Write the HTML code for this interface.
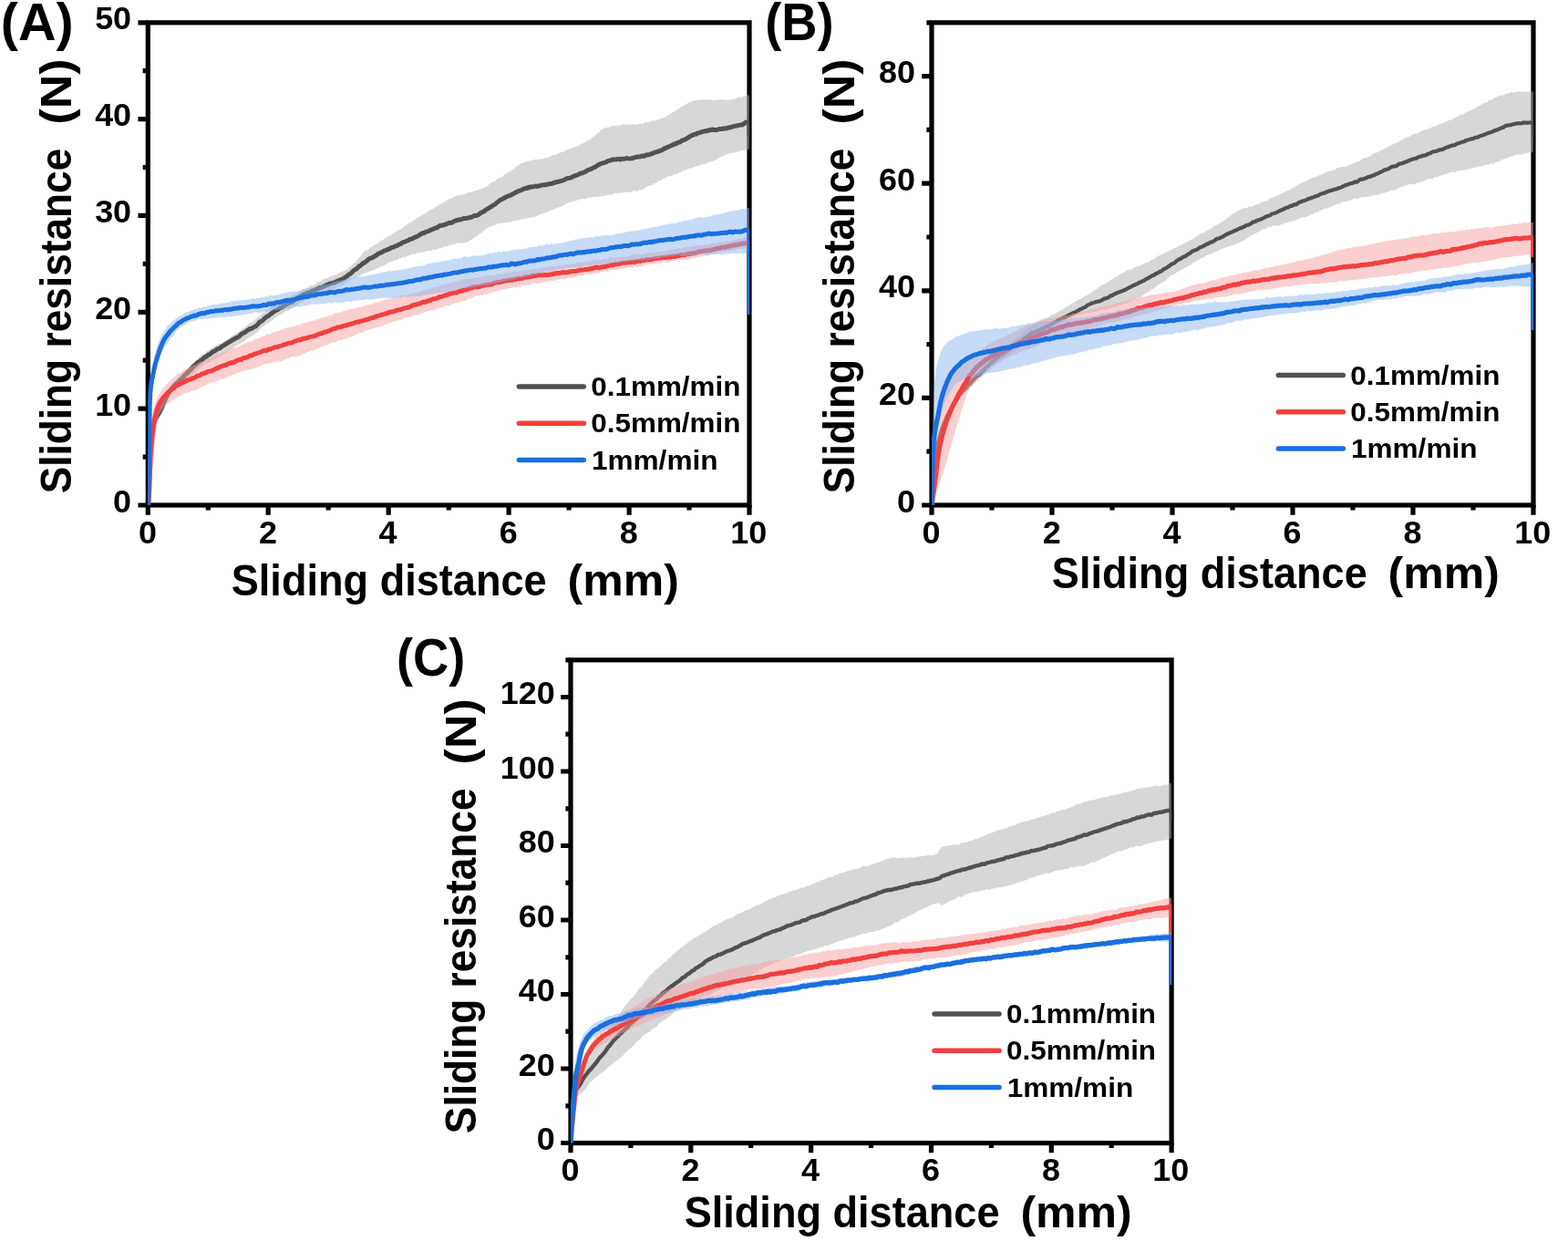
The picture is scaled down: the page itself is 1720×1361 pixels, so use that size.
<!DOCTYPE html>
<html lang="en"><head><meta charset="utf-8"><title>Sliding resistance vs sliding distance</title>
<style>html,body{margin:0;padding:0;background:#fff}body{width:1720px;height:1361px;overflow:hidden}svg{display:block}text{font-family:'Liberation Sans', sans-serif;font-weight:700;fill:#000}</style></head><body>
<svg width="1720" height="1361" viewBox="0 0 1720 1361">
<rect width="1720" height="1361" fill="#fff"/>
<g id="panelA">
<clipPath id="clipA"><rect x="162.3" y="24.8" width="660" height="529.2"/></clipPath>
<rect x="162.3" y="24.8" width="659.7" height="529.2" fill="none" stroke="#000" stroke-width="5.2"/>
<path d="M151.5 554H162.3M151.5 448.1H162.3M151.5 342.3H162.3M151.5 236.4H162.3M151.5 130.6H162.3M151.5 24.8H162.3M156.7 501.1H162.3M156.7 395.2H162.3M156.7 289.4H162.3M156.7 183.5H162.3M156.7 77.7H162.3M162.3 554V564.8M228.3 554V559.6M294.2 554V564.8M360.2 554V559.6M426.2 554V564.8M492.2 554V559.6M558.1 554V564.8M624.1 554V559.6M690.1 554V564.8M756 554V559.6M822 554V564.8" stroke="#000" stroke-width="5.2" fill="none"/>
<g clip-path="url(#clipA)" fill="none" stroke-linejoin="round">
<path d="M162.5 554 L162.7 545.2 L162.9 536.9 L163.1 529 L163.3 521.7 L163.5 515 L163.7 508.9 L163.9 503.3 L164.1 497.9 L164.3 492.7 L164.5 488 L164.7 484.1 L164.9 481.1 L165.1 479.1 L165.3 477.4 L165.5 475.8 L165.7 474.2 L165.9 472.8 L166.1 471.4 L166.3 470.1 L166.5 468.9 L166.7 467.8 L166.9 466.8 L167.1 465.8 L167.3 464.8 L167.5 463.9 L167.7 463.1 L167.9 462.4 L168.1 461.6 L168.3 460.9 L168.5 460.2 L168.7 459.6 L168.9 459 L169.1 458.5 L169.3 457.9 L169.5 457.4 L169.7 456.9 L169.9 456.3 L170.1 455.8 L170.3 455.3 L170.5 454.8 L170.7 454.3 L170.9 454 L171.1 453.5 L171.3 453.1 L171.5 452.8 L171.7 452.3 L171.9 452 L172.1 451.8 L172.3 451.2 L172.5 450.8 L172.7 450.7 L172.9 450.4 L173.1 450 L173.3 449.7 L173.5 449.4 L173.7 449.3 L173.9 448.9 L174.1 448.4 L174.3 448.2 L174.5 447.8 L175.7 445.5 L176.9 443 L178.1 440.6 L179.3 438.2 L180.5 435.9 L181.7 432.9 L182.9 430 L184.1 427.9 L185.3 425.5 L186.5 423.2 L187.7 421.9 L188.9 420.8 L190.1 419.6 L191.3 418 L192.5 416.5 L193.7 415.5 L194.9 414.8 L196.1 413.6 L197.3 412.2 L198.5 411.2 L199.7 410.1 L200.9 408.8 L202.1 407.4 L203.3 406.2 L204.5 405.1 L205.7 404 L206.9 403.2 L208.1 401.6 L209.3 400.3 L210.5 399.1 L211.7 398 L212.9 397 L214.1 395.8 L215.3 394.5 L216.5 393.4 L217.7 392.4 L218.9 390.8 L220.1 390.2 L221.3 389.4 L222.5 388.5 L223.7 388.3 L224.9 387.2 L226.1 385.5 L227.3 385 L228.5 384.3 L229.7 383.4 L230.9 382.4 L232.1 381.7 L233.3 381.2 L234.5 380.2 L235.7 379.4 L236.9 378.9 L238.1 378.1 L239.3 377.6 L240.5 377.2 L241.7 376.7 L242.9 376.4 L244.1 375.5 L245.3 374.7 L246.5 373.9 L247.7 372.8 L248.9 371.9 L250.1 371.7 L251.3 370.7 L252.5 370 L253.7 369.1 L254.9 368.1 L256.1 367.5 L257.3 366.6 L258.5 366 L259.7 364.5 L260.9 364 L262.1 363.8 L263.3 362.7 L264.5 361.5 L265.7 360.7 L266.9 359.7 L268.1 359.3 L269.3 358.5 L270.5 357.2 L271.7 356.3 L272.9 355.4 L274.1 354.3 L275.3 353.8 L276.5 353.2 L277.7 352.3 L278.9 351.4 L280.1 350.2 L281.3 349.1 L282.5 348.1 L283.7 347.3 L284.9 346.4 L286.1 345.4 L287.3 344.1 L288.5 343 L289.7 342.8 L290.9 341.9 L292.1 340.3 L293.3 339.6 L294.5 339.2 L295.7 338.1 L296.9 336.9 L298.1 336.2 L299.3 335 L300.5 334.5 L301.7 334.1 L302.9 333.4 L304.1 332.5 L305.3 331.8 L306.5 331.3 L307.7 330.4 L308.9 329.6 L310.1 328.6 L311.3 328.6 L312.5 328.2 L313.7 327.5 L314.9 327 L316.1 326.3 L317.3 325.6 L318.5 325.1 L319.7 324.7 L320.9 323.8 L322.1 323.2 L323.3 322.8 L324.5 322.4 L325.7 321.5 L326.9 320.5 L328.1 319.2 L329.3 318.9 L330.5 318.8 L331.7 317.8 L332.9 317.2 L334.1 316.8 L335.3 316.4 L336.5 315.7 L337.7 314.9 L338.9 314.4 L340.1 313.8 L341.3 313.1 L342.5 313 L343.7 312.4 L344.9 312.2 L346.1 311.7 L347.3 310.4 L348.5 309.1 L349.7 309 L350.9 308.6 L352.1 307.8 L353.3 307.6 L354.5 306.4 L355.7 305.3 L356.9 305.3 L358.1 305.4 L359.3 304.7 L360.5 304.2 L361.7 303.7 L362.9 302.9 L364.1 302.7 L365.3 302.3 L366.5 301.5 L367.7 301.5 L368.9 301.3 L370.1 300.8 L371.3 300 L372.5 299.2 L373.7 298.8 L374.9 298.1 L376.1 297.7 L377.3 296.9 L378.5 296.2 L379.7 295.9 L380.9 295.4 L382.1 294.1 L383.3 293 L384.5 292.5 L385.7 291.3 L386.9 289.9 L388.1 288.6 L389.3 287.9 L390.5 286.7 L391.7 285.3 L392.9 283.9 L394.1 282.6 L395.3 281.3 L396.5 279.1 L397.7 277.7 L398.9 276.7 L400.1 275.1 L401.3 274.5 L402.5 274.7 L403.7 274.1 L404.9 272.6 L406.1 271.5 L407.3 271.1 L408.5 270.6 L409.7 269.5 L410.9 268.8 L412.1 268 L413.3 267.4 L414.5 266.7 L415.7 265.8 L416.9 264.7 L418.1 264 L419.3 263.4 L420.5 262.8 L421.7 261.9 L422.9 260.8 L424.1 260.4 L425.3 259.3 L426.5 259.1 L427.7 259.1 L428.9 257.9 L430.1 257.1 L431.3 256.6 L432.5 255 L433.7 254.2 L434.9 254.2 L436.1 253.3 L437.3 252.5 L438.5 251.6 L439.7 251.3 L440.9 250.7 L442.1 249.8 L443.3 248.6 L444.5 248.1 L445.7 247.1 L446.9 245.9 L448.1 244.7 L449.3 244.2 L450.5 244.2 L451.7 243.2 L452.9 242.4 L454.1 241.4 L455.3 240.6 L456.5 239.7 L457.7 238.8 L458.9 238.1 L460.1 237.9 L461.3 237.2 L462.5 236.2 L463.7 235.3 L464.9 234.3 L466.1 234.1 L467.3 233.7 L468.5 232.5 L469.7 231.5 L470.9 230.6 L472.1 230.2 L473.3 230 L474.5 229.2 L475.7 228.4 L476.9 227.7 L478.1 227.1 L479.3 226.2 L480.5 225.2 L481.7 224.7 L482.9 224.3 L484.1 223.6 L485.3 222.7 L486.5 222.4 L487.7 221.5 L488.9 220.2 L490.1 219.6 L491.3 219.2 L492.5 218.2 L493.7 217.8 L494.9 217.8 L496.1 217.2 L497.3 216.1 L498.5 215.5 L499.7 215.4 L500.9 214.8 L502.1 214 L503.3 214.2 L504.5 213.9 L505.7 213.6 L506.9 213.8 L508.1 213.2 L509.3 212.8 L510.5 212.9 L511.7 212.5 L512.9 211.4 L514.1 210.8 L515.3 210.7 L516.5 211.2 L517.7 211.1 L518.9 210.1 L520.1 209.4 L521.3 209.1 L522.5 208.9 L523.7 208.5 L524.9 208.1 L526.1 207.7 L527.3 207.3 L528.5 206.7 L529.7 206.4 L530.9 205.7 L532.1 205.1 L533.3 204.9 L534.5 204.3 L535.7 203.1 L536.9 201.8 L538.1 201.2 L539.3 200.4 L540.5 199.1 L541.7 199 L542.9 198.7 L544.1 197.7 L545.3 196.3 L546.5 195.5 L547.7 194.9 L548.9 194.3 L550.1 194.5 L551.3 193.7 L552.5 192.3 L553.7 191.2 L554.9 190.6 L556.1 190 L557.3 188.9 L558.5 188.2 L559.7 187.4 L560.9 186.8 L562.1 186.4 L563.3 185.6 L564.5 184.2 L565.7 183.3 L566.9 182.5 L568.1 181.5 L569.3 180.8 L570.5 180 L571.7 179 L572.9 178.9 L574.1 178.6 L575.3 178 L576.5 177.9 L577.7 177.2 L578.9 176.4 L580.1 176.6 L581.3 176.5 L582.5 176.1 L583.7 176 L584.9 175.8 L586.1 175.2 L587.3 174.8 L588.5 175.1 L589.7 175.4 L590.9 174.5 L592.1 174.3 L593.3 174.7 L594.5 174.5 L595.7 174 L596.9 173.4 L598.1 172.8 L599.3 173.2 L600.5 173.1 L601.7 172.4 L602.9 171.8 L604.1 171.1 L605.3 170.5 L606.5 169.9 L607.7 170.3 L608.9 169.7 L610.1 169.3 L611.3 169.1 L612.5 168.3 L613.7 167.7 L614.9 167.3 L616.1 167 L617.3 166.6 L618.5 166.1 L619.7 165.7 L620.9 165.1 L622.1 164.2 L623.3 163.8 L624.5 163.8 L625.7 163 L626.9 162.3 L628.1 162 L629.3 161.4 L630.5 161.4 L631.7 160.8 L632.9 160.4 L634.1 159.9 L635.3 159.1 L636.5 158.7 L637.7 157.9 L638.9 157.5 L640.1 157.1 L641.3 156.4 L642.5 155.7 L643.7 154.5 L644.9 153.7 L646.1 153.4 L647.3 152.9 L648.5 151.9 L649.7 151 L650.9 149.9 L652.1 149.2 L653.3 148.3 L654.5 146.6 L655.7 145.8 L656.9 145.4 L658.1 144 L659.3 142.5 L660.5 141.8 L661.7 141 L662.9 140.9 L664.1 140.5 L665.3 139.8 L666.5 139.7 L667.7 139.4 L668.9 139.1 L670.1 138.6 L671.3 138 L672.5 137.5 L673.7 138 L674.9 138.1 L676.1 137.7 L677.3 137.6 L678.5 137.3 L679.7 137.3 L680.9 137.6 L682.1 137.1 L683.3 136.1 L684.5 136.2 L685.7 136.2 L686.9 136.6 L688.1 137.2 L689.3 136.7 L690.5 136.1 L691.7 136.2 L692.9 136.9 L694.1 136.3 L695.3 136.1 L696.5 136.5 L697.7 136.5 L698.9 136.4 L700.1 135.9 L701.3 135.7 L702.5 135.3 L703.7 135.9 L704.9 136.1 L706.1 135.3 L707.3 134.6 L708.5 133.9 L709.7 133.7 L710.9 133.9 L712.1 133.7 L713.3 133.4 L714.5 132.8 L715.7 132.5 L716.9 132.5 L718.1 132.4 L719.3 132.5 L720.5 132.1 L721.7 131.2 L722.9 130.9 L724.1 130.6 L725.3 130 L726.5 129.6 L727.7 129 L728.9 128.7 L730.1 128.1 L731.3 127.4 L732.5 126.7 L733.7 125.9 L734.9 124.9 L736.1 124.2 L737.3 123.6 L738.5 123.1 L739.7 122.6 L740.9 121.4 L742.1 120.7 L743.3 119.9 L744.5 118.9 L745.7 118.5 L746.9 117.4 L748.1 116.6 L749.3 116.5 L750.5 115.8 L751.7 115 L752.9 114.2 L754.1 113.3 L755.3 112.6 L756.5 112 L757.7 111.7 L758.9 111 L760.1 110.5 L761.3 110.5 L762.5 110.2 L763.7 109.9 L764.9 109.9 L766.1 109.4 L767.3 109.3 L768.5 109.6 L769.7 109.5 L770.9 109.5 L772.1 109.1 L773.3 109 L774.5 109.4 L775.7 109.6 L776.9 109.5 L778.1 109.1 L779.3 109.3 L780.5 110 L781.7 110.2 L782.9 110.1 L784.1 109.4 L785.3 109.7 L786.5 110 L787.7 109.2 L788.9 109.2 L790.1 109.4 L791.3 108.9 L792.5 109 L793.7 109.6 L794.9 109.6 L796.1 109.3 L797.3 109.8 L798.5 110.2 L799.7 109.6 L800.9 109.2 L802.1 108.8 L803.3 108.5 L804.5 108.7 L805.7 108.7 L806.9 108.1 L808.1 107.8 L809.3 107.1 L810.5 106.3 L811.7 106.4 L812.9 106.4 L814.1 106.2 L815.3 106 L816.5 105.6 L817.7 105.4 L818.9 104.9 L820.1 104.3 L821.3 104.6 L822 105.1 L822 163 L821.3 163.7 L820.1 164.2 L818.9 164.4 L817.7 164.5 L816.5 164.3 L815.3 164.7 L814.1 164.7 L812.9 164.8 L811.7 165.3 L810.5 165.9 L809.3 166.6 L808.1 166.7 L806.9 166.9 L805.7 167.5 L804.5 167.6 L803.3 167.7 L802.1 167.6 L800.9 168 L799.7 168.6 L798.5 168.8 L797.3 169.3 L796.1 169.6 L794.9 169.8 L793.7 170.7 L792.5 171.7 L791.3 171.7 L790.1 172.2 L788.9 173 L787.7 173.5 L786.5 174.9 L785.3 175.5 L784.1 175.6 L782.9 176.6 L781.7 176.8 L780.5 176.7 L779.3 177.5 L778.1 178 L776.9 178.3 L775.7 178.7 L774.5 179.2 L773.3 179.9 L772.1 179.9 L770.9 180 L769.7 180.6 L768.5 180.9 L767.3 180.9 L766.1 181.9 L764.9 182.2 L763.7 182.2 L762.5 183 L761.3 183.2 L760.1 183.5 L758.9 184.3 L757.7 184.4 L756.5 184.5 L755.3 185 L754.1 185.7 L752.9 186.3 L751.7 187 L750.5 187 L749.3 186.8 L748.1 188.1 L746.9 188.6 L745.7 188.7 L744.5 189.6 L743.3 190.3 L742.1 190.7 L740.9 191.1 L739.7 190.9 L738.5 191.5 L737.3 192.7 L736.1 192.9 L734.9 193.3 L733.7 193.5 L732.5 193.8 L731.3 194.2 L730.1 194.8 L728.9 195.9 L727.7 196.2 L726.5 196.4 L725.3 197.5 L724.1 198.2 L722.9 198.2 L721.7 198.8 L720.5 200.1 L719.3 200.9 L718.1 200.9 L716.9 201.3 L715.7 202.7 L714.5 203 L713.3 203.4 L712.1 203.9 L710.9 204.1 L709.7 204.9 L708.5 205.5 L707.3 206.3 L706.1 207.3 L704.9 207.8 L703.7 208.3 L702.5 208.1 L701.3 208 L700.1 209.3 L698.9 209.9 L697.7 209.4 L696.5 209 L695.3 209.3 L694.1 209.4 L692.9 210.4 L691.7 210.7 L690.5 210.2 L689.3 210.7 L688.1 210.9 L686.9 211 L685.7 210.6 L684.5 210.8 L683.3 211.2 L682.1 211.5 L680.9 211.4 L679.7 211.3 L678.5 211.7 L677.3 211.9 L676.1 212.2 L674.9 211.6 L673.7 212.1 L672.5 212.9 L671.3 213.3 L670.1 213.2 L668.9 213.5 L667.7 213.8 L666.5 213.6 L665.3 214 L664.1 214.5 L662.9 214.9 L661.7 215 L660.5 215.2 L659.3 215.5 L658.1 215.5 L656.9 215.6 L655.7 215.7 L654.5 215.9 L653.3 216.1 L652.1 216 L650.9 215.8 L649.7 216.6 L648.5 216.4 L647.3 216.5 L646.1 216.9 L644.9 216.8 L643.7 217.1 L642.5 217.8 L641.3 218.4 L640.1 218.4 L638.9 218.3 L637.7 218 L636.5 218.3 L635.3 218.9 L634.1 219.4 L632.9 219.5 L631.7 220.1 L630.5 220.2 L629.3 220.4 L628.1 221.1 L626.9 221.3 L625.7 221.8 L624.5 222 L623.3 222.2 L622.1 222.6 L620.9 223.7 L619.7 224.3 L618.5 224.8 L617.3 225.9 L616.1 226 L614.9 226.5 L613.7 227.3 L612.5 227.2 L611.3 227.7 L610.1 228.2 L608.9 229 L607.7 229.6 L606.5 229.9 L605.3 230.1 L604.1 230.8 L602.9 231.5 L601.7 231.9 L600.5 232.3 L599.3 232.7 L598.1 233.5 L596.9 233.5 L595.7 233.8 L594.5 234.5 L593.3 234.9 L592.1 234.9 L590.9 235.5 L589.7 236.3 L588.5 236.9 L587.3 237.2 L586.1 237.7 L584.9 238.2 L583.7 238.1 L582.5 238.4 L581.3 238.5 L580.1 238.7 L578.9 238.9 L577.7 239.8 L576.5 240.1 L575.3 239.7 L574.1 239.8 L572.9 240.2 L571.7 240.7 L570.5 241.1 L569.3 241.4 L568.1 241.1 L566.9 241.5 L565.7 242.1 L564.5 242 L563.3 242.3 L562.1 242.6 L560.9 242.9 L559.7 243.8 L558.5 243.9 L557.3 243.5 L556.1 244 L554.9 244.4 L553.7 244.3 L552.5 244.5 L551.3 244.7 L550.1 244.7 L548.9 244.8 L547.7 245.1 L546.5 245.4 L545.3 245.4 L544.1 246.2 L542.9 247.1 L541.7 246.9 L540.5 247.2 L539.3 247.9 L538.1 248.4 L536.9 248.5 L535.7 249.4 L534.5 250.4 L533.3 250.7 L532.1 251.9 L530.9 253 L529.7 253.8 L528.5 255.1 L527.3 256 L526.1 256.4 L524.9 257.3 L523.7 258.5 L522.5 259.3 L521.3 259.8 L520.1 260.6 L518.9 261.8 L517.7 262.4 L516.5 263.1 L515.3 264.2 L514.1 264.5 L512.9 264.9 L511.7 265.9 L510.5 266 L509.3 265.9 L508.1 266.6 L506.9 266.8 L505.7 266.5 L504.5 266.8 L503.3 266.6 L502.1 266.2 L500.9 266.9 L499.7 267.4 L498.5 267.6 L497.3 268.2 L496.1 268.7 L494.9 268.8 L493.7 268.5 L492.5 268.9 L491.3 270 L490.1 270.3 L488.9 270.1 L487.7 270.6 L486.5 270.8 L485.3 271.4 L484.1 272.1 L482.9 272.4 L481.7 272.1 L480.5 272.5 L479.3 273.4 L478.1 273.6 L476.9 274 L475.7 274 L474.5 273.7 L473.3 274.7 L472.1 275.2 L470.9 274.9 L469.7 275.2 L468.5 275 L467.3 275.2 L466.1 276.2 L464.9 276.2 L463.7 276.5 L462.5 276.7 L461.3 277 L460.1 277.3 L458.9 277.2 L457.7 277.5 L456.5 277.8 L455.3 278.4 L454.1 278.8 L452.9 278.3 L451.7 279 L450.5 279.6 L449.3 279.8 L448.1 280.4 L446.9 280.3 L445.7 281.2 L444.5 282.2 L443.3 281.4 L442.1 281.7 L440.9 282.7 L439.7 282.9 L438.5 283.1 L437.3 283.7 L436.1 284.6 L434.9 285.4 L433.7 285.2 L432.5 285.3 L431.3 286.2 L430.1 286.5 L428.9 287 L427.7 287.4 L426.5 287.8 L425.3 288.6 L424.1 289.3 L422.9 290 L421.7 291 L420.5 291.3 L419.3 292 L418.1 292.8 L416.9 292.3 L415.7 293.4 L414.5 294.4 L413.3 294.2 L412.1 294.9 L410.9 295.8 L409.7 296.3 L408.5 296.8 L407.3 297.1 L406.1 297.3 L404.9 297.5 L403.7 298.2 L402.5 299.2 L401.3 299.6 L400.1 299.8 L398.9 300.2 L397.7 300.6 L396.5 301.2 L395.3 301.9 L394.1 302.7 L392.9 303.4 L391.7 304.5 L390.5 305.1 L389.3 304.9 L388.1 305.3 L386.9 305.8 L385.7 306.3 L384.5 307.5 L383.3 308.6 L382.1 309 L380.9 309.5 L379.7 310.4 L378.5 311.1 L377.3 311.9 L376.1 312.8 L374.9 313.1 L373.7 314 L372.5 314.3 L371.3 314.1 L370.1 314.8 L368.9 315.6 L367.7 316.6 L366.5 317.3 L365.3 317.4 L364.1 317.8 L362.9 318.1 L361.7 318.5 L360.5 318.4 L359.3 318.9 L358.1 319.7 L356.9 320.2 L355.7 320.4 L354.5 321.2 L353.3 322.4 L352.1 321.8 L350.9 321.4 L349.7 323 L348.5 323.3 L347.3 323.6 L346.1 324.5 L344.9 324.9 L343.7 325.9 L342.5 326.3 L341.3 326.3 L340.1 326.4 L338.9 327 L337.7 328 L336.5 329 L335.3 329.2 L334.1 329.8 L332.9 330.3 L331.7 331 L330.5 331.6 L329.3 332.4 L328.1 333.4 L326.9 334.3 L325.7 335.2 L324.5 335.8 L323.3 336.6 L322.1 337.1 L320.9 337.8 L319.7 338.4 L318.5 339 L317.3 340.3 L316.1 341.2 L314.9 340.9 L313.7 341 L312.5 341.9 L311.3 342.8 L310.1 343.6 L308.9 344.6 L307.7 345.4 L306.5 345.5 L305.3 346.1 L304.1 346.9 L302.9 347.9 L301.7 349 L300.5 349.5 L299.3 350.6 L298.1 351.5 L296.9 352.4 L295.7 353.7 L294.5 354.2 L293.3 354.8 L292.1 355.6 L290.9 356.7 L289.7 357.6 L288.5 358 L287.3 359.1 L286.1 360.3 L284.9 361.4 L283.7 363.1 L282.5 364.3 L281.3 365.3 L280.1 365.6 L278.9 366.6 L277.7 367.8 L276.5 368.8 L275.3 368.8 L274.1 368.8 L272.9 370.4 L271.7 371.1 L270.5 371.7 L269.3 373 L268.1 374.1 L266.9 374.9 L265.7 375.2 L264.5 376.3 L263.3 376.8 L262.1 377.3 L260.9 378.8 L259.7 379.1 L258.5 379.2 L257.3 379.9 L256.1 381.6 L254.9 382.4 L253.7 382.7 L252.5 383.6 L251.3 384.9 L250.1 385.4 L248.9 386.3 L247.7 387.5 L246.5 387.8 L245.3 388.1 L244.1 389.3 L242.9 390.3 L241.7 390.4 L240.5 390.8 L239.3 391.6 L238.1 393.1 L236.9 393.7 L235.7 394 L234.5 394.9 L233.3 395.4 L232.1 395.4 L230.9 396.8 L229.7 397.9 L228.5 398.1 L227.3 398.3 L226.1 398.5 L224.9 399.3 L223.7 400.2 L222.5 401.1 L221.3 401.7 L220.1 402.7 L218.9 404 L217.7 404.8 L216.5 405.4 L215.3 406.8 L214.1 408.2 L212.9 409.3 L211.7 410.3 L210.5 411.1 L209.3 411.7 L208.1 413.2 L206.9 414.4 L205.7 415.2 L204.5 416.7 L203.3 417.9 L202.1 419.4 L200.9 420.5 L199.7 420.4 L198.5 421 L197.3 422.2 L196.1 423.4 L194.9 424.6 L193.7 424.9 L192.5 425.6 L191.3 427.1 L190.1 428.5 L188.9 429.7 L187.7 430.6 L186.5 431.5 L185.3 433.8 L184.1 436.6 L182.9 438.9 L181.7 441.6 L180.5 444.3 L179.3 447 L178.1 450.1 L176.9 452.9 L175.7 455.6 L174.5 457.9 L174.3 458.3 L174.1 458.5 L173.9 459 L173.7 459.6 L173.5 459.7 L173.3 460.1 L173.1 460.4 L172.9 460.7 L172.7 461 L172.5 461.5 L172.3 461.9 L172.1 462.3 L171.9 462.6 L171.7 463 L171.5 463.4 L171.3 463.8 L171.1 464 L170.9 464.5 L170.7 465.1 L170.5 465.8 L170.3 466.4 L170.1 467 L169.9 467.7 L169.7 468.4 L169.5 469.2 L169.3 470.1 L169.1 471.1 L168.9 472.2 L168.7 473.5 L168.5 474.7 L168.3 476.1 L168.1 477.5 L167.9 479 L167.7 480.7 L167.5 482.4 L167.3 484.2 L167.1 486.1 L166.9 488.1 L166.7 490.2 L166.5 492.4 L166.3 494.7 L166.1 497.3 L165.9 501 L165.7 505.3 L165.5 510.1 L165.3 515.2 L165.1 520.2 L164.9 524.9 L164.7 529.1 L164.5 532.5 L164.3 535.3 L164.1 538.1 L163.9 540.7 L163.7 543.3 L163.5 545.6 L163.3 547.7 L163.1 549.7 L162.9 551.4 L162.7 552.8 L162.5 554Z" fill="#B0B0B0" fill-opacity="0.5" stroke="none"/>
<path d="M162.5 554 L162.7 548.3 L162.9 542.7 L163.1 537.2 L163.3 531.8 L163.5 526.5 L163.7 521.3 L163.9 516 L164.1 510.5 L164.3 505 L164.5 499.8 L164.7 495.2 L164.9 491.4 L165.1 488.8 L165.3 486.5 L165.5 484.4 L165.7 482.5 L165.9 480.7 L166.1 479.1 L166.3 477.6 L166.5 476.2 L166.7 474.9 L166.9 473.7 L167.1 472.6 L167.3 471.5 L167.5 470.5 L167.7 469.5 L167.9 468.5 L168.1 467.6 L168.3 466.8 L168.5 465.9 L168.7 465.2 L168.9 464.4 L169.1 463.6 L169.3 463 L169.5 462.5 L169.7 461.8 L169.9 461.3 L170.1 460.7 L170.3 460.2 L170.5 459.8 L170.7 459.3 L170.9 458.9 L171.1 458.6 L171.3 458.2 L171.5 457.8 L171.7 457.5 L171.9 457.1 L172.1 456.7 L172.3 456.4 L172.5 456.1 L172.7 455.8 L172.9 455.5 L173.1 455.1 L173.3 454.8 L173.5 454.5 L173.7 454.3 L173.9 454 L174.1 453.5 L174.3 453.2 L174.5 453 L175.7 450.7 L176.9 448.3 L178.1 445.8 L179.3 442.9 L180.5 440.3 L181.7 437.5 L182.9 434.8 L184.1 432.4 L185.3 430.5 L186.5 428.8 L187.7 426.8 L188.9 425.5 L190.1 424.1 L191.3 422.6 L192.5 421.5 L193.7 420.3 L194.9 419.6 L196.1 418.6 L197.3 416.9 L198.5 416.2 L199.7 415.4 L200.9 413.8 L202.1 412 L203.3 410.8 L204.5 410.1 L205.7 408.8 L206.9 407.5 L208.1 406.6 L209.3 405.1 L210.5 403.8 L211.7 402.5 L212.9 401.1 L214.1 400.3 L215.3 399.4 L216.5 398 L217.7 397.1 L218.9 396.4 L220.1 395.3 L221.3 394.6 L222.5 393.7 L223.7 392.5 L224.9 391.5 L226.1 391.2 L227.3 390.3 L228.5 389.2 L229.7 388.8 L230.9 387.9 L232.1 386.9 L233.3 385.9 L234.5 385.4 L235.7 384.8 L236.9 384 L238.1 382.9 L239.3 382.5 L240.5 382.3 L241.7 381.4 L242.9 380.3 L244.1 379.5 L245.3 379 L246.5 378.2 L247.7 377.3 L248.9 376.5 L250.1 376 L251.3 375.1 L252.5 374.4 L253.7 373.8 L254.9 372.9 L256.1 372.4 L257.3 371.6 L258.5 370.8 L259.7 370.4 L260.9 369.8 L262.1 369.1 L263.3 368 L264.5 366.5 L265.7 365.8 L266.9 365.1 L268.1 364.8 L269.3 364.1 L270.5 362.9 L271.7 362.2 L272.9 361.6 L274.1 360.4 L275.3 360.5 L276.5 360.2 L277.7 359.2 L278.9 358.6 L280.1 358.2 L281.3 357.1 L282.5 355.9 L283.7 354.6 L284.9 353.1 L286.1 352.5 L287.3 352.1 L288.5 350.9 L289.7 349.7 L290.9 348.7 L292.1 347.7 L293.3 347 L294.5 346.3 L295.7 345.3 L296.9 344.4 L298.1 343.6 L299.3 342.7 L300.5 341.8 L301.7 340.8 L302.9 340.2 L304.1 340.1 L305.3 339.2 L306.5 338.1 L307.7 337.7 L308.9 337.2 L310.1 336.6 L311.3 335.5 L312.5 334.9 L313.7 334.2 L314.9 333.3 L316.1 332.8 L317.3 332.2 L318.5 331.6 L319.7 331.5 L320.9 330.8 L322.1 329.8 L323.3 328.7 L324.5 327.8 L325.7 327.1 L326.9 326.4 L328.1 325.8 L329.3 325.1 L330.5 324.7 L331.7 323.9 L332.9 323 L334.1 322.4 L335.3 322.1 L336.5 321.7 L337.7 321.2 L338.9 321 L340.1 320.2 L341.3 319.7 L342.5 319 L343.7 318.8 L344.9 318.8 L346.1 318 L347.3 317.1 L348.5 316.7 L349.7 316.1 L350.9 315.4 L352.1 315.4 L353.3 315 L354.5 314.3 L355.7 313.9 L356.9 313.3 L358.1 312.7 L359.3 312.4 L360.5 311.6 L361.7 311.3 L362.9 310.8 L364.1 310.6 L365.3 310.3 L366.5 310 L367.7 309.4 L368.9 308.8 L370.1 308.4 L371.3 307.6 L372.5 307.3 L373.7 307.1 L374.9 306.3 L376.1 305.7 L377.3 305.2 L378.5 304.2 L379.7 303.5 L380.9 302.8 L382.1 301.5 L383.3 300.7 L384.5 300.2 L385.7 299 L386.9 297.7 L388.1 296.7 L389.3 295.8 L390.5 295.2 L391.7 294.3 L392.9 293 L394.1 291.9 L395.3 291.4 L396.5 290.4 L397.7 289.1 L398.9 288.5 L400.1 287.9 L401.3 286.9 L402.5 285.9 L403.7 284.8 L404.9 283.9 L406.1 283.4 L407.3 283 L408.5 282.4 L409.7 281.9 L410.9 281.2 L412.1 280.4 L413.3 279.6 L414.5 278.5 L415.7 277.9 L416.9 277.5 L418.1 276.9 L419.3 276.4 L420.5 275.7 L421.7 274.9 L422.9 274.6 L424.1 274.2 L425.3 273.6 L426.5 273.1 L427.7 272.7 L428.9 271.8 L430.1 271.3 L431.3 271.3 L432.5 270.6 L433.7 269.9 L434.9 269.7 L436.1 269.2 L437.3 268.3 L438.5 267.8 L439.7 267.4 L440.9 266.5 L442.1 265.7 L443.3 265.4 L444.5 265 L445.7 264.4 L446.9 264 L448.1 263.5 L449.3 262.5 L450.5 262.3 L451.7 262 L452.9 261.6 L454.1 260.7 L455.3 260.1 L456.5 259.8 L457.7 259.3 L458.9 258.5 L460.1 257.6 L461.3 257.1 L462.5 256.2 L463.7 255.6 L464.9 255.7 L466.1 255.1 L467.3 254.1 L468.5 253.9 L469.7 253.6 L470.9 253.2 L472.1 252.4 L473.3 251.7 L474.5 251.6 L475.7 250.9 L476.9 250.2 L478.1 250 L479.3 249.8 L480.5 249 L481.7 247.9 L482.9 247.3 L484.1 247.3 L485.3 247.1 L486.5 246.9 L487.7 246.4 L488.9 245.9 L490.1 245.7 L491.3 245 L492.5 244.5 L493.7 244.2 L494.9 244.4 L496.1 244.1 L497.3 243.1 L498.5 242.4 L499.7 242.1 L500.9 241.6 L502.1 241.3 L503.3 241 L504.5 241 L505.7 240.8 L506.9 240.2 L508.1 239.7 L509.3 239.4 L510.5 239.4 L511.7 239.3 L512.9 239.2 L514.1 238.8 L515.3 238.5 L516.5 238.4 L517.7 237.9 L518.9 237.2 L520.1 236.6 L521.3 236.6 L522.5 236.6 L523.7 236 L524.9 235.3 L526.1 234.5 L527.3 233.5 L528.5 232.8 L529.7 232.4 L530.9 231.8 L532.1 230.8 L533.3 229.9 L534.5 229.2 L535.7 228.6 L536.9 227.6 L538.1 227.1 L539.3 226.5 L540.5 225.3 L541.7 224.8 L542.9 224.1 L544.1 223 L545.3 222.1 L546.5 221.2 L547.7 220.2 L548.9 219.2 L550.1 218.8 L551.3 218.1 L552.5 217.4 L553.7 216.9 L554.9 216 L556.1 215.5 L557.3 215.1 L558.5 214.6 L559.7 214.3 L560.9 213.7 L562.1 213 L563.3 212.3 L564.5 211.6 L565.7 211.2 L566.9 210.4 L568.1 209.8 L569.3 209.4 L570.5 209 L571.7 208.6 L572.9 208 L574.1 207.3 L575.3 207.1 L576.5 206.5 L577.7 205.9 L578.9 206.4 L580.1 205.6 L581.3 205 L582.5 205.3 L583.7 204.8 L584.9 204.9 L586.1 204.5 L587.3 204 L588.5 204.6 L589.7 204.3 L590.9 204 L592.1 203.7 L593.3 203.3 L594.5 203.1 L595.7 203 L596.9 202.6 L598.1 202.9 L599.3 202.6 L600.5 202 L601.7 202.1 L602.9 201.7 L604.1 201.5 L605.3 201.5 L606.5 200.8 L607.7 200.5 L608.9 200.3 L610.1 199.8 L611.3 199.5 L612.5 199.2 L613.7 199 L614.9 198.6 L616.1 198.2 L617.3 197.9 L618.5 197.5 L619.7 197 L620.9 196.2 L622.1 195.6 L623.3 195.4 L624.5 195.3 L625.7 195.1 L626.9 194.7 L628.1 193.9 L629.3 193.2 L630.5 192.9 L631.7 192.4 L632.9 192.1 L634.1 191.7 L635.3 190.8 L636.5 190.1 L637.7 190 L638.9 189.8 L640.1 189.1 L641.3 188.7 L642.5 188.1 L643.7 187.3 L644.9 186.7 L646.1 185.9 L647.3 185.7 L648.5 185.3 L649.7 184.5 L650.9 183.9 L652.1 183.5 L653.3 183 L654.5 182.1 L655.7 181.2 L656.9 180.6 L658.1 180 L659.3 179.4 L660.5 179.1 L661.7 178.6 L662.9 178.4 L664.1 178.1 L665.3 177.4 L666.5 176.8 L667.7 176.3 L668.9 176.1 L670.1 175.9 L671.3 175.1 L672.5 174.8 L673.7 175 L674.9 175 L676.1 174.9 L677.3 174.5 L678.5 174.2 L679.7 174.7 L680.9 175 L682.1 174.2 L683.3 174.2 L684.5 174.4 L685.7 174 L686.9 173.6 L688.1 173.6 L689.3 173.9 L690.5 174.1 L691.7 173.9 L692.9 173.7 L694.1 173.6 L695.3 172.9 L696.5 172.5 L697.7 172.4 L698.9 172 L700.1 171.8 L701.3 171.9 L702.5 171.7 L703.7 171.1 L704.9 170.9 L706.1 171.3 L707.3 171 L708.5 169.9 L709.7 169.8 L710.9 169.9 L712.1 169.7 L713.3 169 L714.5 168.7 L715.7 168.3 L716.9 167.6 L718.1 167.2 L719.3 166.9 L720.5 166.6 L721.7 166.3 L722.9 165.7 L724.1 165.4 L725.3 164.9 L726.5 164.5 L727.7 163.7 L728.9 162.8 L730.1 162.5 L731.3 162 L732.5 161.2 L733.7 160.9 L734.9 160.3 L736.1 159.6 L737.3 159.4 L738.5 158.4 L739.7 157.8 L740.9 158 L742.1 157.3 L743.3 156.4 L744.5 156 L745.7 155.9 L746.9 155 L748.1 154.1 L749.3 153.7 L750.5 153.4 L751.7 152.8 L752.9 152.2 L754.1 151.3 L755.3 150.6 L756.5 150 L757.7 149 L758.9 148.6 L760.1 148.1 L761.3 147.4 L762.5 147.3 L763.7 147.1 L764.9 146 L766.1 145.9 L767.3 145.6 L768.5 145.1 L769.7 144.8 L770.9 144.3 L772.1 144.2 L773.3 143.7 L774.5 143.6 L775.7 143.8 L776.9 143.1 L778.1 142.5 L779.3 142.8 L780.5 142.4 L781.7 141.9 L782.9 142.4 L784.1 142.5 L785.3 142.5 L786.5 142.4 L787.7 141.9 L788.9 141.6 L790.1 141.5 L791.3 141.5 L792.5 141.2 L793.7 140.9 L794.9 140.8 L796.1 140.9 L797.3 140.8 L798.5 140.2 L799.7 139.7 L800.9 139.8 L802.1 139.5 L803.3 139 L804.5 138.6 L805.7 138.3 L806.9 138.3 L808.1 138.1 L809.3 137.5 L810.5 137.4 L811.7 137.1 L812.9 137 L814.1 137 L815.3 136 L816.5 135.4 L817.7 134.4 L818.9 133.9 L820.1 134 L821.3 133.9 L822 133.4 M822 133V150" stroke="#515151" stroke-width="5.0"/>
<path d="M162.5 554 L162.7 545.9 L162.9 538.1 L163.1 530.5 L163.3 523.1 L163.5 516 L163.7 509.2 L163.9 502.3 L164.1 495.2 L164.3 488 L164.5 481.4 L164.7 475.7 L164.9 471.5 L165.1 468.8 L165.3 466.6 L165.5 464.7 L165.7 462.9 L165.9 461.4 L166.1 460 L166.3 458.7 L166.5 457.6 L166.7 456.5 L166.9 455.5 L167.1 454.5 L167.3 453.5 L167.5 452.5 L167.7 451.5 L167.9 450.5 L168.1 449.6 L168.3 448.6 L168.5 447.8 L168.7 447 L168.9 446.2 L169.1 445.4 L169.3 444.7 L169.5 444 L169.7 443.3 L169.9 442.6 L170.1 442.2 L170.3 441.7 L170.5 441.1 L170.7 440.5 L170.9 439.9 L171.1 439.5 L171.3 439 L171.5 438.5 L171.7 438 L171.9 437.6 L172.1 437.2 L172.3 436.5 L172.5 436.2 L172.7 435.8 L172.9 435.4 L173.1 435.1 L173.3 434.8 L173.5 434.5 L173.7 434 L173.9 433.5 L174.1 433.1 L174.3 432.9 L174.5 432.7 L175.7 430.8 L176.9 428.9 L178.1 426.7 L179.3 425.5 L180.5 424.4 L181.7 422.7 L182.9 421.2 L184.1 420 L185.3 418.8 L186.5 417.2 L187.7 416.2 L188.9 415.2 L190.1 413.7 L191.3 413.3 L192.5 412.8 L193.7 411.4 L194.9 409.9 L196.1 409.3 L197.3 409.2 L198.5 408.3 L199.7 407.2 L200.9 406.2 L202.1 405.6 L203.3 405.2 L204.5 405 L205.7 404.6 L206.9 403.5 L208.1 402.6 L209.3 402.2 L210.5 401.4 L211.7 400.6 L212.9 400.6 L214.1 400.1 L215.3 399.2 L216.5 398.4 L217.7 397.9 L218.9 397.1 L220.1 396.6 L221.3 396.7 L222.5 396.8 L223.7 396.2 L224.9 395.4 L226.1 394.6 L227.3 393.8 L228.5 393.3 L229.7 393.1 L230.9 392.3 L232.1 391.8 L233.3 391.1 L234.5 389.8 L235.7 389.4 L236.9 388.9 L238.1 388.4 L239.3 388.6 L240.5 388.4 L241.7 387.7 L242.9 387.5 L244.1 387.4 L245.3 386.5 L246.5 386 L247.7 385.7 L248.9 384.9 L250.1 384.4 L251.3 383.6 L252.5 382.8 L253.7 382.6 L254.9 382.3 L256.1 381.7 L257.3 381.1 L258.5 380.9 L259.7 381 L260.9 380.4 L262.1 379.8 L263.3 379.1 L264.5 378.2 L265.7 378 L266.9 377.4 L268.1 376.6 L269.3 376.7 L270.5 376.2 L271.7 374.9 L272.9 374.7 L274.1 374.9 L275.3 374.3 L276.5 373.9 L277.7 373.3 L278.9 372.3 L280.1 371.6 L281.3 371.3 L282.5 371.4 L283.7 370.8 L284.9 370.4 L286.1 370 L287.3 368.9 L288.5 368.8 L289.7 368.6 L290.9 367.9 L292.1 366.8 L293.3 366.5 L294.5 366.4 L295.7 366.4 L296.9 366.2 L298.1 365.1 L299.3 364.5 L300.5 363.9 L301.7 363.7 L302.9 363.5 L304.1 363.4 L305.3 362.9 L306.5 362.4 L307.7 361.7 L308.9 361.8 L310.1 361.4 L311.3 360.2 L312.5 360.2 L313.7 359.8 L314.9 359.3 L316.1 359.3 L317.3 359 L318.5 358.6 L319.7 358.4 L320.9 358.4 L322.1 358.6 L323.3 357.7 L324.5 356.9 L325.7 356.4 L326.9 356.1 L328.1 356.4 L329.3 355.7 L330.5 355.2 L331.7 354.8 L332.9 354.1 L334.1 353.7 L335.3 353.9 L336.5 353.9 L337.7 353.1 L338.9 352.7 L340.1 352.7 L341.3 352 L342.5 351.5 L343.7 352.2 L344.9 351.8 L346.1 350.8 L347.3 350.6 L348.5 349.9 L349.7 349.4 L350.9 349.6 L352.1 349.2 L353.3 348.7 L354.5 348.1 L355.7 347.7 L356.9 347.3 L358.1 347.2 L359.3 347 L360.5 346.4 L361.7 345.2 L362.9 345.3 L364.1 345.7 L365.3 344.9 L366.5 343.9 L367.7 343.3 L368.9 343.6 L370.1 343.3 L371.3 342.6 L372.5 342.7 L373.7 342.6 L374.9 342.1 L376.1 341.3 L377.3 340.8 L378.5 340.9 L379.7 340.9 L380.9 340.1 L382.1 339.3 L383.3 338.9 L384.5 339 L385.7 338.6 L386.9 338.4 L388.1 338.4 L389.3 338.1 L390.5 338 L391.7 337.6 L392.9 336.9 L394.1 336.5 L395.3 337 L396.5 336.4 L397.7 335.4 L398.9 335.6 L400.1 335.5 L401.3 334.7 L402.5 334.1 L403.7 334.2 L404.9 334.3 L406.1 334.1 L407.3 333.7 L408.5 333.2 L409.7 332.6 L410.9 332.1 L412.1 331.9 L413.3 331.6 L414.5 331.6 L415.7 331.4 L416.9 330.6 L418.1 330.2 L419.3 330.1 L420.5 329.2 L421.7 328.8 L422.9 328.4 L424.1 328.2 L425.3 328.2 L426.5 327.9 L427.7 327.7 L428.9 327.2 L430.1 326.8 L431.3 326.3 L432.5 326.1 L433.7 326 L434.9 325.6 L436.1 325.5 L437.3 325.4 L438.5 324.7 L439.7 324 L440.9 324 L442.1 324.2 L443.3 324.2 L444.5 324 L445.7 323.9 L446.9 323.4 L448.1 322.8 L449.3 322.4 L450.5 321.8 L451.7 321.7 L452.9 321.6 L454.1 321.5 L455.3 321 L456.5 320.5 L457.7 320.4 L458.9 320 L460.1 319.8 L461.3 319.5 L462.5 318.9 L463.7 318 L464.9 317.8 L466.1 317.7 L467.3 317.3 L468.5 316.8 L469.7 317.2 L470.9 316.8 L472.1 315.8 L473.3 315.8 L474.5 315.1 L475.7 314.7 L476.9 315.2 L478.1 315.2 L479.3 314.6 L480.5 314.2 L481.7 313.8 L482.9 313.6 L484.1 313.1 L485.3 312.4 L486.5 312.2 L487.7 312.2 L488.9 311.9 L490.1 311.6 L491.3 310.6 L492.5 310.5 L493.7 311.2 L494.9 311 L496.1 309.9 L497.3 309.1 L498.5 309.1 L499.7 308.8 L500.9 308.6 L502.1 308.3 L503.3 308.1 L504.5 308.2 L505.7 307.2 L506.9 306.6 L508.1 306.6 L509.3 306 L510.5 305.9 L511.7 305.9 L512.9 305.9 L514.1 305.5 L515.3 305.2 L516.5 305.8 L517.7 305.6 L518.9 305.1 L520.1 304.9 L521.3 304.3 L522.5 304.3 L523.7 304.4 L524.9 304.2 L526.1 304.5 L527.3 304.3 L528.5 303.5 L529.7 303.5 L530.9 303.1 L532.1 302.2 L533.3 302.1 L534.5 301.9 L535.7 302 L536.9 302 L538.1 302 L539.3 302.2 L540.5 301.7 L541.7 301 L542.9 300.9 L544.1 301.1 L545.3 300.4 L546.5 300.1 L547.7 300.4 L548.9 300.2 L550.1 300.3 L551.3 300.3 L552.5 299.6 L553.7 299.2 L554.9 299.2 L556.1 299.2 L557.3 299 L558.5 298.8 L559.7 298.9 L560.9 298.7 L562.1 298.4 L563.3 297.6 L564.5 298 L565.7 298.1 L566.9 297.8 L568.1 297.8 L569.3 297.4 L570.5 297.7 L571.7 297.4 L572.9 297.1 L574.1 296.6 L575.3 296.4 L576.5 296.6 L577.7 296.2 L578.9 296 L580.1 295.9 L581.3 296.1 L582.5 295.4 L583.7 295 L584.9 294.9 L586.1 295.1 L587.3 295 L588.5 294.7 L589.7 294.4 L590.9 294.2 L592.1 294.4 L593.3 294.1 L594.5 293.6 L595.7 293.3 L596.9 293.1 L598.1 293.5 L599.3 293.2 L600.5 293.1 L601.7 292.6 L602.9 291.9 L604.1 291.9 L605.3 292 L606.5 292.2 L607.7 292.1 L608.9 292.2 L610.1 292 L611.3 291.7 L612.5 291.1 L613.7 290.6 L614.9 291.2 L616.1 290.8 L617.3 290.1 L618.5 290.8 L619.7 290.9 L620.9 290.2 L622.1 290 L623.3 290.1 L624.5 290.4 L625.7 289.7 L626.9 289.4 L628.1 289.6 L629.3 289.5 L630.5 289.6 L631.7 289 L632.9 288.1 L634.1 288 L635.3 288.5 L636.5 288.4 L637.7 287.8 L638.9 288 L640.1 287.7 L641.3 287.2 L642.5 287.1 L643.7 286.7 L644.9 286.5 L646.1 286.8 L647.3 286.4 L648.5 285.7 L649.7 285.4 L650.9 285.4 L652.1 285.6 L653.3 285.5 L654.5 285 L655.7 284.8 L656.9 285.1 L658.1 285 L659.3 284.8 L660.5 284.6 L661.7 284.4 L662.9 283.9 L664.1 284 L665.3 284.2 L666.5 284.1 L667.7 283.3 L668.9 282.5 L670.1 282.2 L671.3 282.2 L672.5 282.8 L673.7 283 L674.9 282.6 L676.1 282.4 L677.3 282.4 L678.5 282.2 L679.7 282 L680.9 282 L682.1 281.4 L683.3 281.2 L684.5 282 L685.7 281.9 L686.9 281.4 L688.1 281.2 L689.3 280.8 L690.5 280.9 L691.7 280.7 L692.9 280 L694.1 279.1 L695.3 279.1 L696.5 279.2 L697.7 278.6 L698.9 279.1 L700.1 279.6 L701.3 278.8 L702.5 278.6 L703.7 279.3 L704.9 278.8 L706.1 278.7 L707.3 278.3 L708.5 277.6 L709.7 277.5 L710.9 277.3 L712.1 277.8 L713.3 277.5 L714.5 276.7 L715.7 276.6 L716.9 276.8 L718.1 276.7 L719.3 276.9 L720.5 276.6 L721.7 275.9 L722.9 275.8 L724.1 275.9 L725.3 275.6 L726.5 275.4 L727.7 275.9 L728.9 275.6 L730.1 275 L731.3 275.2 L732.5 274.9 L733.7 274.1 L734.9 273.9 L736.1 273.8 L737.3 273.9 L738.5 273.5 L739.7 273.2 L740.9 273.4 L742.1 273.4 L743.3 272.6 L744.5 272.1 L745.7 272.3 L746.9 272.4 L748.1 272.1 L749.3 271.5 L750.5 271.6 L751.7 271.2 L752.9 271 L754.1 271.2 L755.3 271.1 L756.5 270.7 L757.7 270.4 L758.9 270.2 L760.1 269.9 L761.3 270.1 L762.5 270.1 L763.7 269.8 L764.9 269.4 L766.1 269.2 L767.3 269 L768.5 268.6 L769.7 268.7 L770.9 268.8 L772.1 268.6 L773.3 268.3 L774.5 268.3 L775.7 268.1 L776.9 267.9 L778.1 267.8 L779.3 267.5 L780.5 267 L781.7 266.9 L782.9 266.8 L784.1 266.6 L785.3 266.9 L786.5 266.8 L787.7 266.1 L788.9 265.5 L790.1 265.4 L791.3 265.4 L792.5 265.5 L793.7 265.2 L794.9 264.7 L796.1 264.7 L797.3 264.4 L798.5 264 L799.7 264.3 L800.9 264.6 L802.1 264.2 L803.3 263.8 L804.5 263.1 L805.7 262.9 L806.9 262.8 L808.1 262.7 L809.3 262.3 L810.5 262.2 L811.7 262 L812.9 261.9 L814.1 262.1 L815.3 261.8 L816.5 261 L817.7 260.4 L818.9 260.1 L820.1 260.1 L821.3 260.5 L822 260.6 L822 271.9 L821.3 271.9 L820.1 271.8 L818.9 271.9 L817.7 272 L816.5 272.7 L815.3 272.9 L814.1 272.7 L812.9 273 L811.7 272.8 L810.5 273.3 L809.3 273.6 L808.1 273.6 L806.9 274.1 L805.7 274.5 L804.5 274.1 L803.3 274.2 L802.1 274.9 L800.9 274.4 L799.7 275 L798.5 275.4 L797.3 275.4 L796.1 276.1 L794.9 275.8 L793.7 275.8 L792.5 276.6 L791.3 276.4 L790.1 276.4 L788.9 276.8 L787.7 277 L786.5 277.8 L785.3 278.1 L784.1 277.8 L782.9 278.2 L781.7 278.8 L780.5 278.6 L779.3 278.7 L778.1 279.4 L776.9 280 L775.7 280.7 L774.5 280.3 L773.3 279.8 L772.1 280.5 L770.9 281.2 L769.7 281.3 L768.5 281.7 L767.3 281.5 L766.1 281.7 L764.9 282 L763.7 282.4 L762.5 282.7 L761.3 282.9 L760.1 282.8 L758.9 282.7 L757.7 283.5 L756.5 283.9 L755.3 284.3 L754.1 284.9 L752.9 284.9 L751.7 284.4 L750.5 284.6 L749.3 285.1 L748.1 285.1 L746.9 284.9 L745.7 285 L744.5 284.9 L743.3 285.1 L742.1 285.7 L740.9 285.9 L739.7 285.8 L738.5 286 L737.3 286.3 L736.1 286.5 L734.9 286.6 L733.7 287.8 L732.5 288.1 L731.3 287.4 L730.1 287.6 L728.9 287.7 L727.7 287.3 L726.5 287.6 L725.3 288.7 L724.1 289.2 L722.9 289.1 L721.7 288.4 L720.5 288.7 L719.3 289.2 L718.1 288.7 L716.9 289.3 L715.7 290.2 L714.5 290 L713.3 289.8 L712.1 289.6 L710.9 290.2 L709.7 290.8 L708.5 289.8 L707.3 290.2 L706.1 291.2 L704.9 291.6 L703.7 292.2 L702.5 291.8 L701.3 292.2 L700.1 292.9 L698.9 292.8 L697.7 292.6 L696.5 292.5 L695.3 292.5 L694.1 293.3 L692.9 293.6 L691.7 293.2 L690.5 293.4 L689.3 293.6 L688.1 293.5 L686.9 293.8 L685.7 294 L684.5 294.4 L683.3 294.6 L682.1 294.6 L680.9 294.9 L679.7 294.6 L678.5 295.2 L677.3 295.9 L676.1 295.9 L674.9 296.1 L673.7 296.2 L672.5 296.2 L671.3 296.2 L670.1 296.3 L668.9 296.5 L667.7 297.3 L666.5 297.7 L665.3 297.2 L664.1 297.2 L662.9 297.8 L661.7 297.9 L660.5 298 L659.3 298 L658.1 298.7 L656.9 299.4 L655.7 299.3 L654.5 299.7 L653.3 299.9 L652.1 299.6 L650.9 299.8 L649.7 299.9 L648.5 300.4 L647.3 300.7 L646.1 300.6 L644.9 301.1 L643.7 301.4 L642.5 301.1 L641.3 300.8 L640.1 301.8 L638.9 302.1 L637.7 302.2 L636.5 302.2 L635.3 302.3 L634.1 303 L632.9 303.3 L631.7 303.8 L630.5 304 L629.3 303.8 L628.1 304.5 L626.9 304.6 L625.7 304.6 L624.5 304.8 L623.3 304.8 L622.1 305.2 L620.9 305.6 L619.7 306.1 L618.5 306.7 L617.3 306.1 L616.1 305.7 L614.9 305.9 L613.7 306.4 L612.5 306.7 L611.3 306.5 L610.1 307.3 L608.9 308.1 L607.7 308.3 L606.5 308 L605.3 307.8 L604.1 308 L602.9 308.6 L601.7 308.3 L600.5 308.6 L599.3 309.5 L598.1 309.4 L596.9 309.6 L595.7 310.2 L594.5 309.9 L593.3 309.8 L592.1 310.3 L590.9 310.9 L589.7 311.4 L588.5 311.1 L587.3 310.7 L586.1 310.4 L584.9 310.8 L583.7 311.1 L582.5 311.5 L581.3 312.4 L580.1 312.6 L578.9 312.6 L577.7 312.8 L576.5 313 L575.3 313.3 L574.1 312.9 L572.9 313 L571.7 313.7 L570.5 314.5 L569.3 315 L568.1 314.8 L566.9 314.8 L565.7 314.9 L564.5 314.7 L563.3 314.6 L562.1 315.6 L560.9 316.1 L559.7 316 L558.5 316 L557.3 316 L556.1 316.8 L554.9 317.5 L553.7 317.3 L552.5 317.1 L551.3 317.5 L550.1 318.1 L548.9 318 L547.7 318.3 L546.5 319.2 L545.3 319.6 L544.1 319.7 L542.9 319.8 L541.7 320.1 L540.5 320.2 L539.3 320.5 L538.1 320.9 L536.9 321.5 L535.7 321.9 L534.5 322.5 L533.3 322.7 L532.1 322.5 L530.9 322.7 L529.7 323.2 L528.5 323.7 L527.3 323.5 L526.1 323.7 L524.9 324.6 L523.7 324.7 L522.5 324.3 L521.3 324.5 L520.1 325.4 L518.9 326.4 L517.7 326.7 L516.5 326.9 L515.3 327.6 L514.1 328 L512.9 327.8 L511.7 329 L510.5 330.2 L509.3 330 L508.1 329.6 L506.9 330.3 L505.7 331 L504.5 330.9 L503.3 331.3 L502.1 332.1 L500.9 332.2 L499.7 332.3 L498.5 332.8 L497.3 333.2 L496.1 333.3 L494.9 334.1 L493.7 335.2 L492.5 335 L491.3 335.2 L490.1 335.3 L488.9 335.5 L487.7 336.1 L486.5 336.7 L485.3 336.7 L484.1 337.3 L482.9 337.9 L481.7 337.6 L480.5 338.3 L479.3 338.6 L478.1 338.9 L476.9 339.8 L475.7 340.2 L474.5 340.3 L473.3 340 L472.1 340.1 L470.9 340.7 L469.7 341.1 L468.5 341.5 L467.3 341.8 L466.1 342.4 L464.9 343.1 L463.7 343 L462.5 343.4 L461.3 343.8 L460.1 344.3 L458.9 344.7 L457.7 344.6 L456.5 345.4 L455.3 346 L454.1 345.8 L452.9 346.3 L451.7 347.1 L450.5 347.2 L449.3 347.3 L448.1 347.7 L446.9 348.3 L445.7 348.4 L444.5 348.7 L443.3 349.4 L442.1 349.4 L440.9 350.2 L439.7 350.8 L438.5 350.9 L437.3 351.1 L436.1 351.7 L434.9 352.1 L433.7 352.3 L432.5 352.3 L431.3 352.6 L430.1 353.2 L428.9 354.1 L427.7 354.3 L426.5 354.7 L425.3 355.3 L424.1 355.5 L422.9 355.7 L421.7 355.7 L420.5 356.4 L419.3 357.9 L418.1 358.1 L416.9 357.6 L415.7 358.3 L414.5 359 L413.3 359 L412.1 359.2 L410.9 360 L409.7 360 L408.5 360.7 L407.3 361.5 L406.1 361.3 L404.9 361.7 L403.7 362 L402.5 362.4 L401.3 362.4 L400.1 362.8 L398.9 364.1 L397.7 364.3 L396.5 364.7 L395.3 364.8 L394.1 365.2 L392.9 365.7 L391.7 366.2 L390.5 367.1 L389.3 367.6 L388.1 368.2 L386.9 369 L385.7 369.2 L384.5 369.6 L383.3 370.3 L382.1 370.3 L380.9 370.9 L379.7 371.5 L378.5 371.6 L377.3 371.7 L376.1 372.3 L374.9 373 L373.7 373.2 L372.5 373.1 L371.3 373.3 L370.1 373.9 L368.9 374.8 L367.7 375.4 L366.5 375.4 L365.3 375.4 L364.1 375.8 L362.9 376.3 L361.7 377.1 L360.5 377.7 L359.3 378.1 L358.1 378.5 L356.9 379.1 L355.7 379.7 L354.5 379.4 L353.3 379.9 L352.1 380.5 L350.9 380.7 L349.7 381.7 L348.5 382.3 L347.3 382.5 L346.1 382.9 L344.9 383.7 L343.7 384.7 L342.5 384.3 L341.3 384.5 L340.1 385.4 L338.9 385.5 L337.7 385.7 L336.5 386.4 L335.3 387.2 L334.1 387.5 L332.9 387.9 L331.7 388.8 L330.5 389.4 L329.3 389.8 L328.1 390 L326.9 390.4 L325.7 391 L324.5 391.5 L323.3 391.1 L322.1 390.5 L320.9 390.9 L319.7 391.3 L318.5 392 L317.3 392.4 L316.1 393.1 L314.9 393.4 L313.7 393.9 L312.5 394.6 L311.3 394.6 L310.1 395.4 L308.9 396.3 L307.7 396.2 L306.5 396.2 L305.3 396.9 L304.1 397.1 L302.9 397 L301.7 396.9 L300.5 397.3 L299.3 397.5 L298.1 397.4 L296.9 397.9 L295.7 398.6 L294.5 398.4 L293.3 398.5 L292.1 399 L290.9 399.1 L289.7 399.4 L288.5 399.9 L287.3 400.3 L286.1 401 L284.9 402 L283.7 401.9 L282.5 402.3 L281.3 402.7 L280.1 403.4 L278.9 404.1 L277.7 404.7 L276.5 404.8 L275.3 404.7 L274.1 405.1 L272.9 405.5 L271.7 405.8 L270.5 405.8 L269.3 405.9 L268.1 406.1 L266.9 407.2 L265.7 407.3 L264.5 407.4 L263.3 408.1 L262.1 408.5 L260.9 409 L259.7 409.2 L258.5 409.6 L257.3 410.3 L256.1 411.1 L254.9 411.1 L253.7 411.4 L252.5 412.4 L251.3 412.4 L250.1 412.9 L248.9 414 L247.7 414.4 L246.5 414.9 L245.3 415.3 L244.1 415.6 L242.9 416.1 L241.7 416.1 L240.5 416.5 L239.3 417 L238.1 417.7 L236.9 418.5 L235.7 418.4 L234.5 418.8 L233.3 419.4 L232.1 419.2 L230.9 420.2 L229.7 420.9 L228.5 420.8 L227.3 421.7 L226.1 422.2 L224.9 423 L223.7 423.4 L222.5 423.5 L221.3 423.9 L220.1 424.7 L218.9 425.4 L217.7 425.8 L216.5 426.6 L215.3 427.7 L214.1 427.7 L212.9 428.2 L211.7 428.5 L210.5 428.3 L209.3 429.2 L208.1 430.3 L206.9 430.3 L205.7 430.5 L204.5 431 L203.3 431.3 L202.1 431.7 L200.9 432.1 L199.7 433 L198.5 433.8 L197.3 434.5 L196.1 434.7 L194.9 435.2 L193.7 436.3 L192.5 436.8 L191.3 437.8 L190.1 438.7 L188.9 438.8 L187.7 439.7 L186.5 441.2 L185.3 441.8 L184.1 442.2 L182.9 443 L181.7 443.9 L180.5 445.5 L179.3 447.1 L178.1 448.4 L176.9 450.2 L175.7 452.2 L174.5 454.6 L174.3 455 L174.1 455.7 L173.9 456.6 L173.7 457.2 L173.5 457.8 L173.3 458.8 L173.1 459.6 L172.9 460.5 L172.7 461.6 L172.5 462.7 L172.3 463.6 L172.1 464.7 L171.9 466.1 L171.7 467.2 L171.5 468.6 L171.3 469.9 L171.1 471.3 L170.9 473.1 L170.7 475.1 L170.5 477.4 L170.3 480 L170.1 482.6 L169.9 485.3 L169.7 488.1 L169.5 490.8 L169.3 493.6 L169.1 496 L168.9 498.4 L168.7 500.5 L168.5 502.5 L168.3 504.4 L168.1 506.3 L167.9 508.1 L167.7 509.9 L167.5 511.7 L167.3 513.4 L167.1 515.1 L166.9 516.8 L166.7 518.4 L166.5 520.1 L166.3 521.7 L166.1 523.3 L165.9 525 L165.7 526.6 L165.5 528.3 L165.3 529.9 L165.1 531.6 L164.9 533.4 L164.7 535.1 L164.5 536.8 L164.3 538.5 L164.1 540.3 L163.9 542 L163.7 543.7 L163.5 545.4 L163.3 547.1 L163.1 548.9 L162.9 550.6 L162.7 552.3 L162.5 554Z" fill="#F8A0A0" fill-opacity="0.5" stroke="none"/>
<path d="M162.5 554 L162.7 552.7 L162.9 550.7 L163.1 548.2 L163.3 545.3 L163.5 541.9 L163.7 538.3 L163.9 534.5 L164.1 530.2 L164.3 524.2 L164.5 517.2 L164.7 510.3 L164.9 504.6 L165.1 500.8 L165.3 497.7 L165.5 494.8 L165.7 492.2 L165.9 489.8 L166.1 487.6 L166.3 485.5 L166.5 483.6 L166.7 481.8 L166.9 480.1 L167.1 478.4 L167.3 476.7 L167.5 475 L167.7 473.3 L167.9 471.7 L168.1 470 L168.3 468.4 L168.5 466.8 L168.7 465.3 L168.9 463.9 L169.1 462.5 L169.3 461.2 L169.5 460 L169.7 458.9 L169.9 457.9 L170.1 457 L170.3 456.2 L170.5 455.4 L170.7 454.7 L170.9 453.9 L171.1 453.1 L171.3 452.3 L171.5 451.6 L171.7 451 L171.9 450.3 L172.1 449.6 L172.3 449 L172.5 448.5 L172.7 447.8 L172.9 447.2 L173.1 446.7 L173.3 446.2 L173.5 445.8 L173.7 445.3 L173.9 444.9 L174.1 444.4 L174.3 444 L174.5 443.4 L175.7 441 L176.9 439.3 L178.1 437.4 L179.3 435.6 L180.5 434.5 L181.7 433.2 L182.9 431.7 L184.1 430.7 L185.3 429.6 L186.5 428.6 L187.7 427.6 L188.9 426.4 L190.1 425.9 L191.3 425.1 L192.5 423.7 L193.7 423 L194.9 422.6 L196.1 421.7 L197.3 421.2 L198.5 420.4 L199.7 419.9 L200.9 419.6 L202.1 418.9 L203.3 418.5 L204.5 417.4 L205.7 416.9 L206.9 416.8 L208.1 416.3 L209.3 415.9 L210.5 415.1 L211.7 414.6 L212.9 414.4 L214.1 413.8 L215.3 412.8 L216.5 412.2 L217.7 412.1 L218.9 411.9 L220.1 411.1 L221.3 410.1 L222.5 410 L223.7 409.6 L224.9 409 L226.1 408.7 L227.3 407.8 L228.5 407.5 L229.7 407.3 L230.9 407.1 L232.1 407 L233.3 406.2 L234.5 405.4 L235.7 405.1 L236.9 404.4 L238.1 403.5 L239.3 403.4 L240.5 402.9 L241.7 402.1 L242.9 401.7 L244.1 401.2 L245.3 400.8 L246.5 400.5 L247.7 400.4 L248.9 399.8 L250.1 398.9 L251.3 398.5 L252.5 398.2 L253.7 397.6 L254.9 397.7 L256.1 397.7 L257.3 397 L258.5 396 L259.7 395.7 L260.9 395 L262.1 394.3 L263.3 394.6 L264.5 394.5 L265.7 393.5 L266.9 392.7 L268.1 392.5 L269.3 392.5 L270.5 391.9 L271.7 391.5 L272.9 391 L274.1 390.1 L275.3 390 L276.5 389.8 L277.7 388.9 L278.9 388.3 L280.1 388.1 L281.3 387.7 L282.5 387.3 L283.7 386.9 L284.9 386.5 L286.1 386.1 L287.3 385.4 L288.5 384.8 L289.7 384.3 L290.9 384.5 L292.1 384.7 L293.3 384 L294.5 383 L295.7 382.9 L296.9 382.9 L298.1 382.2 L299.3 381.8 L300.5 381.2 L301.7 380.7 L302.9 380.8 L304.1 380.8 L305.3 380.2 L306.5 379.6 L307.7 379.4 L308.9 379.1 L310.1 378.7 L311.3 378 L312.5 377.7 L313.7 377.6 L314.9 377 L316.1 376.4 L317.3 376.2 L318.5 376.2 L319.7 376 L320.9 375.5 L322.1 374.8 L323.3 374.3 L324.5 373.9 L325.7 373.5 L326.9 373.1 L328.1 372.8 L329.3 372.7 L330.5 372.3 L331.7 371.7 L332.9 371.3 L334.1 371.2 L335.3 371 L336.5 370.4 L337.7 370.2 L338.9 370 L340.1 369.4 L341.3 369.3 L342.5 369.2 L343.7 368.9 L344.9 368.6 L346.1 368.1 L347.3 367.5 L348.5 366.8 L349.7 366.5 L350.9 366.3 L352.1 365.8 L353.3 365.4 L354.5 364.8 L355.7 364.2 L356.9 364 L358.1 364 L359.3 363.4 L360.5 362.8 L361.7 362.7 L362.9 362 L364.1 361.2 L365.3 360.7 L366.5 360.6 L367.7 360.4 L368.9 359.8 L370.1 359 L371.3 358.7 L372.5 358.9 L373.7 358.6 L374.9 358 L376.1 357.9 L377.3 357.4 L378.5 357 L379.7 357.1 L380.9 356.6 L382.1 356 L383.3 355.8 L384.5 355.6 L385.7 355.1 L386.9 354.7 L388.1 354.4 L389.3 353.8 L390.5 353.3 L391.7 353.3 L392.9 353.3 L394.1 353 L395.3 352.2 L396.5 351.9 L397.7 351.9 L398.9 351.4 L400.1 350.9 L401.3 350.8 L402.5 350.7 L403.7 350 L404.9 349.5 L406.1 349.2 L407.3 348.7 L408.5 348.5 L409.7 348.4 L410.9 347.6 L412.1 347 L413.3 346.9 L414.5 346.4 L415.7 346.1 L416.9 345.9 L418.1 345.4 L419.3 344.9 L420.5 344.9 L421.7 344.5 L422.9 343.8 L424.1 343.8 L425.3 343.5 L426.5 342.6 L427.7 342.1 L428.9 342 L430.1 342.1 L431.3 341.7 L432.5 341.3 L433.7 340.9 L434.9 340.4 L436.1 340 L437.3 339.9 L438.5 339.7 L439.7 339.6 L440.9 339.2 L442.1 338.4 L443.3 338 L444.5 338 L445.7 337.6 L446.9 337.1 L448.1 337.3 L449.3 336.7 L450.5 336.2 L451.7 335.4 L452.9 334.7 L454.1 334.5 L455.3 334.2 L456.5 334.2 L457.7 333.6 L458.9 333.3 L460.1 333.2 L461.3 332.5 L462.5 332 L463.7 331.4 L464.9 331.1 L466.1 331.4 L467.3 331 L468.5 330.3 L469.7 330 L470.9 329.5 L472.1 329.4 L473.3 328.8 L474.5 328.1 L475.7 327.7 L476.9 327.8 L478.1 327.5 L479.3 327.1 L480.5 326.6 L481.7 325.8 L482.9 325.5 L484.1 325.5 L485.3 325 L486.5 324.4 L487.7 324.3 L488.9 323.8 L490.1 323.5 L491.3 323.3 L492.5 322.4 L493.7 322.1 L494.9 322.1 L496.1 321.6 L497.3 321.4 L498.5 321.1 L499.7 320.9 L500.9 320.9 L502.1 320.4 L503.3 319.7 L504.5 319.2 L505.7 319.2 L506.9 319 L508.1 318.3 L509.3 318 L510.5 317.9 L511.7 317.7 L512.9 317.3 L514.1 316.7 L515.3 316.2 L516.5 316 L517.7 315.7 L518.9 315 L520.1 314.8 L521.3 314.6 L522.5 314.7 L523.7 314.9 L524.9 314.7 L526.1 314.4 L527.3 313.8 L528.5 313.6 L529.7 313.4 L530.9 313.1 L532.1 312.8 L533.3 312.2 L534.5 312.2 L535.7 312.4 L536.9 312 L538.1 311.9 L539.3 312.1 L540.5 311.2 L541.7 310.5 L542.9 310.3 L544.1 309.9 L545.3 309.8 L546.5 309.5 L547.7 309.5 L548.9 309.4 L550.1 309 L551.3 308.7 L552.5 308.4 L553.7 308.2 L554.9 308.1 L556.1 307.8 L557.3 307.5 L558.5 307.2 L559.7 307 L560.9 307.3 L562.1 307.2 L563.3 306.4 L564.5 306.4 L565.7 306.4 L566.9 305.5 L568.1 305.3 L569.3 305.7 L570.5 305.6 L571.7 305.5 L572.9 305.4 L574.1 305 L575.3 304.3 L576.5 303.8 L577.7 304.1 L578.9 304.2 L580.1 303.8 L581.3 303.3 L582.5 303.4 L583.7 302.9 L584.9 302.3 L586.1 302.5 L587.3 302.6 L588.5 302.4 L589.7 301.8 L590.9 301.8 L592.1 301.8 L593.3 301.8 L594.5 301.9 L595.7 301.7 L596.9 301.7 L598.1 301.5 L599.3 301.5 L600.5 301.6 L601.7 301.4 L602.9 301.3 L604.1 301 L605.3 300.7 L606.5 300.7 L607.7 300 L608.9 299.8 L610.1 299.7 L611.3 299.5 L612.5 299.5 L613.7 299.5 L614.9 299.3 L616.1 299 L617.3 298.7 L618.5 298.5 L619.7 298.9 L620.9 298.9 L622.1 298.8 L623.3 298.4 L624.5 297.9 L625.7 297.9 L626.9 297.7 L628.1 297.4 L629.3 297.6 L630.5 297.4 L631.7 297.5 L632.9 297.1 L634.1 296.6 L635.3 296.5 L636.5 296.2 L637.7 296.1 L638.9 296 L640.1 295.9 L641.3 295.6 L642.5 295.5 L643.7 295.7 L644.9 295.3 L646.1 294.9 L647.3 294.8 L648.5 294.5 L649.7 294.7 L650.9 294.1 L652.1 293.4 L653.3 293.2 L654.5 293.1 L655.7 293.2 L656.9 293.7 L658.1 293.7 L659.3 293 L660.5 293.1 L661.7 292.7 L662.9 292.2 L664.1 292.5 L665.3 292.1 L666.5 291.7 L667.7 291.5 L668.9 291 L670.1 290.5 L671.3 290.7 L672.5 290.7 L673.7 290.2 L674.9 289.8 L676.1 289.7 L677.3 289.5 L678.5 289.4 L679.7 289.3 L680.9 289 L682.1 288.5 L683.3 288.2 L684.5 288.3 L685.7 288.2 L686.9 288 L688.1 288 L689.3 287.7 L690.5 287.8 L691.7 287.7 L692.9 287.2 L694.1 287.2 L695.3 287.2 L696.5 287.6 L697.7 287 L698.9 286.4 L700.1 286.5 L701.3 286.5 L702.5 286.4 L703.7 285.6 L704.9 285.7 L706.1 285.7 L707.3 285.4 L708.5 285 L709.7 284.7 L710.9 284.6 L712.1 284.8 L713.3 284.9 L714.5 284.4 L715.7 284.1 L716.9 283.9 L718.1 283.7 L719.3 283.6 L720.5 283.5 L721.7 283.1 L722.9 282.9 L724.1 282.9 L725.3 282.8 L726.5 282.5 L727.7 282.6 L728.9 282.5 L730.1 282.2 L731.3 282.2 L732.5 282.2 L733.7 281.6 L734.9 281.8 L736.1 282 L737.3 281.2 L738.5 281.1 L739.7 281.5 L740.9 281.4 L742.1 280.6 L743.3 280.4 L744.5 280.6 L745.7 280.1 L746.9 279.7 L748.1 279.6 L749.3 279.9 L750.5 279.7 L751.7 279.4 L752.9 279.1 L754.1 278.5 L755.3 278.6 L756.5 278.7 L757.7 278 L758.9 277.8 L760.1 278.1 L761.3 277.7 L762.5 277.4 L763.7 277.1 L764.9 276.7 L766.1 276.2 L767.3 275.9 L768.5 275.9 L769.7 275.6 L770.9 275.4 L772.1 275.2 L773.3 275 L774.5 275 L775.7 274.5 L776.9 274.5 L778.1 274.9 L779.3 274.7 L780.5 273.9 L781.7 273.7 L782.9 273.6 L784.1 273.1 L785.3 272.7 L786.5 272.5 L787.7 272.6 L788.9 272.4 L790.1 271.9 L791.3 271.4 L792.5 271.3 L793.7 271.3 L794.9 271.5 L796.1 271 L797.3 270.5 L798.5 270.3 L799.7 270 L800.9 269.9 L802.1 269.8 L803.3 269.3 L804.5 268.7 L805.7 269 L806.9 268.9 L808.1 268.6 L809.3 268.2 L810.5 267.8 L811.7 267.9 L812.9 267.6 L814.1 267.1 L815.3 267 L816.5 267.2 L817.7 266.8 L818.9 266.7 L820.1 266.8 L821.3 266.3 L822 266 M822 265V275" stroke="#F14040" stroke-width="5.0"/>
<path d="M162.5 554 L162.7 529.3 L162.9 506 L163.1 483.6 L163.3 460.5 L163.5 445 L163.7 437.3 L163.9 431.1 L164.1 426.4 L164.3 422.7 L164.5 420 L164.7 417.8 L164.9 415.8 L165.1 413.9 L165.3 412.3 L165.5 410.7 L165.7 409.3 L165.9 408.1 L166.1 406.9 L166.3 405.8 L166.5 404.8 L166.7 403.8 L166.9 402.9 L167.1 401.9 L167.3 401 L167.5 400 L167.7 399 L167.9 398.1 L168.1 397.1 L168.3 396.1 L168.5 395.2 L168.7 394.3 L168.9 393.4 L169.1 392.4 L169.3 391.6 L169.5 390.7 L169.7 389.9 L169.9 389 L170.1 388.1 L170.3 387.4 L170.5 386.5 L170.7 385.7 L170.9 385.1 L171.1 384.3 L171.3 383.5 L171.5 382.9 L171.7 382.1 L171.9 381.4 L172.1 380.7 L172.3 380 L172.5 379.2 L172.7 378.6 L172.9 378 L173.1 377.6 L173.3 377 L173.5 376.2 L173.7 375.6 L173.9 375.2 L174.1 374.6 L174.3 374.1 L174.5 373.7 L175.7 371 L176.9 368.4 L178.1 366.2 L179.3 364 L180.5 362.2 L181.7 360.6 L182.9 358.8 L184.1 357.1 L185.3 356 L186.5 355 L187.7 353.9 L188.9 352.4 L190.1 351.6 L191.3 350.8 L192.5 349.9 L193.7 349.2 L194.9 348 L196.1 347 L197.3 346.4 L198.5 345.6 L199.7 345.5 L200.9 345.3 L202.1 343.7 L203.3 343 L204.5 342.6 L205.7 342.3 L206.9 341.9 L208.1 341.3 L209.3 340.7 L210.5 340.4 L211.7 339.9 L212.9 339.3 L214.1 339 L215.3 338.9 L216.5 338.3 L217.7 337.9 L218.9 337.8 L220.1 337.4 L221.3 337.2 L222.5 336.7 L223.7 336.3 L224.9 336.3 L226.1 336.2 L227.3 336.1 L228.5 335.7 L229.7 335.5 L230.9 334.9 L232.1 334.4 L233.3 334.3 L234.5 334 L235.7 333.9 L236.9 333.8 L238.1 333.8 L239.3 333.7 L240.5 333.4 L241.7 332.7 L242.9 332.4 L244.1 332.6 L245.3 332.8 L246.5 332.7 L247.7 332 L248.9 331.8 L250.1 331.8 L251.3 331.5 L252.5 331 L253.7 330.3 L254.9 330.1 L256.1 330.6 L257.3 330.5 L258.5 329.6 L259.7 329.5 L260.9 329.5 L262.1 329.8 L263.3 330 L264.5 329.1 L265.7 329.3 L266.9 329.3 L268.1 328.9 L269.3 329 L270.5 328.4 L271.7 328.5 L272.9 328.3 L274.1 328.2 L275.3 328.3 L276.5 327.6 L277.7 327 L278.9 327.4 L280.1 328 L281.3 327.1 L282.5 327 L283.7 327.1 L284.9 326.6 L286.1 326.3 L287.3 326 L288.5 326.1 L289.7 325.9 L290.9 324.9 L292.1 325.2 L293.3 325.6 L294.5 324.7 L295.7 324.3 L296.9 324.1 L298.1 324.1 L299.3 324.2 L300.5 324.2 L301.7 323.7 L302.9 323.2 L304.1 323.3 L305.3 323.3 L306.5 323.2 L307.7 322.8 L308.9 322.1 L310.1 321.9 L311.3 321.3 L312.5 321.4 L313.7 321.3 L314.9 320.5 L316.1 320.3 L317.3 320.5 L318.5 320 L319.7 319.8 L320.9 320 L322.1 319.5 L323.3 319.5 L324.5 319.9 L325.7 319.5 L326.9 318.8 L328.1 318.9 L329.3 318.9 L330.5 318 L331.7 317.3 L332.9 317.3 L334.1 317.2 L335.3 316.6 L336.5 316.6 L337.7 316.6 L338.9 316 L340.1 316 L341.3 315.7 L342.5 315.1 L343.7 314.9 L344.9 314.5 L346.1 314.4 L347.3 314.3 L348.5 314 L349.7 313.9 L350.9 313.5 L352.1 312.9 L353.3 312.5 L354.5 312.2 L355.7 312.1 L356.9 312.1 L358.1 312.1 L359.3 311.7 L360.5 311.6 L361.7 311.5 L362.9 310.9 L364.1 310.1 L365.3 309.3 L366.5 309.2 L367.7 309.1 L368.9 308.7 L370.1 308.3 L371.3 307.9 L372.5 308 L373.7 307.8 L374.9 306.9 L376.1 307.1 L377.3 306.6 L378.5 306.5 L379.7 306.9 L380.9 306.3 L382.1 305.7 L383.3 305.2 L384.5 304.8 L385.7 305 L386.9 305.2 L388.1 304.5 L389.3 304.1 L390.5 304.2 L391.7 304.6 L392.9 303.9 L394.1 303.2 L395.3 302.9 L396.5 303 L397.7 303.4 L398.9 303.6 L400.1 303.3 L401.3 302.5 L402.5 302.2 L403.7 302.2 L404.9 301.7 L406.1 301.4 L407.3 301.5 L408.5 301 L409.7 300.5 L410.9 300.5 L412.1 300.7 L413.3 300.2 L414.5 299.7 L415.7 300 L416.9 299.5 L418.1 298.9 L419.3 298.5 L420.5 298.4 L421.7 298.5 L422.9 298.3 L424.1 298.1 L425.3 297.6 L426.5 297.3 L427.7 297.2 L428.9 297.5 L430.1 297.4 L431.3 296.7 L432.5 296.8 L433.7 297.1 L434.9 296.4 L436.1 296 L437.3 296.1 L438.5 296.1 L439.7 295.7 L440.9 295.4 L442.1 295.4 L443.3 295.3 L444.5 294.9 L445.7 294.7 L446.9 294.8 L448.1 294.1 L449.3 294 L450.5 294.1 L451.7 293.4 L452.9 293.3 L454.1 293 L455.3 292.2 L456.5 292.1 L457.7 292.3 L458.9 292.2 L460.1 291.8 L461.3 291.7 L462.5 291.6 L463.7 291.3 L464.9 291.7 L466.1 291.1 L467.3 289.5 L468.5 289.2 L469.7 289.3 L470.9 289.2 L472.1 289.1 L473.3 288.7 L474.5 288.2 L475.7 288.2 L476.9 288.2 L478.1 287.5 L479.3 287.6 L480.5 287.8 L481.7 287.5 L482.9 287.1 L484.1 286.6 L485.3 286.2 L486.5 286.6 L487.7 286.5 L488.9 286 L490.1 285.5 L491.3 285 L492.5 285.3 L493.7 285.4 L494.9 284.9 L496.1 284 L497.3 283.7 L498.5 283.5 L499.7 283.8 L500.9 284 L502.1 283.4 L503.3 283.1 L504.5 283.6 L505.7 283.8 L506.9 282.6 L508.1 281.9 L509.3 281.7 L510.5 281.1 L511.7 281.3 L512.9 282.1 L514.1 282.2 L515.3 281.5 L516.5 281 L517.7 280.9 L518.9 281.2 L520.1 280.5 L521.3 279.8 L522.5 280.4 L523.7 280.7 L524.9 280.4 L526.1 280.3 L527.3 280.1 L528.5 279.9 L529.7 279.5 L530.9 279.8 L532.1 279.6 L533.3 278.9 L534.5 278.6 L535.7 278.2 L536.9 277.4 L538.1 277.6 L539.3 278.2 L540.5 277.9 L541.7 277.1 L542.9 276.9 L544.1 277.1 L545.3 276.6 L546.5 275.8 L547.7 276 L548.9 276.7 L550.1 276.5 L551.3 275.8 L552.5 275.2 L553.7 275.6 L554.9 276.1 L556.1 275.8 L557.3 275.4 L558.5 275.2 L559.7 274.9 L560.9 274.5 L562.1 274.3 L563.3 274.2 L564.5 274.1 L565.7 274 L566.9 274.1 L568.1 273.5 L569.3 273.7 L570.5 273.5 L571.7 272.9 L572.9 273.3 L574.1 273.4 L575.3 272.4 L576.5 272.2 L577.7 272.8 L578.9 272.6 L580.1 271.5 L581.3 270.8 L582.5 271.2 L583.7 270.9 L584.9 271.1 L586.1 270.8 L587.3 270.6 L588.5 270.7 L589.7 269.9 L590.9 269.3 L592.1 269.3 L593.3 269.4 L594.5 269.7 L595.7 269.3 L596.9 269.1 L598.1 268.6 L599.3 267.4 L600.5 267.6 L601.7 268.2 L602.9 268 L604.1 267.4 L605.3 267.4 L606.5 268.1 L607.7 267.9 L608.9 267 L610.1 266.8 L611.3 267.2 L612.5 267.2 L613.7 266.6 L614.9 266.6 L616.1 266.7 L617.3 266 L618.5 265.7 L619.7 265.9 L620.9 265.4 L622.1 265.1 L623.3 264.7 L624.5 264.2 L625.7 263.9 L626.9 263.8 L628.1 263.7 L629.3 263.4 L630.5 263 L631.7 262.6 L632.9 262.6 L634.1 262.5 L635.3 262.4 L636.5 262.1 L637.7 261.8 L638.9 261.2 L640.1 261.4 L641.3 261.5 L642.5 261 L643.7 260.6 L644.9 260.7 L646.1 260.6 L647.3 260.2 L648.5 260.5 L649.7 260.5 L650.9 260.4 L652.1 259.8 L653.3 258.9 L654.5 258.9 L655.7 259.3 L656.9 258.9 L658.1 258.8 L659.3 258.5 L660.5 258 L661.7 258.2 L662.9 258.4 L664.1 257.8 L665.3 257.7 L666.5 258.1 L667.7 258.1 L668.9 258 L670.1 257.9 L671.3 257.9 L672.5 257.8 L673.7 256.9 L674.9 256.7 L676.1 256.9 L677.3 256.2 L678.5 256.3 L679.7 255.7 L680.9 255.4 L682.1 255.9 L683.3 255.4 L684.5 255 L685.7 255 L686.9 254.6 L688.1 254 L689.3 253.8 L690.5 253.7 L691.7 253.7 L692.9 253.4 L694.1 253.5 L695.3 253.3 L696.5 253 L697.7 253.2 L698.9 252.9 L700.1 252.5 L701.3 252.3 L702.5 251.9 L703.7 251.6 L704.9 251.5 L706.1 251.5 L707.3 251.2 L708.5 250.8 L709.7 250.8 L710.9 250.2 L712.1 249.9 L713.3 250.4 L714.5 250 L715.7 249 L716.9 249.1 L718.1 249.1 L719.3 249.3 L720.5 249.3 L721.7 248.5 L722.9 248.1 L724.1 247.8 L725.3 247.5 L726.5 246.8 L727.7 246.7 L728.9 246.6 L730.1 246.7 L731.3 246.3 L732.5 245.8 L733.7 245.7 L734.9 245.2 L736.1 245.5 L737.3 245.1 L738.5 244.9 L739.7 245.1 L740.9 244.5 L742.1 244.9 L743.3 244.1 L744.5 243 L745.7 243.5 L746.9 243.7 L748.1 242.9 L749.3 242.6 L750.5 242.1 L751.7 242 L752.9 242.2 L754.1 241.7 L755.3 241.1 L756.5 241.3 L757.7 241.4 L758.9 240.7 L760.1 240 L761.3 239.7 L762.5 239.3 L763.7 239.2 L764.9 239 L766.1 238.6 L767.3 238.1 L768.5 238.2 L769.7 238.5 L770.9 238.9 L772.1 238.6 L773.3 238.1 L774.5 238.2 L775.7 238.1 L776.9 237.6 L778.1 237.2 L779.3 237.4 L780.5 237 L781.7 236.2 L782.9 235.6 L784.1 235.6 L785.3 235.5 L786.5 235.5 L787.7 235.3 L788.9 234.7 L790.1 234.8 L791.3 234.8 L792.5 234.1 L793.7 233.7 L794.9 233.7 L796.1 233 L797.3 232.8 L798.5 232.5 L799.7 232.3 L800.9 231.5 L802.1 231.4 L803.3 231.8 L804.5 231 L805.7 230.5 L806.9 231.1 L808.1 231.1 L809.3 230.2 L810.5 230.4 L811.7 230 L812.9 229.3 L814.1 229.1 L815.3 228.9 L816.5 229 L817.7 228.9 L818.9 228.5 L820.1 228.2 L821.3 228.1 L822 227.8 L822 278.2 L821.3 278 L820.1 278.3 L818.9 278.2 L817.7 278.3 L816.5 278.1 L815.3 278.1 L814.1 278.2 L812.9 277.6 L811.7 277.8 L810.5 278 L809.3 278 L808.1 278.2 L806.9 278.3 L805.7 278 L804.5 277.5 L803.3 277.7 L802.1 278.1 L800.9 278.5 L799.7 278.4 L798.5 277.8 L797.3 278.7 L796.1 278.6 L794.9 278.3 L793.7 278.8 L792.5 279.1 L791.3 278.8 L790.1 279 L788.9 279.1 L787.7 278.8 L786.5 279 L785.3 279.1 L784.1 278.9 L782.9 278.8 L781.7 279.1 L780.5 278.9 L779.3 279 L778.1 279.9 L776.9 279.8 L775.7 279.3 L774.5 279.6 L773.3 280 L772.1 279.8 L770.9 279.2 L769.7 279.4 L768.5 279.1 L767.3 279.2 L766.1 279.5 L764.9 279.6 L763.7 279.3 L762.5 280 L761.3 280.6 L760.1 280 L758.9 279.8 L757.7 280.3 L756.5 280.5 L755.3 280.1 L754.1 280.5 L752.9 280.9 L751.7 280.8 L750.5 280.8 L749.3 280.9 L748.1 281.1 L746.9 280.8 L745.7 280.3 L744.5 280.3 L743.3 280.1 L742.1 280.1 L740.9 280.7 L739.7 280.4 L738.5 280.8 L737.3 281.6 L736.1 281.1 L734.9 280.6 L733.7 280.9 L732.5 281.8 L731.3 281.6 L730.1 281.6 L728.9 282.1 L727.7 282 L726.5 281.4 L725.3 282.4 L724.1 283.2 L722.9 282.9 L721.7 283.6 L720.5 283.6 L719.3 283.6 L718.1 284.2 L716.9 283.6 L715.7 283.5 L714.5 284.2 L713.3 284.3 L712.1 284.4 L710.9 284.6 L709.7 284.6 L708.5 284.4 L707.3 284.6 L706.1 284.9 L704.9 285.2 L703.7 285.4 L702.5 285.2 L701.3 285.5 L700.1 286.1 L698.9 285.5 L697.7 285.3 L696.5 285.5 L695.3 285.9 L694.1 286.2 L692.9 285.8 L691.7 285.8 L690.5 286.5 L689.3 286.7 L688.1 286.7 L686.9 286.7 L685.7 286.4 L684.5 287.1 L683.3 287.6 L682.1 287.3 L680.9 287.6 L679.7 287.9 L678.5 287.9 L677.3 288.4 L676.1 288.5 L674.9 288.4 L673.7 288.1 L672.5 288.1 L671.3 288.7 L670.1 289.1 L668.9 289.6 L667.7 289.4 L666.5 289.4 L665.3 289.1 L664.1 289.1 L662.9 289.6 L661.7 290 L660.5 290.5 L659.3 290.4 L658.1 290.2 L656.9 290.3 L655.7 290.4 L654.5 290.5 L653.3 290.8 L652.1 290.3 L650.9 290.1 L649.7 290.9 L648.5 291.2 L647.3 290.9 L646.1 291.1 L644.9 291.3 L643.7 291.3 L642.5 291.5 L641.3 291.5 L640.1 292 L638.9 292.4 L637.7 292.6 L636.5 292.9 L635.3 292.9 L634.1 293.1 L632.9 293.1 L631.7 293.1 L630.5 293.7 L629.3 293.6 L628.1 293 L626.9 293.1 L625.7 293.6 L624.5 294.3 L623.3 293.9 L622.1 293.6 L620.9 294 L619.7 294.2 L618.5 294.2 L617.3 294.5 L616.1 295.1 L614.9 295.1 L613.7 295.1 L612.5 294.9 L611.3 295.5 L610.1 295.5 L608.9 295.8 L607.7 296.6 L606.5 296.6 L605.3 297.5 L604.1 297.6 L602.9 297.5 L601.7 297.4 L600.5 297.7 L599.3 298 L598.1 298.5 L596.9 299.1 L595.7 299 L594.5 299.3 L593.3 299.8 L592.1 299.7 L590.9 299.9 L589.7 300.7 L588.5 301.1 L587.3 301.1 L586.1 301.6 L584.9 301.9 L583.7 302.4 L582.5 302.6 L581.3 302.2 L580.1 303.1 L578.9 303.3 L577.7 303.3 L576.5 303.9 L575.3 304.1 L574.1 304.3 L572.9 304.9 L571.7 305 L570.5 304.7 L569.3 304.8 L568.1 305.2 L566.9 305.8 L565.7 306 L564.5 306.5 L563.3 306.8 L562.1 306.5 L560.9 306.8 L559.7 307.5 L558.5 307.2 L557.3 307.5 L556.1 308.1 L554.9 308.2 L553.7 308.5 L552.5 308.5 L551.3 308.8 L550.1 309.5 L548.9 309.8 L547.7 309.8 L546.5 309.9 L545.3 310.1 L544.1 310.9 L542.9 311.1 L541.7 310.9 L540.5 311.3 L539.3 311.6 L538.1 311.8 L536.9 312 L535.7 312.4 L534.5 312.6 L533.3 312.7 L532.1 312.5 L530.9 312.5 L529.7 313.5 L528.5 313.6 L527.3 313.2 L526.1 313.7 L524.9 313.8 L523.7 314.1 L522.5 314.8 L521.3 314.8 L520.1 314.9 L518.9 315.5 L517.7 315.1 L516.5 315.4 L515.3 316.2 L514.1 315.7 L512.9 315.3 L511.7 316.4 L510.5 316.6 L509.3 316.1 L508.1 316.1 L506.9 316.3 L505.7 316.9 L504.5 317.2 L503.3 317.2 L502.1 316.9 L500.9 317.5 L499.7 318 L498.5 318.3 L497.3 318.6 L496.1 318.8 L494.9 319.1 L493.7 318.9 L492.5 319.3 L491.3 320 L490.1 320.2 L488.9 320.2 L487.7 320.6 L486.5 320.9 L485.3 320.8 L484.1 321.1 L482.9 321 L481.7 320.9 L480.5 321.5 L479.3 321.9 L478.1 321.5 L476.9 321.9 L475.7 322.3 L474.5 322.5 L473.3 322.8 L472.1 322.9 L470.9 323.1 L469.7 323.4 L468.5 323.3 L467.3 323.4 L466.1 323.5 L464.9 323.7 L463.7 324.3 L462.5 324.9 L461.3 324.7 L460.1 325 L458.9 325.5 L457.7 325.1 L456.5 324.7 L455.3 324.4 L454.1 324.7 L452.9 325 L451.7 325.4 L450.5 325.5 L449.3 325.7 L448.1 325.9 L446.9 325.9 L445.7 325.1 L444.5 324.7 L443.3 325 L442.1 325.5 L440.9 326 L439.7 326 L438.5 326.1 L437.3 326.1 L436.1 326.2 L434.9 326.4 L433.7 326.3 L432.5 326.2 L431.3 326.4 L430.1 327 L428.9 327 L427.7 326.5 L426.5 326.7 L425.3 326.9 L424.1 326.9 L422.9 326.8 L421.7 326.6 L420.5 326.7 L419.3 326.7 L418.1 326.9 L416.9 327 L415.7 327 L414.5 327.2 L413.3 327.6 L412.1 327.6 L410.9 327.8 L409.7 328 L408.5 327.7 L407.3 328.3 L406.1 328.6 L404.9 328.4 L403.7 328 L402.5 327.8 L401.3 328.3 L400.1 329.1 L398.9 329.2 L397.7 328.6 L396.5 329.2 L395.3 328.9 L394.1 328.8 L392.9 330 L391.7 330 L390.5 329.7 L389.3 329.8 L388.1 329.7 L386.9 329.9 L385.7 330.9 L384.5 331.3 L383.3 330.7 L382.1 330.4 L380.9 330.4 L379.7 330.7 L378.5 331.3 L377.3 331.5 L376.1 331.9 L374.9 331.8 L373.7 331.8 L372.5 331.8 L371.3 332 L370.1 332 L368.9 331.6 L367.7 330.9 L366.5 331.7 L365.3 332.8 L364.1 332.2 L362.9 332.1 L361.7 332.2 L360.5 332.1 L359.3 332.4 L358.1 332.7 L356.9 332.7 L355.7 333.1 L354.5 333.4 L353.3 333 L352.1 333.2 L350.9 333.6 L349.7 333.2 L348.5 333.5 L347.3 333.7 L346.1 333.8 L344.9 333.7 L343.7 333.4 L342.5 333.6 L341.3 333.9 L340.1 334.3 L338.9 334.6 L337.7 334.6 L336.5 334.9 L335.3 335.6 L334.1 335.2 L332.9 335.1 L331.7 335.8 L330.5 336.2 L329.3 336.7 L328.1 336.6 L326.9 336 L325.7 336.2 L324.5 336.6 L323.3 336.6 L322.1 336.6 L320.9 337.1 L319.7 337.8 L318.5 337.7 L317.3 338.4 L316.1 338.5 L314.9 337.9 L313.7 338.2 L312.5 338.7 L311.3 339.2 L310.1 339.4 L308.9 339.4 L307.7 339.4 L306.5 339.5 L305.3 339.6 L304.1 339.9 L302.9 339.8 L301.7 339.9 L300.5 340.2 L299.3 340.1 L298.1 339.9 L296.9 340.5 L295.7 340.9 L294.5 341 L293.3 341.4 L292.1 341.5 L290.9 342 L289.7 342.5 L288.5 342.3 L287.3 342.4 L286.1 343 L284.9 343.4 L283.7 343.2 L282.5 343.3 L281.3 342.7 L280.1 342.3 L278.9 342.7 L277.7 343.5 L276.5 344 L275.3 344.2 L274.1 344.1 L272.9 344 L271.7 344.5 L270.5 344.5 L269.3 345.1 L268.1 345.2 L266.9 344.7 L265.7 344.9 L264.5 345.7 L263.3 345.9 L262.1 346.1 L260.9 346.2 L259.7 346 L258.5 346.7 L257.3 346.9 L256.1 346.4 L254.9 346.7 L253.7 347.5 L252.5 347.6 L251.3 347.2 L250.1 347.3 L248.9 347.6 L247.7 347.9 L246.5 347.6 L245.3 347.7 L244.1 348 L242.9 347.8 L241.7 347.7 L240.5 347.7 L239.3 348.1 L238.1 348.6 L236.9 348.9 L235.7 348.6 L234.5 348.2 L233.3 348.9 L232.1 349.3 L230.9 349.4 L229.7 348.9 L228.5 349.3 L227.3 349.7 L226.1 349.3 L224.9 349.2 L223.7 349.8 L222.5 350.2 L221.3 349.9 L220.1 349.9 L218.9 349.5 L217.7 349.7 L216.5 350.5 L215.3 351.5 L214.1 351.8 L212.9 352 L211.7 352.5 L210.5 352.6 L209.3 352.6 L208.1 353.2 L206.9 353.8 L205.7 354.2 L204.5 354.9 L203.3 355.7 L202.1 357.1 L200.9 357.4 L199.7 357.4 L198.5 358.1 L197.3 359.3 L196.1 360.5 L194.9 361.8 L193.7 362.5 L192.5 364.1 L191.3 366.6 L190.1 368.3 L188.9 369.6 L187.7 370.6 L186.5 372 L185.3 373.9 L184.1 375.9 L182.9 377.3 L181.7 379 L180.5 381 L179.3 383 L178.1 385.5 L176.9 388 L175.7 390.7 L174.5 393.9 L174.3 394.7 L174.1 395.3 L173.9 395.7 L173.7 396.3 L173.5 397.2 L173.3 397.7 L173.1 398.1 L172.9 398.8 L172.7 399.6 L172.5 400.4 L172.3 401 L172.1 401.6 L171.9 402.5 L171.7 403.3 L171.5 404 L171.3 404.8 L171.1 405.7 L170.9 406.7 L170.7 407.6 L170.5 408.5 L170.3 409.5 L170.1 410.5 L169.9 411.4 L169.7 412.5 L169.5 413.5 L169.3 414.6 L169.1 415.6 L168.9 416.7 L168.7 417.8 L168.5 418.9 L168.3 420.1 L168.1 421.2 L167.9 422.3 L167.7 423.6 L167.5 424.9 L167.3 426.4 L167.1 428 L166.9 429.7 L166.7 431.6 L166.5 433.7 L166.3 436.1 L166.1 438.6 L165.9 441.6 L165.7 446.2 L165.5 452.1 L165.3 458.9 L165.1 466.2 L164.9 474.1 L164.7 484.3 L164.5 495.7 L164.3 506.9 L164.1 516.3 L163.9 523.2 L163.7 529.4 L163.5 535.2 L163.3 540.6 L163.1 545.3 L162.9 549.2 L162.7 552.1 L162.5 554Z" fill="#8CB7EF" fill-opacity="0.5" stroke="none"/>
<path d="M162.5 554 L162.7 547.3 L162.9 538.6 L163.1 528.4 L163.3 517 L163.5 502.3 L163.7 486.3 L163.9 470 L164.1 453.5 L164.3 443.4 L164.5 437.4 L164.7 432.8 L164.9 429.5 L165.1 427.2 L165.3 425.2 L165.5 423.5 L165.7 421.9 L165.9 420.6 L166.1 419.4 L166.3 418.3 L166.5 417.3 L166.7 416.3 L166.9 415.4 L167.1 414.5 L167.3 413.6 L167.5 412.6 L167.7 411.6 L167.9 410.6 L168.1 409.6 L168.3 408.5 L168.5 407.4 L168.7 406.4 L168.9 405.4 L169.1 404.5 L169.3 403.5 L169.5 402.6 L169.7 401.7 L169.9 400.9 L170.1 400.2 L170.3 399.4 L170.5 398.6 L170.7 397.9 L170.9 397.2 L171.1 396.6 L171.3 396 L171.5 395.3 L171.7 394.6 L171.9 393.9 L172.1 393.2 L172.3 392.7 L172.5 392.1 L172.7 391.3 L172.9 390.7 L173.1 390.1 L173.3 389.5 L173.5 388.9 L173.7 388.1 L173.9 387.5 L174.1 387.1 L174.3 386.5 L174.5 385.7 L175.7 382.4 L176.9 379.3 L178.1 376.4 L179.3 373.8 L180.5 371.7 L181.7 369.8 L182.9 368.2 L184.1 366.9 L185.3 365.3 L186.5 363.4 L187.7 362.3 L188.9 361.2 L190.1 359.9 L191.3 358.6 L192.5 357.6 L193.7 356.6 L194.9 355.1 L196.1 354.1 L197.3 353.7 L198.5 353.1 L199.7 352.1 L200.9 351 L202.1 350.6 L203.3 350.1 L204.5 349.3 L205.7 348.9 L206.9 348.6 L208.1 347.9 L209.3 347.1 L210.5 346.9 L211.7 346.7 L212.9 346.1 L214.1 346.2 L215.3 346.1 L216.5 345.3 L217.7 344.5 L218.9 344.3 L220.1 344 L221.3 343.4 L222.5 343.5 L223.7 343.7 L224.9 343.4 L226.1 342.8 L227.3 342.5 L228.5 342.4 L229.7 342 L230.9 341.6 L232.1 341.6 L233.3 341.6 L234.5 341.5 L235.7 340.9 L236.9 340.6 L238.1 341 L239.3 340.8 L240.5 340.4 L241.7 340.3 L242.9 340.4 L244.1 340.4 L245.3 339.9 L246.5 339.5 L247.7 339.5 L248.9 339.8 L250.1 339.8 L251.3 339.3 L252.5 339.3 L253.7 339.3 L254.9 338.7 L256.1 338.5 L257.3 338.4 L258.5 338.2 L259.7 338 L260.9 338 L262.1 337.8 L263.3 337.3 L264.5 337.4 L265.7 337.4 L266.9 337.5 L268.1 337.6 L269.3 337.2 L270.5 337.1 L271.7 337.1 L272.9 336.9 L274.1 336.4 L275.3 336.3 L276.5 336 L277.7 335.7 L278.9 336 L280.1 335.9 L281.3 335.9 L282.5 336 L283.7 335.7 L284.9 335.4 L286.1 335.4 L287.3 335.1 L288.5 334.6 L289.7 334.6 L290.9 334.5 L292.1 334.5 L293.3 334.2 L294.5 333.2 L295.7 333.1 L296.9 333.4 L298.1 333 L299.3 332.8 L300.5 333.1 L301.7 332.4 L302.9 331.8 L304.1 331.5 L305.3 331.6 L306.5 331.7 L307.7 331.4 L308.9 330.8 L310.1 330.4 L311.3 330.2 L312.5 329.8 L313.7 329.6 L314.9 329.3 L316.1 329.4 L317.3 329.5 L318.5 329.4 L319.7 329.1 L320.9 328.6 L322.1 328.4 L323.3 328.3 L324.5 327.9 L325.7 327.5 L326.9 327.2 L328.1 326.8 L329.3 326.7 L330.5 326.3 L331.7 326.2 L332.9 325.9 L334.1 325.5 L335.3 325.3 L336.5 325.3 L337.7 325.5 L338.9 324.9 L340.1 324.4 L341.3 324.1 L342.5 323.9 L343.7 323.9 L344.9 324.1 L346.1 323.6 L347.3 323 L348.5 322.9 L349.7 322.5 L350.9 322.6 L352.1 322.5 L353.3 322.3 L354.5 322.1 L355.7 321.8 L356.9 321.7 L358.1 321.8 L359.3 321.4 L360.5 320.8 L361.7 320.7 L362.9 320.5 L364.1 320.4 L365.3 320.6 L366.5 321 L367.7 320.8 L368.9 320 L370.1 319.6 L371.3 319.5 L372.5 319.3 L373.7 319.5 L374.9 319.3 L376.1 319.1 L377.3 318.8 L378.5 318.1 L379.7 317.6 L380.9 317.7 L382.1 318 L383.3 317.9 L384.5 317.6 L385.7 317.3 L386.9 317.2 L388.1 317.3 L389.3 317.1 L390.5 316.6 L391.7 316.5 L392.9 316.6 L394.1 316.4 L395.3 315.9 L396.5 315.7 L397.7 315.6 L398.9 315 L400.1 315.1 L401.3 315.2 L402.5 315.3 L403.7 315.4 L404.9 315.2 L406.1 315.1 L407.3 314.9 L408.5 314.6 L409.7 314.4 L410.9 314.1 L412.1 314.1 L413.3 314 L414.5 314 L415.7 313.5 L416.9 313.3 L418.1 313.4 L419.3 313.2 L420.5 313.2 L421.7 312.9 L422.9 312.6 L424.1 312.2 L425.3 312.3 L426.5 312.2 L427.7 312 L428.9 311.8 L430.1 311.8 L431.3 311.7 L432.5 311.5 L433.7 311.4 L434.9 311.1 L436.1 311 L437.3 310.7 L438.5 310.6 L439.7 310.5 L440.9 310.3 L442.1 310 L443.3 310 L444.5 309.6 L445.7 309.3 L446.9 309.3 L448.1 308.6 L449.3 308.5 L450.5 308.4 L451.7 308.5 L452.9 308.2 L454.1 307.7 L455.3 307.6 L456.5 306.9 L457.7 306.8 L458.9 306.7 L460.1 306.5 L461.3 306.7 L462.5 306.3 L463.7 305.4 L464.9 305.2 L466.1 305.3 L467.3 305.2 L468.5 305 L469.7 304.3 L470.9 304.2 L472.1 303.9 L473.3 304 L474.5 303.8 L475.7 303.2 L476.9 303 L478.1 302.7 L479.3 302.4 L480.5 302.4 L481.7 302.2 L482.9 301.9 L484.1 302 L485.3 302 L486.5 301.3 L487.7 300.9 L488.9 301.1 L490.1 300.9 L491.3 300.6 L492.5 300.4 L493.7 300.2 L494.9 299.9 L496.1 299.5 L497.3 299.2 L498.5 299.1 L499.7 298.9 L500.9 298.9 L502.1 298.9 L503.3 298.3 L504.5 298.2 L505.7 298.1 L506.9 297.7 L508.1 297.6 L509.3 297.3 L510.5 296.9 L511.7 296.6 L512.9 296.7 L514.1 296.5 L515.3 296.1 L516.5 295.9 L517.7 296 L518.9 296.2 L520.1 295.7 L521.3 295.3 L522.5 295.4 L523.7 295 L524.9 295 L526.1 294.6 L527.3 294.5 L528.5 294.7 L529.7 294.2 L530.9 294.2 L532.1 294.3 L533.3 294 L534.5 293.4 L535.7 293 L536.9 293.1 L538.1 293.1 L539.3 293.1 L540.5 292.6 L541.7 292.1 L542.9 292.3 L544.1 292.3 L545.3 292.1 L546.5 291.6 L547.7 291.4 L548.9 291.3 L550.1 290.9 L551.3 290.9 L552.5 290.8 L553.7 290.7 L554.9 290.3 L556.1 290.6 L557.3 290.9 L558.5 290.5 L559.7 289.9 L560.9 289.1 L562.1 289.1 L563.3 289.4 L564.5 289.8 L565.7 289.9 L566.9 289.2 L568.1 289 L569.3 289.1 L570.5 288.7 L571.7 288.4 L572.9 288.2 L574.1 287.7 L575.3 287.3 L576.5 287.1 L577.7 287.4 L578.9 286.8 L580.1 286.1 L581.3 286.3 L582.5 285.9 L583.7 285.9 L584.9 286 L586.1 285.7 L587.3 285.8 L588.5 285.2 L589.7 284.4 L590.9 284.9 L592.1 284.7 L593.3 284.1 L594.5 283.9 L595.7 284 L596.9 283.9 L598.1 283.5 L599.3 283.1 L600.5 282.7 L601.7 282.7 L602.9 282.7 L604.1 282.4 L605.3 282.3 L606.5 282 L607.7 281.5 L608.9 281.7 L610.1 281.5 L611.3 281 L612.5 280.4 L613.7 280 L614.9 280.1 L616.1 280 L617.3 279.9 L618.5 279.4 L619.7 279.2 L620.9 279.3 L622.1 279.4 L623.3 278.9 L624.5 278.5 L625.7 278.3 L626.9 278.2 L628.1 278.9 L629.3 278.7 L630.5 278 L631.7 277.5 L632.9 277.2 L634.1 276.8 L635.3 276.9 L636.5 277 L637.7 277.1 L638.9 276.8 L640.1 276.4 L641.3 276.8 L642.5 276.2 L643.7 276 L644.9 275.9 L646.1 275.7 L647.3 276.1 L648.5 275.7 L649.7 275.3 L650.9 275.1 L652.1 274.9 L653.3 275.2 L654.5 275 L655.7 274.6 L656.9 274.5 L658.1 274.3 L659.3 273.7 L660.5 273.5 L661.7 273.5 L662.9 273.5 L664.1 273.6 L665.3 273.3 L666.5 273 L667.7 272.5 L668.9 271.9 L670.1 271.7 L671.3 271.5 L672.5 271.6 L673.7 271.4 L674.9 271 L676.1 270.7 L677.3 270.7 L678.5 270.6 L679.7 270.5 L680.9 270.4 L682.1 270.4 L683.3 269.8 L684.5 269.6 L685.7 269.5 L686.9 269.5 L688.1 269.8 L689.3 269.4 L690.5 269.2 L691.7 268.7 L692.9 268.1 L694.1 268 L695.3 268.2 L696.5 267.9 L697.7 267.7 L698.9 267.9 L700.1 267.8 L701.3 267.8 L702.5 267.6 L703.7 267 L704.9 266.5 L706.1 266.5 L707.3 266.1 L708.5 266.1 L709.7 266.2 L710.9 265.7 L712.1 265.2 L713.3 265.7 L714.5 265.7 L715.7 265.1 L716.9 265.2 L718.1 265 L719.3 264.6 L720.5 264.4 L721.7 264 L722.9 263.8 L724.1 263.6 L725.3 263.5 L726.5 263.7 L727.7 263.2 L728.9 263.2 L730.1 263.1 L731.3 262.7 L732.5 262.8 L733.7 262.4 L734.9 262.3 L736.1 262.5 L737.3 262.7 L738.5 262.4 L739.7 262.2 L740.9 261.7 L742.1 261.4 L743.3 261.2 L744.5 261.3 L745.7 261.2 L746.9 260.8 L748.1 260.4 L749.3 260.2 L750.5 260.4 L751.7 260.3 L752.9 260 L754.1 259.9 L755.3 259.6 L756.5 259.3 L757.7 259.2 L758.9 259.1 L760.1 259 L761.3 259.1 L762.5 258.8 L763.7 258 L764.9 258.1 L766.1 258.1 L767.3 257.8 L768.5 258.2 L769.7 258.2 L770.9 257.6 L772.1 257.2 L773.3 257 L774.5 256.9 L775.7 256.6 L776.9 256.2 L778.1 256.1 L779.3 256.5 L780.5 256.8 L781.7 256.4 L782.9 256.2 L784.1 256.4 L785.3 256.3 L786.5 256.2 L787.7 256.1 L788.9 256 L790.1 255.7 L791.3 255.6 L792.5 255.6 L793.7 255.5 L794.9 255.1 L796.1 255.4 L797.3 255.5 L798.5 254.7 L799.7 254.3 L800.9 254.1 L802.1 254.3 L803.3 255 L804.5 254.6 L805.7 254.1 L806.9 254 L808.1 254.1 L809.3 254.3 L810.5 254 L811.7 254 L812.9 254.2 L814.1 253.8 L815.3 253.2 L816.5 252.6 L817.7 252.3 L818.9 252 L820.1 252.4 L821.3 252.4 L822 251.9 M822 252V345" stroke="#1A6FDF" stroke-width="5.0"/>
</g>
<text transform="translate(124.08 561.70) scale(1.0100 1)" font-size="35.60">0</text>
<text transform="translate(104.13 455.85) scale(1.0100 1)" font-size="35.60">10</text>
<text transform="translate(104.13 350.00) scale(1.0100 1)" font-size="35.60">20</text>
<text transform="translate(104.13 244.15) scale(1.0100 1)" font-size="35.60">30</text>
<text transform="translate(104.13 138.30) scale(1.0100 1)" font-size="35.60">40</text>
<text transform="translate(104.13 32.45) scale(1.0100 1)" font-size="35.60">50</text>
<text transform="translate(151.92 596.20) scale(1.0100 1)" font-size="35.60">0</text>
<text transform="translate(283.95 596.20) scale(1.0100 1)" font-size="35.60">2</text>
<text transform="translate(415.62 596.20) scale(1.0100 1)" font-size="35.60">4</text>
<text transform="translate(547.74 596.20) scale(1.0100 1)" font-size="35.60">6</text>
<text transform="translate(679.68 596.20) scale(1.0100 1)" font-size="35.60">8</text>
<text transform="translate(801.19 596.20) scale(1.0100 1)" font-size="35.60">10</text>
<text transform="translate(0.87 43.75) scale(1.0010 1)" font-size="57.50">(A)</text>
<text transform="translate(253.75 652.60) scale(0.9303 1)" font-size="48.50">Sliding distance</text>
<text transform="translate(622.50 652.60) scale(1.0322 1)" font-size="48.50">(mm)</text>
<text transform="translate(78.00 541.33) rotate(-90) scale(0.9126 1)" font-size="48.50">Sliding resistance</text>
<text transform="translate(78.00 136.60) rotate(-90) scale(1.0709 1)" font-size="48.50">(N)</text>
<line x1="569.4" y1="424" x2="640.3" y2="424" stroke="#515151" stroke-width="5.6" stroke-linecap="round"/>
<text transform="translate(648.34 434.20) scale(1.0396 1)" font-size="30.20">0.1mm/min</text>
<line x1="569.4" y1="464.2" x2="640.3" y2="464.2" stroke="#F14040" stroke-width="5.6" stroke-linecap="round"/>
<text transform="translate(648.34 474.45) scale(1.0396 1)" font-size="30.20">0.5mm/min</text>
<line x1="569.4" y1="504.5" x2="640.3" y2="504.5" stroke="#1A6FDF" stroke-width="5.6" stroke-linecap="round"/>
<text transform="translate(648.95 514.70) scale(1.0458 1)" font-size="30.20">1mm/min</text>
</g>
<g id="panelB">
<clipPath id="clipB"><rect x="1022" y="24.8" width="660.3" height="529.2"/></clipPath>
<rect x="1022" y="24.8" width="660" height="529.2" fill="none" stroke="#000" stroke-width="5.2"/>
<path d="M1011.2 554H1022M1011.2 436.4H1022M1011.2 318.8H1022M1011.2 201.2H1022M1011.2 83.6H1022M1016.4 495.2H1022M1016.4 377.6H1022M1016.4 260H1022M1016.4 142.4H1022M1016.4 24.8H1022M1022 554V564.8M1088 554V559.6M1154 554V564.8M1220 554V559.6M1286 554V564.8M1352 554V559.6M1418 554V564.8M1484 554V559.6M1550 554V564.8M1616 554V559.6M1682 554V564.8" stroke="#000" stroke-width="5.2" fill="none"/>
<g clip-path="url(#clipB)" fill="none" stroke-linejoin="round">
<path d="M1022 554 L1022.2 548.5 L1022.4 543.2 L1022.6 538 L1022.8 533 L1023 528.4 L1023.2 524.1 L1023.4 520.3 L1023.6 517 L1023.8 514.4 L1024 512 L1024.2 509.8 L1024.4 507.7 L1024.6 505.7 L1024.8 503.8 L1025 502.1 L1025.2 500.4 L1025.4 498.9 L1025.6 497.4 L1025.8 496.1 L1026 494.8 L1026.2 493.5 L1026.4 492.3 L1026.6 491.2 L1026.8 490.2 L1027 489.2 L1027.2 488.2 L1027.4 487.2 L1027.6 486.3 L1027.8 485.3 L1028 484.4 L1028.2 483.6 L1028.4 482.8 L1028.6 482 L1028.8 481.2 L1029 480.4 L1029.2 479.7 L1029.4 478.9 L1029.6 478.1 L1029.8 477.5 L1030 476.9 L1030.2 476.1 L1030.4 475.4 L1030.6 474.8 L1030.8 474.1 L1031 473.5 L1031.2 472.9 L1031.4 472.3 L1031.6 471.7 L1031.8 471.1 L1032 470.5 L1032.2 469.9 L1032.4 469.3 L1032.6 468.7 L1032.8 468 L1033 467.6 L1033.2 467.2 L1033.4 466.4 L1033.6 465.8 L1033.8 465.3 L1034 464.7 L1035.2 461.5 L1036.4 458.8 L1037.6 456 L1038.8 452.9 L1040 450.3 L1041.2 448.3 L1042.4 446 L1043.6 443.5 L1044.8 441.5 L1046 439.4 L1047.2 437.5 L1048.4 434.9 L1049.6 433 L1050.8 431.9 L1052 430.2 L1053.2 428.2 L1054.4 426.6 L1055.6 424.9 L1056.8 423.5 L1058 422.2 L1059.2 421.2 L1060.4 419.7 L1061.6 417.7 L1062.8 416.1 L1064 414.7 L1065.2 413.2 L1066.4 412.5 L1067.6 411.1 L1068.8 410.1 L1070 409.7 L1071.2 408.1 L1072.4 406.5 L1073.6 405.4 L1074.8 404.5 L1076 403.5 L1077.2 402.4 L1078.4 400.8 L1079.6 399.8 L1080.8 398.6 L1082 397.4 L1083.2 396 L1084.4 394.7 L1085.6 393.9 L1086.8 393.2 L1088 392.4 L1089.2 392.3 L1090.4 391.4 L1091.6 390 L1092.8 389.1 L1094 388.1 L1095.2 386.6 L1096.4 386.3 L1097.6 385.3 L1098.8 383.7 L1100 383 L1101.2 382.5 L1102.4 381.7 L1103.6 380.4 L1104.8 379.6 L1106 378.1 L1107.2 377.4 L1108.4 376.9 L1109.6 375.5 L1110.8 374.3 L1112 373.4 L1113.2 372.8 L1114.4 371.8 L1115.6 370.6 L1116.8 369.4 L1118 368.3 L1119.2 367.1 L1120.4 366.2 L1121.6 364.6 L1122.8 363.6 L1124 363.1 L1125.2 362.3 L1126.4 361.5 L1127.6 360.2 L1128.8 359 L1130 358.5 L1131.2 357.6 L1132.4 356.7 L1133.6 356 L1134.8 354.7 L1136 354.4 L1137.2 353.6 L1138.4 352.8 L1139.6 352.2 L1140.8 351.2 L1142 350.6 L1143.2 350.1 L1144.4 349.6 L1145.6 349.4 L1146.8 348.6 L1148 348.4 L1149.2 348.4 L1150.4 347.8 L1151.6 347 L1152.8 345.5 L1154 345.3 L1155.2 345.1 L1156.4 344.6 L1157.6 344 L1158.8 343.3 L1160 342.7 L1161.2 341.6 L1162.4 341.3 L1163.6 340.8 L1164.8 339.8 L1166 339.4 L1167.2 338.4 L1168.4 337.2 L1169.6 337.1 L1170.8 336.3 L1172 335.3 L1173.2 334.6 L1174.4 333.7 L1175.6 333.1 L1176.8 332.4 L1178 331.5 L1179.2 331.1 L1180.4 330.6 L1181.6 329.8 L1182.8 328.7 L1184 328 L1185.2 327.9 L1186.4 327.4 L1187.6 326.6 L1188.8 325.5 L1190 324.6 L1191.2 324.1 L1192.4 323.9 L1193.6 323 L1194.8 322.3 L1196 321.5 L1197.2 320.7 L1198.4 319.7 L1199.6 318.7 L1200.8 318 L1202 317.4 L1203.2 317.1 L1204.4 315.9 L1205.6 314.8 L1206.8 314.2 L1208 313.3 L1209.2 312.4 L1210.4 311.9 L1211.6 311.5 L1212.8 311.4 L1214 310.3 L1215.2 309.1 L1216.4 308.4 L1217.6 307.6 L1218.8 306.9 L1220 306.4 L1221.2 305.7 L1222.4 304.7 L1223.6 303.9 L1224.8 303.5 L1226 302.8 L1227.2 301.7 L1228.4 301 L1229.6 300.2 L1230.8 299.9 L1232 299.3 L1233.2 298.6 L1234.4 298 L1235.6 297 L1236.8 295.9 L1238 295.7 L1239.2 295.7 L1240.4 295.4 L1241.6 295 L1242.8 293.8 L1244 293.5 L1245.2 293 L1246.4 292.4 L1247.6 291.9 L1248.8 291.8 L1250 291.8 L1251.2 290.9 L1252.4 290.6 L1253.6 290.1 L1254.8 289.2 L1256 288.4 L1257.2 287.4 L1258.4 287.7 L1259.6 287.9 L1260.8 287.1 L1262 285.7 L1263.2 284.9 L1264.4 284.6 L1265.6 283.9 L1266.8 283.3 L1268 282.3 L1269.2 281.6 L1270.4 280.8 L1271.6 280.2 L1272.8 279.8 L1274 279.1 L1275.2 278.3 L1276.4 277.8 L1277.6 277.3 L1278.8 277 L1280 276.5 L1281.2 275.9 L1282.4 274.9 L1283.6 274 L1284.8 273.9 L1286 273.3 L1287.2 272.5 L1288.4 271.9 L1289.6 271.7 L1290.8 271.2 L1292 269.9 L1293.2 269.6 L1294.4 269.4 L1295.6 268.8 L1296.8 268.2 L1298 267.5 L1299.2 266.7 L1300.4 266 L1301.6 265.4 L1302.8 264.6 L1304 264.2 L1305.2 263.6 L1306.4 263 L1307.6 262.6 L1308.8 261.9 L1310 260.8 L1311.2 259.8 L1312.4 259.2 L1313.6 258.2 L1314.8 257.6 L1316 257 L1317.2 256 L1318.4 255.6 L1319.6 255.4 L1320.8 254.9 L1322 254.3 L1323.2 253.6 L1324.4 252.5 L1325.6 252.1 L1326.8 251.7 L1328 251 L1329.2 249.9 L1330.4 249 L1331.6 248.2 L1332.8 247.3 L1334 246.9 L1335.2 246.6 L1336.4 246.1 L1337.6 245.1 L1338.8 244.3 L1340 243.3 L1341.2 242.8 L1342.4 242.2 L1343.6 241.4 L1344.8 240.5 L1346 239.2 L1347.2 238.5 L1348.4 237.7 L1349.6 236.7 L1350.8 235.5 L1352 235 L1353.2 234.3 L1354.4 233.6 L1355.6 232.7 L1356.8 231.5 L1358 231.1 L1359.2 231.1 L1360.4 230 L1361.6 229.1 L1362.8 228.8 L1364 228.5 L1365.2 227.9 L1366.4 228 L1367.6 228.4 L1368.8 227.4 L1370 226.4 L1371.2 226.2 L1372.4 226.7 L1373.6 226.5 L1374.8 225.9 L1376 225.1 L1377.2 224.4 L1378.4 224 L1379.6 224 L1380.8 224 L1382 222.5 L1383.2 221.4 L1384.4 221.7 L1385.6 221.7 L1386.8 221.1 L1388 220.6 L1389.2 220.8 L1390.4 220.1 L1391.6 218.7 L1392.8 218 L1394 217.5 L1395.2 216.8 L1396.4 216.6 L1397.6 216.4 L1398.8 215.4 L1400 214.9 L1401.2 214.4 L1402.4 214 L1403.6 213.4 L1404.8 212.8 L1406 212.3 L1407.2 211.7 L1408.4 211.2 L1409.6 210.5 L1410.8 209.8 L1412 209.3 L1413.2 208.4 L1414.4 208.4 L1415.6 207.9 L1416.8 206.7 L1418 206 L1419.2 205.3 L1420.4 204.8 L1421.6 204.2 L1422.8 203.3 L1424 202.5 L1425.2 201.7 L1426.4 201.2 L1427.6 201.3 L1428.8 200.6 L1430 199.4 L1431.2 199.2 L1432.4 199.3 L1433.6 198.1 L1434.8 196.8 L1436 196.7 L1437.2 196.6 L1438.4 195.7 L1439.6 194.7 L1440.8 194.4 L1442 194.4 L1443.2 194.1 L1444.4 193.6 L1445.6 193.2 L1446.8 192.3 L1448 192 L1449.2 191.5 L1450.4 190.9 L1451.6 190.3 L1452.8 189.6 L1454 189.4 L1455.2 188.9 L1456.4 188.2 L1457.6 188.1 L1458.8 187.9 L1460 187.3 L1461.2 186.7 L1462.4 186.5 L1463.6 186.8 L1464.8 185.9 L1466 184.6 L1467.2 184.3 L1468.4 184.1 L1469.6 183.5 L1470.8 183.2 L1472 183.1 L1473.2 183.2 L1474.4 183.1 L1475.6 182.7 L1476.8 181.9 L1478 181.7 L1479.2 181.3 L1480.4 180.4 L1481.6 179.9 L1482.8 179.9 L1484 180 L1485.2 179 L1486.4 178.3 L1487.6 177.9 L1488.8 177.4 L1490 177.2 L1491.2 176.5 L1492.4 175.7 L1493.6 174.8 L1494.8 174.1 L1496 173.4 L1497.2 173.4 L1498.4 173.6 L1499.6 172.8 L1500.8 172.2 L1502 171.8 L1503.2 171.2 L1504.4 169.8 L1505.6 169 L1506.8 168.4 L1508 167.8 L1509.2 167.5 L1510.4 167.2 L1511.6 166.9 L1512.8 166.2 L1514 165.3 L1515.2 165.1 L1516.4 164.6 L1517.6 163.9 L1518.8 162.7 L1520 162 L1521.2 162 L1522.4 161.6 L1523.6 160.4 L1524.8 159.8 L1526 159.7 L1527.2 158.8 L1528.4 158.3 L1529.6 157.7 L1530.8 156.9 L1532 156.4 L1533.2 156.4 L1534.4 155.7 L1535.6 154.5 L1536.8 154.1 L1538 153.4 L1539.2 152.6 L1540.4 151.7 L1541.6 151.1 L1542.8 151.1 L1544 150.3 L1545.2 150.1 L1546.4 149.8 L1547.6 149 L1548.8 148.1 L1550 147.2 L1551.2 146.9 L1552.4 146.4 L1553.6 146.3 L1554.8 146.4 L1556 145.6 L1557.2 144.5 L1558.4 143.9 L1559.6 143.4 L1560.8 143 L1562 142.8 L1563.2 142.3 L1564.4 141.8 L1565.6 141.7 L1566.8 141.7 L1568 140.8 L1569.2 140.1 L1570.4 139.7 L1571.6 138.7 L1572.8 138.7 L1574 138.5 L1575.2 137.9 L1576.4 137.4 L1577.6 136.7 L1578.8 135.9 L1580 135.7 L1581.2 135.8 L1582.4 134.9 L1583.6 134.5 L1584.8 134.3 L1586 133.6 L1587.2 133 L1588.4 132.5 L1589.6 131.9 L1590.8 131.4 L1592 131.4 L1593.2 130.8 L1594.4 130 L1595.6 129.6 L1596.8 128.8 L1598 128.2 L1599.2 127.7 L1600.4 126.8 L1601.6 126.3 L1602.8 125.6 L1604 125.4 L1605.2 125.3 L1606.4 124.5 L1607.6 123.6 L1608.8 122.6 L1610 122.2 L1611.2 121.7 L1612.4 121.7 L1613.6 121.1 L1614.8 120.1 L1616 119.6 L1617.2 119.5 L1618.4 119.1 L1619.6 117.7 L1620.8 116.8 L1622 116.5 L1623.2 115.8 L1624.4 115.3 L1625.6 114.6 L1626.8 113.4 L1628 112.7 L1629.2 112.7 L1630.4 112.8 L1631.6 111.9 L1632.8 110.5 L1634 109.7 L1635.2 109.4 L1636.4 109.2 L1637.6 108.7 L1638.8 107.9 L1640 107.1 L1641.2 106.4 L1642.4 106.2 L1643.6 105.7 L1644.8 104.6 L1646 104.8 L1647.2 105.2 L1648.4 104.5 L1649.6 104 L1650.8 103.2 L1652 102.9 L1653.2 102.5 L1654.4 102.2 L1655.6 102.3 L1656.8 101.2 L1658 101 L1659.2 101.7 L1660.4 101.2 L1661.6 100.9 L1662.8 100.9 L1664 100.5 L1665.2 99.9 L1666.4 100.3 L1667.6 100.9 L1668.8 100.8 L1670 100.5 L1671.2 100.2 L1672.4 100.8 L1673.6 100.9 L1674.8 100.5 L1676 100.3 L1677.2 100.4 L1678.4 100.9 L1679.6 100.7 L1680.8 100.4 L1682 100.1 L1682 166.3 L1680.8 167.2 L1679.6 167.2 L1678.4 167.1 L1677.2 167.2 L1676 167.5 L1674.8 167.7 L1673.6 168.1 L1672.4 168.4 L1671.2 168.6 L1670 169 L1668.8 169.4 L1667.6 169.7 L1666.4 169.7 L1665.2 169.5 L1664 169.7 L1662.8 169.8 L1661.6 170.2 L1660.4 170.8 L1659.2 171.2 L1658 171.3 L1656.8 171.6 L1655.6 172.1 L1654.4 172.9 L1653.2 173.2 L1652 173.4 L1650.8 174.2 L1649.6 174.7 L1648.4 174.7 L1647.2 175.1 L1646 176.2 L1644.8 176.9 L1643.6 177.1 L1642.4 177.7 L1641.2 178.1 L1640 178.3 L1638.8 179.5 L1637.6 179.9 L1636.4 179.3 L1635.2 179.5 L1634 180.3 L1632.8 180.3 L1631.6 180.6 L1630.4 180.8 L1629.2 180.7 L1628 181.6 L1626.8 182.1 L1625.6 182.1 L1624.4 182.4 L1623.2 182.7 L1622 182.5 L1620.8 182.6 L1619.6 183.5 L1618.4 183.8 L1617.2 183.8 L1616 184 L1614.8 184.3 L1613.6 185 L1612.4 185.2 L1611.2 185 L1610 185.4 L1608.8 185.8 L1607.6 185.9 L1606.4 186.3 L1605.2 186.3 L1604 186.8 L1602.8 186.9 L1601.6 186.9 L1600.4 187.2 L1599.2 187.1 L1598 187.9 L1596.8 188.5 L1595.6 188.9 L1594.4 188.7 L1593.2 188.5 L1592 188.7 L1590.8 189.1 L1589.6 189.6 L1588.4 190.3 L1587.2 190.5 L1586 190.7 L1584.8 191 L1583.6 191.3 L1582.4 192 L1581.2 192.3 L1580 192.8 L1578.8 193.3 L1577.6 193.4 L1576.4 193.9 L1575.2 194.3 L1574 194.2 L1572.8 194.5 L1571.6 195.9 L1570.4 196.2 L1569.2 195.8 L1568 196.3 L1566.8 196.8 L1565.6 196.5 L1564.4 196.5 L1563.2 197.9 L1562 198.6 L1560.8 198.7 L1559.6 199 L1558.4 199.7 L1557.2 200 L1556 200.1 L1554.8 200.3 L1553.6 201.1 L1552.4 201.8 L1551.2 202 L1550 201.9 L1548.8 202.1 L1547.6 202.1 L1546.4 201.9 L1545.2 202 L1544 202.7 L1542.8 203.6 L1541.6 203.7 L1540.4 203.9 L1539.2 204.4 L1538 205 L1536.8 205.1 L1535.6 205.5 L1534.4 206.2 L1533.2 206.7 L1532 207.5 L1530.8 208.3 L1529.6 208.2 L1528.4 208.6 L1527.2 208.9 L1526 208.6 L1524.8 209.3 L1523.6 210.3 L1522.4 210.6 L1521.2 210.6 L1520 211.1 L1518.8 211.7 L1517.6 211.5 L1516.4 212 L1515.2 212.7 L1514 212.8 L1512.8 213.4 L1511.6 213.4 L1510.4 213.9 L1509.2 214.1 L1508 214.1 L1506.8 214.1 L1505.6 214.3 L1504.4 215 L1503.2 215.6 L1502 215.6 L1500.8 215.8 L1499.6 215.8 L1498.4 216 L1497.2 215.9 L1496 216.2 L1494.8 216.4 L1493.6 216.1 L1492.4 216.5 L1491.2 217 L1490 217.5 L1488.8 218 L1487.6 218.1 L1486.4 217.8 L1485.2 217.6 L1484 218.1 L1482.8 219 L1481.6 219.7 L1480.4 220.4 L1479.2 220.6 L1478 220.6 L1476.8 220.9 L1475.6 221 L1474.4 221.2 L1473.2 221.4 L1472 221.4 L1470.8 222.7 L1469.6 223.4 L1468.4 223.2 L1467.2 223.6 L1466 224.1 L1464.8 224.2 L1463.6 224.8 L1462.4 225.6 L1461.2 225.9 L1460 227 L1458.8 227.7 L1457.6 227.8 L1456.4 228.1 L1455.2 228.4 L1454 228.6 L1452.8 228.8 L1451.6 229.2 L1450.4 229.7 L1449.2 230.6 L1448 231.4 L1446.8 231.8 L1445.6 232.8 L1444.4 233.1 L1443.2 232.8 L1442 233.6 L1440.8 234.5 L1439.6 234.8 L1438.4 235.1 L1437.2 235.7 L1436 236.7 L1434.8 237.1 L1433.6 237.4 L1432.4 238.1 L1431.2 238.2 L1430 238.1 L1428.8 238.3 L1427.6 238.9 L1426.4 239.3 L1425.2 239.4 L1424 239.9 L1422.8 240.9 L1421.6 241.5 L1420.4 241.4 L1419.2 242 L1418 242.8 L1416.8 242.7 L1415.6 242.5 L1414.4 243.1 L1413.2 244.2 L1412 244.3 L1410.8 244 L1409.6 244.7 L1408.4 245.4 L1407.2 245.6 L1406 245.9 L1404.8 246.6 L1403.6 247.1 L1402.4 247.7 L1401.2 247.7 L1400 247.1 L1398.8 247.3 L1397.6 247.9 L1396.4 247.6 L1395.2 248.1 L1394 249.2 L1392.8 248.8 L1391.6 248.4 L1390.4 249.8 L1389.2 250.6 L1388 250.9 L1386.8 251.5 L1385.6 251.4 L1384.4 251.8 L1383.2 253 L1382 253.5 L1380.8 254 L1379.6 254.7 L1378.4 255.2 L1377.2 255.9 L1376 257 L1374.8 257.2 L1373.6 257.4 L1372.4 258.5 L1371.2 259.5 L1370 259.8 L1368.8 260.2 L1367.6 261.5 L1366.4 262.7 L1365.2 263.1 L1364 263.9 L1362.8 264.5 L1361.6 264.7 L1360.4 265.4 L1359.2 266.2 L1358 266.6 L1356.8 267.1 L1355.6 267.4 L1354.4 267.9 L1353.2 268.7 L1352 269 L1350.8 269.2 L1349.6 269.7 L1348.4 269.9 L1347.2 270.4 L1346 270.7 L1344.8 271 L1343.6 271.8 L1342.4 272 L1341.2 272.3 L1340 273.1 L1338.8 273.8 L1337.6 273.9 L1336.4 275 L1335.2 275.7 L1334 276 L1332.8 276.3 L1331.6 277 L1330.4 277.6 L1329.2 278 L1328 278.5 L1326.8 278.7 L1325.6 279.4 L1324.4 279.8 L1323.2 280 L1322 281 L1320.8 281.9 L1319.6 282.5 L1318.4 282.7 L1317.2 283.2 L1316 284.4 L1314.8 284.9 L1313.6 285.3 L1312.4 286.4 L1311.2 287.2 L1310 287.6 L1308.8 288 L1307.6 289.2 L1306.4 290.3 L1305.2 291.2 L1304 291.6 L1302.8 292.2 L1301.6 292.8 L1300.4 293.2 L1299.2 294.2 L1298 294.7 L1296.8 295.4 L1295.6 296.5 L1294.4 296.8 L1293.2 297.4 L1292 298.2 L1290.8 298.8 L1289.6 299.4 L1288.4 300.6 L1287.2 301.5 L1286 301.6 L1284.8 301.7 L1283.6 302.7 L1282.4 304.4 L1281.2 304.6 L1280 305.8 L1278.8 307.8 L1277.6 308.5 L1276.4 308.6 L1275.2 309.3 L1274 310.4 L1272.8 311.1 L1271.6 311.5 L1270.4 312.1 L1269.2 313.4 L1268 314.7 L1266.8 315.4 L1265.6 316.2 L1264.4 317.4 L1263.2 317.8 L1262 318.6 L1260.8 319.7 L1259.6 320 L1258.4 320.5 L1257.2 321.7 L1256 322.2 L1254.8 322.7 L1253.6 323.9 L1252.4 324.4 L1251.2 324.9 L1250 325.9 L1248.8 326.3 L1247.6 326.7 L1246.4 327.1 L1245.2 327.8 L1244 328.8 L1242.8 329.1 L1241.6 329.9 L1240.4 330.7 L1239.2 331.3 L1238 331.7 L1236.8 332.4 L1235.6 332.7 L1234.4 333.1 L1233.2 333.2 L1232 333.4 L1230.8 334.3 L1229.6 334.8 L1228.4 334.9 L1227.2 334.8 L1226 335.6 L1224.8 336.7 L1223.6 336.6 L1222.4 336.5 L1221.2 337.2 L1220 337.5 L1218.8 337.9 L1217.6 338.1 L1216.4 338 L1215.2 338.9 L1214 339.6 L1212.8 339.9 L1211.6 340 L1210.4 340.1 L1209.2 340.2 L1208 340.3 L1206.8 340.4 L1205.6 340.4 L1204.4 340.9 L1203.2 341.8 L1202 342.1 L1200.8 342 L1199.6 342.2 L1198.4 342.3 L1197.2 342.7 L1196 343.2 L1194.8 343.3 L1193.6 343.2 L1192.4 343.2 L1191.2 344.1 L1190 344.5 L1188.8 344 L1187.6 344.4 L1186.4 345.3 L1185.2 345.4 L1184 345.5 L1182.8 345.6 L1181.6 345.8 L1180.4 346.4 L1179.2 346.8 L1178 347.6 L1176.8 347.6 L1175.6 347.7 L1174.4 348.2 L1173.2 348.8 L1172 349.6 L1170.8 350.1 L1169.6 351.1 L1168.4 351.9 L1167.2 352.2 L1166 352.5 L1164.8 353.5 L1163.6 354.1 L1162.4 354 L1161.2 354.1 L1160 354.5 L1158.8 355.7 L1157.6 356.8 L1156.4 357.4 L1155.2 358.1 L1154 358.4 L1152.8 359 L1151.6 359.7 L1150.4 360.3 L1149.2 361 L1148 361.5 L1146.8 362.6 L1145.6 363.6 L1144.4 364.1 L1143.2 365 L1142 365.9 L1140.8 366.7 L1139.6 367.5 L1138.4 367.9 L1137.2 368.3 L1136 369.2 L1134.8 369.7 L1133.6 370.5 L1132.4 370.8 L1131.2 371.8 L1130 372.7 L1128.8 373.5 L1127.6 374.9 L1126.4 375.7 L1125.2 376.6 L1124 377.3 L1122.8 377.6 L1121.6 378.4 L1120.4 379.2 L1119.2 380.6 L1118 381.6 L1116.8 382.2 L1115.6 383.2 L1114.4 383.7 L1113.2 385 L1112 386.3 L1110.8 387 L1109.6 387.5 L1108.4 388.4 L1107.2 389.9 L1106 390.8 L1104.8 391.1 L1103.6 392 L1102.4 392.7 L1101.2 393.9 L1100 394.8 L1098.8 395.6 L1097.6 396.5 L1096.4 397.7 L1095.2 398.4 L1094 399.1 L1092.8 399.8 L1091.6 400.7 L1090.4 401.9 L1089.2 402.9 L1088 403.7 L1086.8 404.9 L1085.6 406.2 L1084.4 406.7 L1083.2 407.7 L1082 408.5 L1080.8 409.3 L1079.6 410.6 L1078.4 412 L1077.2 413 L1076 414.3 L1074.8 415.6 L1073.6 416.7 L1072.4 417.6 L1071.2 418.5 L1070 419.6 L1068.8 420.9 L1067.6 422.5 L1066.4 423.8 L1065.2 424.4 L1064 425.6 L1062.8 426.9 L1061.6 428 L1060.4 429.3 L1059.2 430 L1058 431.5 L1056.8 433.3 L1055.6 434.2 L1054.4 435.7 L1053.2 438.1 L1052 439.3 L1050.8 440.5 L1049.6 442.3 L1048.4 444.2 L1047.2 446.1 L1046 447.8 L1044.8 449.8 L1043.6 452.6 L1042.4 455 L1041.2 456.8 L1040 459.1 L1038.8 461.6 L1037.6 464.1 L1036.4 467 L1035.2 470.1 L1034 473.4 L1033.8 473.9 L1033.6 474.6 L1033.4 475.3 L1033.2 475.9 L1033 476.5 L1032.8 477.1 L1032.6 477.7 L1032.4 478.2 L1032.2 479.1 L1032 479.8 L1031.8 480.4 L1031.6 481 L1031.4 481.7 L1031.2 482.5 L1031 483.4 L1030.8 484.2 L1030.6 484.9 L1030.4 485.7 L1030.2 486.7 L1030 487.5 L1029.8 488.4 L1029.6 489.3 L1029.4 490.2 L1029.2 491.1 L1029 492 L1028.8 493.1 L1028.6 494.1 L1028.4 495.1 L1028.2 496.1 L1028 497.3 L1027.8 498.4 L1027.6 499.5 L1027.4 500.6 L1027.2 501.9 L1027 503.3 L1026.8 504.8 L1026.6 506.4 L1026.4 508.1 L1026.2 509.9 L1026 511.7 L1025.8 513.5 L1025.6 515.5 L1025.4 517.4 L1025.2 519.4 L1025 521.3 L1024.8 523.3 L1024.6 525.2 L1024.4 527.2 L1024.2 529.2 L1024 531.3 L1023.8 533.4 L1023.6 535.6 L1023.4 537.7 L1023.2 540 L1023 542.2 L1022.8 544.5 L1022.6 546.8 L1022.4 549.2 L1022.2 551.6 L1022 554Z" fill="#B0B0B0" fill-opacity="0.5" stroke="none"/>
<path d="M1022 554 L1022.2 549.3 L1022.4 544.7 L1022.6 540.3 L1022.8 536 L1023 532 L1023.2 528.3 L1023.4 524.9 L1023.6 521.9 L1023.8 519.4 L1024 517.1 L1024.2 515 L1024.4 512.9 L1024.6 511 L1024.8 509.1 L1025 507.4 L1025.2 505.7 L1025.4 504.1 L1025.6 502.7 L1025.8 501.3 L1026 499.9 L1026.2 498.7 L1026.4 497.4 L1026.6 496.3 L1026.8 495.2 L1027 494.1 L1027.2 493.1 L1027.4 492.1 L1027.6 491.1 L1027.8 490.1 L1028 489.2 L1028.2 488.3 L1028.4 487.4 L1028.6 486.6 L1028.8 485.7 L1029 484.9 L1029.2 484.1 L1029.4 483.3 L1029.6 482.6 L1029.8 481.9 L1030 481.2 L1030.2 480.5 L1030.4 479.7 L1030.6 479 L1030.8 478.4 L1031 477.8 L1031.2 477.1 L1031.4 476.4 L1031.6 475.7 L1031.8 475.1 L1032 474.5 L1032.2 474 L1032.4 473.4 L1032.6 472.8 L1032.8 472.2 L1033 471.5 L1033.2 470.8 L1033.4 470.2 L1033.6 469.8 L1033.8 469.2 L1034 468.4 L1035.2 465.2 L1036.4 462.4 L1037.6 459.5 L1038.8 456.7 L1040 454.3 L1041.2 452 L1042.4 449.9 L1043.6 447.4 L1044.8 445 L1046 442.8 L1047.2 440.8 L1048.4 438.8 L1049.6 436.9 L1050.8 435.1 L1052 433.6 L1053.2 432.1 L1054.4 430.9 L1055.6 429.3 L1056.8 428 L1058 427.2 L1059.2 426 L1060.4 424.5 L1061.6 422.7 L1062.8 421.4 L1064 420.5 L1065.2 419.3 L1066.4 417.8 L1067.6 416.6 L1068.8 415.4 L1070 414.1 L1071.2 412.7 L1072.4 411.6 L1073.6 410.9 L1074.8 410.3 L1076 409 L1077.2 407.4 L1078.4 406.4 L1079.6 405.3 L1080.8 403.6 L1082 402.4 L1083.2 401.7 L1084.4 401 L1085.6 399.6 L1086.8 398.3 L1088 397.3 L1089.2 396.3 L1090.4 395.5 L1091.6 394.4 L1092.8 393.2 L1094 392.3 L1095.2 391.5 L1096.4 390.1 L1097.6 389.4 L1098.8 389.2 L1100 388.3 L1101.2 387.3 L1102.4 386.6 L1103.6 385.8 L1104.8 384.8 L1106 383.8 L1107.2 383.3 L1108.4 382.5 L1109.6 381.4 L1110.8 380.5 L1112 379.6 L1113.2 378.7 L1114.4 378.3 L1115.6 377.5 L1116.8 376.4 L1118 375.3 L1119.2 374.4 L1120.4 373.8 L1121.6 373 L1122.8 371.9 L1124 370.8 L1125.2 369.8 L1126.4 369.2 L1127.6 368.4 L1128.8 367.7 L1130 366.7 L1131.2 365.7 L1132.4 365.4 L1133.6 364.8 L1134.8 364 L1136 363.6 L1137.2 363.1 L1138.4 362.5 L1139.6 362.2 L1140.8 362.1 L1142 361.2 L1143.2 360.5 L1144.4 360.3 L1145.6 359.7 L1146.8 358.8 L1148 358.2 L1149.2 358.2 L1150.4 357.5 L1151.6 356.6 L1152.8 356 L1154 355.1 L1155.2 354.4 L1156.4 353.9 L1157.6 353.3 L1158.8 352.7 L1160 351.6 L1161.2 351 L1162.4 350.7 L1163.6 350 L1164.8 349.2 L1166 348.6 L1167.2 348.4 L1168.4 347.5 L1169.6 347.1 L1170.8 346.6 L1172 345.7 L1173.2 345.2 L1174.4 344.7 L1175.6 344 L1176.8 343.5 L1178 342.9 L1179.2 342.4 L1180.4 341.8 L1181.6 341.1 L1182.8 340.6 L1184 339.7 L1185.2 339.1 L1186.4 338.7 L1187.6 337.9 L1188.8 337.3 L1190 337 L1191.2 336.2 L1192.4 335 L1193.6 334.3 L1194.8 334 L1196 333.3 L1197.2 332.8 L1198.4 332.2 L1199.6 332 L1200.8 331.7 L1202 331.1 L1203.2 330.9 L1204.4 330.6 L1205.6 330.4 L1206.8 330.1 L1208 329.6 L1209.2 329 L1210.4 328.2 L1211.6 327.3 L1212.8 327.3 L1214 326.9 L1215.2 326.3 L1216.4 326.1 L1217.6 324.9 L1218.8 324 L1220 324.1 L1221.2 323.3 L1222.4 322.3 L1223.6 322 L1224.8 321.4 L1226 320.9 L1227.2 320.5 L1228.4 320.3 L1229.6 319.6 L1230.8 319.1 L1232 318.7 L1233.2 318.2 L1234.4 317.9 L1235.6 317 L1236.8 316.4 L1238 315.9 L1239.2 315 L1240.4 314.7 L1241.6 313.9 L1242.8 313.1 L1244 313 L1245.2 312.2 L1246.4 311.6 L1247.6 311.3 L1248.8 310.3 L1250 309.8 L1251.2 309.4 L1252.4 308.7 L1253.6 308.2 L1254.8 307.8 L1256 307 L1257.2 306 L1258.4 305.5 L1259.6 305 L1260.8 304.1 L1262 303.5 L1263.2 302.7 L1264.4 301.9 L1265.6 302 L1266.8 300.9 L1268 300.1 L1269.2 299.8 L1270.4 299 L1271.6 298.3 L1272.8 297.8 L1274 297.3 L1275.2 296.4 L1276.4 295.3 L1277.6 294.6 L1278.8 294.3 L1280 293.4 L1281.2 292.5 L1282.4 292 L1283.6 290.8 L1284.8 290 L1286 289.4 L1287.2 288.9 L1288.4 288.4 L1289.6 287.1 L1290.8 286.1 L1292 285.3 L1293.2 284.5 L1294.4 284 L1295.6 283.5 L1296.8 282.5 L1298 281.9 L1299.2 281.4 L1300.4 281 L1301.6 280 L1302.8 279.1 L1304 278.3 L1305.2 278 L1306.4 276.9 L1307.6 275.6 L1308.8 275.3 L1310 274.8 L1311.2 274.3 L1312.4 273.9 L1313.6 273.4 L1314.8 272.4 L1316 271.5 L1317.2 271.1 L1318.4 270.6 L1319.6 270 L1320.8 269.5 L1322 268.8 L1323.2 268 L1324.4 267.6 L1325.6 267 L1326.8 266.4 L1328 265.6 L1329.2 265.4 L1330.4 265 L1331.6 264.3 L1332.8 263.4 L1334 262.3 L1335.2 261.7 L1336.4 261.5 L1337.6 261.2 L1338.8 260.7 L1340 260.1 L1341.2 259.6 L1342.4 259 L1343.6 258 L1344.8 257.2 L1346 256.7 L1347.2 256.2 L1348.4 255.4 L1349.6 255.2 L1350.8 254.7 L1352 254.2 L1353.2 253.5 L1354.4 253.1 L1355.6 252.8 L1356.8 252 L1358 251.4 L1359.2 250.8 L1360.4 250.1 L1361.6 250.1 L1362.8 249.5 L1364 248.7 L1365.2 248.4 L1366.4 247.6 L1367.6 247 L1368.8 246.7 L1370 246.4 L1371.2 245.9 L1372.4 245.1 L1373.6 244.2 L1374.8 243.3 L1376 243.3 L1377.2 243 L1378.4 241.8 L1379.6 241.7 L1380.8 241.3 L1382 240.7 L1383.2 240.5 L1384.4 239.9 L1385.6 239.4 L1386.8 238.7 L1388 237.8 L1389.2 237.4 L1390.4 237.1 L1391.6 236.6 L1392.8 236.2 L1394 235.6 L1395.2 234.5 L1396.4 234.3 L1397.6 234 L1398.8 233.5 L1400 233.3 L1401.2 232.6 L1402.4 231.8 L1403.6 231.2 L1404.8 230.7 L1406 230.3 L1407.2 229.7 L1408.4 229.2 L1409.6 228.4 L1410.8 227.8 L1412 227.7 L1413.2 227.4 L1414.4 226.5 L1415.6 225.7 L1416.8 225.9 L1418 225.3 L1419.2 224.4 L1420.4 224.4 L1421.6 224.4 L1422.8 223.7 L1424 222.6 L1425.2 222 L1426.4 221.5 L1427.6 221.1 L1428.8 220.5 L1430 220.3 L1431.2 219.9 L1432.4 219.4 L1433.6 218.9 L1434.8 218.1 L1436 217.8 L1437.2 217.6 L1438.4 217 L1439.6 216.5 L1440.8 216.2 L1442 215.7 L1443.2 215.2 L1444.4 214.8 L1445.6 214.6 L1446.8 213.9 L1448 213.2 L1449.2 212.6 L1450.4 212.1 L1451.6 211.9 L1452.8 211.6 L1454 211 L1455.2 210.5 L1456.4 210 L1457.6 209.6 L1458.8 209.2 L1460 208.8 L1461.2 208.7 L1462.4 208.1 L1463.6 207.8 L1464.8 207.6 L1466 207.2 L1467.2 206.7 L1468.4 206.2 L1469.6 206.1 L1470.8 205.7 L1472 205.1 L1473.2 204.4 L1474.4 203.8 L1475.6 203.2 L1476.8 202.9 L1478 202.5 L1479.2 202.1 L1480.4 201.6 L1481.6 201 L1482.8 201 L1484 200.8 L1485.2 200 L1486.4 199.4 L1487.6 199.7 L1488.8 199.4 L1490 198.4 L1491.2 197.3 L1492.4 196.6 L1493.6 196.8 L1494.8 196.5 L1496 196 L1497.2 195.7 L1498.4 195.2 L1499.6 194.8 L1500.8 194 L1502 193.9 L1503.2 193.8 L1504.4 192.8 L1505.6 192.6 L1506.8 192.3 L1508 191.8 L1509.2 191.1 L1510.4 190.5 L1511.6 190.2 L1512.8 189.5 L1514 188.8 L1515.2 188.4 L1516.4 187.7 L1517.6 187 L1518.8 186.4 L1520 186.1 L1521.2 185.9 L1522.4 185.4 L1523.6 184.9 L1524.8 184.1 L1526 183.2 L1527.2 182.7 L1528.4 182.6 L1529.6 182.3 L1530.8 182.4 L1532 181.9 L1533.2 180.8 L1534.4 179.9 L1535.6 179.6 L1536.8 179.3 L1538 179.1 L1539.2 178.8 L1540.4 178.1 L1541.6 177.7 L1542.8 177.4 L1544 176.8 L1545.2 176.2 L1546.4 175.8 L1547.6 175.2 L1548.8 174.8 L1550 174.4 L1551.2 174 L1552.4 173.9 L1553.6 173.6 L1554.8 172.9 L1556 172.2 L1557.2 171.9 L1558.4 171.6 L1559.6 171.3 L1560.8 170.7 L1562 170.6 L1563.2 170.5 L1564.4 169.9 L1565.6 169.2 L1566.8 168.7 L1568 168.3 L1569.2 167.9 L1570.4 167.1 L1571.6 166.6 L1572.8 166.2 L1574 166 L1575.2 166 L1576.4 165.4 L1577.6 164.9 L1578.8 164.6 L1580 164 L1581.2 164.1 L1582.4 163.9 L1583.6 163.2 L1584.8 162.6 L1586 162 L1587.2 161.6 L1588.4 161.2 L1589.6 160.7 L1590.8 160.2 L1592 159.9 L1593.2 159.3 L1594.4 159.3 L1595.6 159.3 L1596.8 158.5 L1598 157.7 L1599.2 157.3 L1600.4 157 L1601.6 156.6 L1602.8 156.1 L1604 155.6 L1605.2 155.4 L1606.4 155.2 L1607.6 154.3 L1608.8 153.8 L1610 153.6 L1611.2 153.1 L1612.4 152.8 L1613.6 152.4 L1614.8 152.2 L1616 152.1 L1617.2 151.4 L1618.4 150.8 L1619.6 150.7 L1620.8 150.7 L1622 150.1 L1623.2 149.3 L1624.4 148.9 L1625.6 148.7 L1626.8 148.1 L1628 147.8 L1629.2 147.3 L1630.4 146.7 L1631.6 146.3 L1632.8 145.7 L1634 145.4 L1635.2 145 L1636.4 144.8 L1637.6 144.2 L1638.8 143.4 L1640 143.3 L1641.2 142.7 L1642.4 142.4 L1643.6 141.7 L1644.8 141.2 L1646 140.9 L1647.2 140.1 L1648.4 140 L1649.6 139.4 L1650.8 138.4 L1652 137.8 L1653.2 137.7 L1654.4 137.4 L1655.6 137.2 L1656.8 137.1 L1658 136.9 L1659.2 136.4 L1660.4 136.2 L1661.6 135.8 L1662.8 135.5 L1664 135.6 L1665.2 135.1 L1666.4 135.3 L1667.6 135.4 L1668.8 135.2 L1670 135 L1671.2 134.4 L1672.4 134.6 L1673.6 134.7 L1674.8 134.6 L1676 134.7 L1677.2 134.5 L1678.4 134.4 L1679.6 134.7 L1680.8 134.9 L1682 134.5 M1682 134V150" stroke="#515151" stroke-width="4.2"/>
<path d="M1022 554 L1022.2 546.3 L1022.4 538.8 L1022.6 531.8 L1022.8 525.5 L1023 520 L1023.2 515.1 L1023.4 510.3 L1023.6 505.6 L1023.8 501.3 L1024 497.2 L1024.2 493.4 L1024.4 490 L1024.6 487 L1024.8 484.5 L1025 482.5 L1025.2 480.8 L1025.4 479.3 L1025.6 477.8 L1025.8 476.5 L1026 475.2 L1026.2 474 L1026.4 472.9 L1026.6 471.8 L1026.8 470.8 L1027 469.9 L1027.2 469.1 L1027.4 468.1 L1027.6 467.3 L1027.8 466.5 L1028 465.8 L1028.2 465 L1028.4 464.2 L1028.6 463.5 L1028.8 462.7 L1029 461.9 L1029.2 461 L1029.4 460.2 L1029.6 459.3 L1029.8 458.4 L1030 457.6 L1030.2 456.7 L1030.4 455.6 L1030.6 454.5 L1030.8 453.7 L1031 452.7 L1031.2 451.6 L1031.4 450.5 L1031.6 449.4 L1031.8 448.3 L1032 447.3 L1032.2 446.3 L1032.4 445.3 L1032.6 444.4 L1032.8 443.3 L1033 442.2 L1033.2 441 L1033.4 440 L1033.6 439.3 L1033.8 438.4 L1034 437.1 L1035.2 431.2 L1036.4 426 L1037.6 420.8 L1038.8 415.9 L1040 412.6 L1041.2 410.4 L1042.4 408.2 L1043.6 406.2 L1044.8 405.2 L1046 404 L1047.2 402.4 L1048.4 401.5 L1049.6 400.9 L1050.8 399.9 L1052 399.1 L1053.2 398.9 L1054.4 398.1 L1055.6 397.4 L1056.8 396.5 L1058 395.9 L1059.2 395.4 L1060.4 394.2 L1061.6 393.5 L1062.8 393.1 L1064 392.3 L1065.2 391.1 L1066.4 390.2 L1067.6 389.3 L1068.8 389 L1070 388.9 L1071.2 388.1 L1072.4 386.7 L1073.6 385.7 L1074.8 384.7 L1076 383.4 L1077.2 382.5 L1078.4 382 L1079.6 381.3 L1080.8 379.9 L1082 378.9 L1083.2 378.2 L1084.4 377.5 L1085.6 376.7 L1086.8 376.2 L1088 375.9 L1089.2 374.9 L1090.4 374.1 L1091.6 373.6 L1092.8 372.9 L1094 372.7 L1095.2 372.3 L1096.4 371.4 L1097.6 370.8 L1098.8 370.4 L1100 370.1 L1101.2 369.5 L1102.4 368.9 L1103.6 368.3 L1104.8 367.6 L1106 367 L1107.2 366.3 L1108.4 365.8 L1109.6 365.7 L1110.8 365 L1112 364 L1113.2 363.6 L1114.4 362.9 L1115.6 362.5 L1116.8 362.2 L1118 360.9 L1119.2 359.9 L1120.4 359.6 L1121.6 359.3 L1122.8 359.2 L1124 358.2 L1125.2 357.3 L1126.4 356.9 L1127.6 356.6 L1128.8 356.2 L1130 355.9 L1131.2 355.4 L1132.4 355 L1133.6 354.9 L1134.8 354.1 L1136 353.6 L1137.2 353 L1138.4 352.8 L1139.6 352.8 L1140.8 352.7 L1142 351.9 L1143.2 351.3 L1144.4 351.2 L1145.6 351.2 L1146.8 350.9 L1148 350.3 L1149.2 349.7 L1150.4 349.4 L1151.6 349.5 L1152.8 349 L1154 349 L1155.2 348.7 L1156.4 348.3 L1157.6 348.2 L1158.8 347.6 L1160 347.3 L1161.2 346.9 L1162.4 347 L1163.6 346.8 L1164.8 346.3 L1166 346.4 L1167.2 346.4 L1168.4 346 L1169.6 345.7 L1170.8 346 L1172 345.7 L1173.2 345.2 L1174.4 345.1 L1175.6 344.4 L1176.8 343.6 L1178 343.7 L1179.2 344.2 L1180.4 343.8 L1181.6 343.1 L1182.8 342.6 L1184 342.6 L1185.2 342.4 L1186.4 341.6 L1187.6 341.5 L1188.8 341.6 L1190 341.3 L1191.2 341.4 L1192.4 341.3 L1193.6 340.9 L1194.8 340.3 L1196 339.3 L1197.2 339.3 L1198.4 339.4 L1199.6 339.2 L1200.8 339.2 L1202 338.7 L1203.2 338.4 L1204.4 338 L1205.6 337.1 L1206.8 336.6 L1208 336.3 L1209.2 336.3 L1210.4 336.3 L1211.6 335.8 L1212.8 335.5 L1214 335.9 L1215.2 335.1 L1216.4 334.3 L1217.6 334.3 L1218.8 334.4 L1220 334.5 L1221.2 334.3 L1222.4 333.4 L1223.6 332.6 L1224.8 332.3 L1226 332.1 L1227.2 332 L1228.4 331.5 L1229.6 331.5 L1230.8 331.2 L1232 330.7 L1233.2 330.5 L1234.4 329.9 L1235.6 329.6 L1236.8 329.6 L1238 329.1 L1239.2 329 L1240.4 328.7 L1241.6 328.6 L1242.8 328.7 L1244 327.6 L1245.2 326.5 L1246.4 326.7 L1247.6 327.1 L1248.8 326.6 L1250 326 L1251.2 325.4 L1252.4 324.8 L1253.6 325.6 L1254.8 326.2 L1256 325.3 L1257.2 325 L1258.4 324.4 L1259.6 323.9 L1260.8 324.2 L1262 323.5 L1263.2 322.9 L1264.4 322.7 L1265.6 322.7 L1266.8 323.3 L1268 323.1 L1269.2 322.8 L1270.4 322.6 L1271.6 322.1 L1272.8 321.9 L1274 322.1 L1275.2 321.3 L1276.4 321.1 L1277.6 321.2 L1278.8 321.1 L1280 321.1 L1281.2 320.3 L1282.4 320.3 L1283.6 321 L1284.8 320.2 L1286 319.9 L1287.2 320.3 L1288.4 319.9 L1289.6 319.8 L1290.8 318.8 L1292 318.2 L1293.2 318 L1294.4 317.8 L1295.6 317.4 L1296.8 316.2 L1298 316.2 L1299.2 316.3 L1300.4 315.5 L1301.6 315 L1302.8 314.8 L1304 314.6 L1305.2 314.1 L1306.4 313.3 L1307.6 313 L1308.8 312.9 L1310 312.7 L1311.2 312 L1312.4 311.9 L1313.6 311.6 L1314.8 311.2 L1316 311.1 L1317.2 310.8 L1318.4 310.9 L1319.6 311 L1320.8 310.5 L1322 310.1 L1323.2 309.5 L1324.4 309.2 L1325.6 309.1 L1326.8 308.4 L1328 308.2 L1329.2 307.6 L1330.4 307.1 L1331.6 307.1 L1332.8 307 L1334 306.8 L1335.2 306.1 L1336.4 305.6 L1337.6 305.4 L1338.8 305.1 L1340 304.5 L1341.2 304.5 L1342.4 304.5 L1343.6 304 L1344.8 303.2 L1346 303.1 L1347.2 303.5 L1348.4 303 L1349.6 302.5 L1350.8 301.8 L1352 301.9 L1353.2 301.8 L1354.4 301.5 L1355.6 301.3 L1356.8 300.8 L1358 300.6 L1359.2 299.9 L1360.4 300.4 L1361.6 300 L1362.8 299.2 L1364 299.1 L1365.2 298.8 L1366.4 299 L1367.6 298.3 L1368.8 297.7 L1370 298 L1371.2 297.9 L1372.4 297.6 L1373.6 297.1 L1374.8 296.4 L1376 296.1 L1377.2 296 L1378.4 296.4 L1379.6 296.2 L1380.8 296.1 L1382 295.9 L1383.2 295.3 L1384.4 295.1 L1385.6 294.4 L1386.8 294.3 L1388 294.1 L1389.2 293.6 L1390.4 294 L1391.6 293.7 L1392.8 292.9 L1394 293.1 L1395.2 292.9 L1396.4 292.5 L1397.6 292.1 L1398.8 292.2 L1400 291.5 L1401.2 290.6 L1402.4 291.3 L1403.6 291.5 L1404.8 290.7 L1406 290.2 L1407.2 290 L1408.4 290.6 L1409.6 290.3 L1410.8 289.2 L1412 288.8 L1413.2 288.7 L1414.4 288.7 L1415.6 288.7 L1416.8 288.3 L1418 287.9 L1419.2 287.9 L1420.4 287.6 L1421.6 286.9 L1422.8 286.1 L1424 286 L1425.2 286 L1426.4 285.8 L1427.6 286 L1428.8 285.8 L1430 284.7 L1431.2 284.8 L1432.4 284.7 L1433.6 284.2 L1434.8 284.1 L1436 283.5 L1437.2 283.6 L1438.4 283.5 L1439.6 283.2 L1440.8 282.8 L1442 281.9 L1443.2 281.5 L1444.4 281.4 L1445.6 281.3 L1446.8 281 L1448 280.8 L1449.2 280 L1450.4 279.7 L1451.6 279.3 L1452.8 278.7 L1454 279.1 L1455.2 279.1 L1456.4 278 L1457.6 277.7 L1458.8 277.7 L1460 277.2 L1461.2 276.9 L1462.4 276.4 L1463.6 275.7 L1464.8 275.1 L1466 275 L1467.2 274.5 L1468.4 274 L1469.6 274 L1470.8 273.9 L1472 273.7 L1473.2 274.1 L1474.4 273.4 L1475.6 273 L1476.8 272.8 L1478 272 L1479.2 272 L1480.4 272.2 L1481.6 271.8 L1482.8 271.3 L1484 271.1 L1485.2 270.8 L1486.4 270.7 L1487.6 270.6 L1488.8 270.3 L1490 270.5 L1491.2 270.2 L1492.4 270.2 L1493.6 269.9 L1494.8 269.3 L1496 269.6 L1497.2 269.9 L1498.4 269.3 L1499.6 268.8 L1500.8 268.8 L1502 268.2 L1503.2 268.1 L1504.4 267.9 L1505.6 268 L1506.8 267.2 L1508 266.9 L1509.2 267.1 L1510.4 266.6 L1511.6 266.2 L1512.8 266.1 L1514 265.6 L1515.2 265.2 L1516.4 265.5 L1517.6 265.3 L1518.8 264.8 L1520 264.2 L1521.2 264 L1522.4 264.4 L1523.6 264.3 L1524.8 264.1 L1526 263.6 L1527.2 263.5 L1528.4 263.3 L1529.6 263.2 L1530.8 263.3 L1532 262.5 L1533.2 262.7 L1534.4 262.5 L1535.6 262.2 L1536.8 262.2 L1538 261.8 L1539.2 261.8 L1540.4 261.7 L1541.6 261.3 L1542.8 261.1 L1544 260.9 L1545.2 260.8 L1546.4 260.5 L1547.6 260 L1548.8 259.4 L1550 259.2 L1551.2 259.6 L1552.4 259.6 L1553.6 259.5 L1554.8 259.3 L1556 259.4 L1557.2 258.9 L1558.4 258 L1559.6 258 L1560.8 257.9 L1562 257.4 L1563.2 257.7 L1564.4 257.9 L1565.6 257.7 L1566.8 257.2 L1568 256.8 L1569.2 257.3 L1570.4 256.7 L1571.6 256.3 L1572.8 256.6 L1574 255.9 L1575.2 255.9 L1576.4 256.3 L1577.6 255.8 L1578.8 256.1 L1580 255.4 L1581.2 255 L1582.4 255.1 L1583.6 255 L1584.8 254.8 L1586 255.1 L1587.2 254.8 L1588.4 254.4 L1589.6 254.7 L1590.8 254.5 L1592 254.1 L1593.2 253.9 L1594.4 254.1 L1595.6 254.2 L1596.8 253.8 L1598 253.3 L1599.2 253.2 L1600.4 253.4 L1601.6 253.1 L1602.8 253.2 L1604 252.6 L1605.2 252.7 L1606.4 253 L1607.6 252 L1608.8 251.4 L1610 251.6 L1611.2 252.1 L1612.4 251.7 L1613.6 251.3 L1614.8 251.3 L1616 251.1 L1617.2 251.2 L1618.4 251.3 L1619.6 250.8 L1620.8 250.1 L1622 250.3 L1623.2 250.6 L1624.4 249.8 L1625.6 250.3 L1626.8 250.5 L1628 249.5 L1629.2 248.7 L1630.4 249 L1631.6 249 L1632.8 248.8 L1634 249.8 L1635.2 250.4 L1636.4 249.7 L1637.6 249 L1638.8 249.1 L1640 248.7 L1641.2 247.9 L1642.4 248.2 L1643.6 248.4 L1644.8 248 L1646 248 L1647.2 247.5 L1648.4 247.4 L1649.6 247.5 L1650.8 246.9 L1652 246.7 L1653.2 246.8 L1654.4 246.9 L1655.6 246.5 L1656.8 246.2 L1658 246 L1659.2 245.5 L1660.4 245.5 L1661.6 245.8 L1662.8 246 L1664 245.9 L1665.2 245.4 L1666.4 244.7 L1667.6 244.7 L1668.8 244.8 L1670 244.7 L1671.2 244.2 L1672.4 243.8 L1673.6 244.3 L1674.8 244.7 L1676 244.1 L1677.2 244 L1678.4 244.1 L1679.6 243.9 L1680.8 244.2 L1682 244 L1682 278.3 L1680.8 278.4 L1679.6 279.3 L1678.4 279.4 L1677.2 279.3 L1676 279.9 L1674.8 279.7 L1673.6 279.2 L1672.4 279.4 L1671.2 280.3 L1670 280.5 L1668.8 280.6 L1667.6 280.9 L1666.4 280.5 L1665.2 280.4 L1664 280.4 L1662.8 280.6 L1661.6 281 L1660.4 280.9 L1659.2 281.2 L1658 281.6 L1656.8 281.9 L1655.6 282 L1654.4 281.9 L1653.2 282.3 L1652 282.6 L1650.8 282.2 L1649.6 282.5 L1648.4 282.6 L1647.2 282.9 L1646 283.6 L1644.8 283.6 L1643.6 283.4 L1642.4 283.9 L1641.2 284.3 L1640 284.6 L1638.8 285.3 L1637.6 285.5 L1636.4 285.6 L1635.2 285.6 L1634 285.5 L1632.8 286 L1631.6 286.7 L1630.4 286.6 L1629.2 286.9 L1628 286.9 L1626.8 286.8 L1625.6 287.1 L1624.4 287.5 L1623.2 288.2 L1622 288 L1620.8 287.7 L1619.6 288.2 L1618.4 288.7 L1617.2 288.4 L1616 288 L1614.8 288.3 L1613.6 289.3 L1612.4 289 L1611.2 288.4 L1610 289.5 L1608.8 289.9 L1607.6 289.5 L1606.4 289.5 L1605.2 290.1 L1604 290.7 L1602.8 291.1 L1601.6 291.1 L1600.4 291.2 L1599.2 291.8 L1598 291.8 L1596.8 291.4 L1595.6 291.8 L1594.4 292.4 L1593.2 291.9 L1592 292.4 L1590.8 293.1 L1589.6 293.2 L1588.4 293.5 L1587.2 293.9 L1586 293.8 L1584.8 293.3 L1583.6 293.4 L1582.4 294.3 L1581.2 294.4 L1580 294.1 L1578.8 294.3 L1577.6 294 L1576.4 294.9 L1575.2 295.4 L1574 294.9 L1572.8 295.1 L1571.6 295.5 L1570.4 295.6 L1569.2 295.5 L1568 295.9 L1566.8 296.4 L1565.6 296.7 L1564.4 296.5 L1563.2 296.7 L1562 297 L1560.8 296.7 L1559.6 296.6 L1558.4 297.7 L1557.2 297.8 L1556 297.5 L1554.8 297.8 L1553.6 297.9 L1552.4 298.1 L1551.2 298.3 L1550 298.6 L1548.8 299.2 L1547.6 299.2 L1546.4 299.5 L1545.2 299.7 L1544 299.4 L1542.8 299.6 L1541.6 299.9 L1540.4 299.9 L1539.2 299.8 L1538 300.3 L1536.8 300.8 L1535.6 300.5 L1534.4 301 L1533.2 301.4 L1532 301.6 L1530.8 302.5 L1529.6 302.3 L1528.4 301.2 L1527.2 301.4 L1526 302.1 L1524.8 302.2 L1523.6 302.3 L1522.4 302.7 L1521.2 302.8 L1520 303.3 L1518.8 303.2 L1517.6 302.6 L1516.4 302.5 L1515.2 302.8 L1514 303.4 L1512.8 303.3 L1511.6 303.7 L1510.4 304.3 L1509.2 304.2 L1508 304.2 L1506.8 304.2 L1505.6 304.1 L1504.4 304.3 L1503.2 304.5 L1502 304.7 L1500.8 305.2 L1499.6 305.8 L1498.4 305.7 L1497.2 305.4 L1496 305.7 L1494.8 306.1 L1493.6 306.2 L1492.4 306.3 L1491.2 306.4 L1490 306.4 L1488.8 306.8 L1487.6 306.4 L1486.4 306.7 L1485.2 307.2 L1484 307.3 L1482.8 307.4 L1481.6 307.2 L1480.4 307.1 L1479.2 307.5 L1478 307.8 L1476.8 308.2 L1475.6 308.2 L1474.4 307.9 L1473.2 308.4 L1472 308.6 L1470.8 308 L1469.6 308.1 L1468.4 308.4 L1467.2 308.8 L1466 309.5 L1464.8 309.8 L1463.6 309.3 L1462.4 309.4 L1461.2 309.6 L1460 309.7 L1458.8 309.5 L1457.6 309.8 L1456.4 310.3 L1455.2 310.5 L1454 309.9 L1452.8 309.8 L1451.6 310.3 L1450.4 310.2 L1449.2 310.7 L1448 311.2 L1446.8 311.2 L1445.6 310.9 L1444.4 311.2 L1443.2 311.2 L1442 311.2 L1440.8 311.2 L1439.6 310.9 L1438.4 311 L1437.2 311.3 L1436 311.3 L1434.8 310.8 L1433.6 311.1 L1432.4 311.7 L1431.2 311.8 L1430 311.8 L1428.8 311.8 L1427.6 311.9 L1426.4 312.4 L1425.2 312.6 L1424 312.5 L1422.8 312.5 L1421.6 312.6 L1420.4 312.9 L1419.2 313.3 L1418 313.8 L1416.8 314 L1415.6 314.3 L1414.4 314.2 L1413.2 314.2 L1412 314.3 L1410.8 314.2 L1409.6 314.3 L1408.4 314.5 L1407.2 314.8 L1406 315.1 L1404.8 315.1 L1403.6 314.9 L1402.4 315 L1401.2 315.4 L1400 315.8 L1398.8 316.8 L1397.6 316.2 L1396.4 316.2 L1395.2 317.1 L1394 316.8 L1392.8 316.9 L1391.6 317.6 L1390.4 317.6 L1389.2 317.4 L1388 317.4 L1386.8 317.4 L1385.6 317.5 L1384.4 318.1 L1383.2 318.1 L1382 318.4 L1380.8 318.3 L1379.6 318 L1378.4 318 L1377.2 318.6 L1376 319.4 L1374.8 319.2 L1373.6 319.2 L1372.4 319.6 L1371.2 319.8 L1370 320.2 L1368.8 320.5 L1367.6 320.7 L1366.4 321.3 L1365.2 321.4 L1364 321.6 L1362.8 322 L1361.6 322.2 L1360.4 322 L1359.2 322.4 L1358 322.6 L1356.8 322.4 L1355.6 322.3 L1354.4 322.3 L1353.2 323.3 L1352 324.1 L1350.8 324 L1349.6 324.1 L1348.4 324.3 L1347.2 324.5 L1346 325.4 L1344.8 325.2 L1343.6 325.4 L1342.4 325.5 L1341.2 325.5 L1340 325.8 L1338.8 325.9 L1337.6 325.9 L1336.4 326.1 L1335.2 326.1 L1334 326.4 L1332.8 326.8 L1331.6 327 L1330.4 327.4 L1329.2 327.6 L1328 327.8 L1326.8 327.7 L1325.6 327.3 L1324.4 327.6 L1323.2 328.6 L1322 328.6 L1320.8 328.6 L1319.6 329.1 L1318.4 329.1 L1317.2 329 L1316 329.3 L1314.8 329.3 L1313.6 329.8 L1312.4 330.3 L1311.2 330.4 L1310 330.1 L1308.8 330.5 L1307.6 331.1 L1306.4 331.2 L1305.2 331.9 L1304 332.4 L1302.8 332.1 L1301.6 332.3 L1300.4 332.6 L1299.2 332.7 L1298 333.5 L1296.8 333.7 L1295.6 333.6 L1294.4 334 L1293.2 334 L1292 334.3 L1290.8 334.6 L1289.6 334.8 L1288.4 335 L1287.2 335.3 L1286 335.9 L1284.8 336.6 L1283.6 336.5 L1282.4 336.6 L1281.2 337.4 L1280 337.7 L1278.8 338 L1277.6 338.5 L1276.4 338.8 L1275.2 338.8 L1274 339.2 L1272.8 339.6 L1271.6 339.9 L1270.4 340.5 L1269.2 341.1 L1268 341.6 L1266.8 341.6 L1265.6 341.8 L1264.4 342.5 L1263.2 342.7 L1262 342.5 L1260.8 343.2 L1259.6 344.1 L1258.4 344.6 L1257.2 344 L1256 344.1 L1254.8 344.5 L1253.6 344.7 L1252.4 345 L1251.2 345.3 L1250 346.2 L1248.8 346.7 L1247.6 347.1 L1246.4 347.1 L1245.2 347.1 L1244 347.8 L1242.8 348.4 L1241.6 348.2 L1240.4 348.7 L1239.2 349.3 L1238 349.6 L1236.8 349.8 L1235.6 349.9 L1234.4 350.5 L1233.2 350.6 L1232 350.5 L1230.8 350.7 L1229.6 351.5 L1228.4 352 L1227.2 351.9 L1226 352.3 L1224.8 352.6 L1223.6 352.8 L1222.4 353 L1221.2 353.4 L1220 353.8 L1218.8 354.1 L1217.6 354.5 L1216.4 354.3 L1215.2 354.5 L1214 355.1 L1212.8 355.3 L1211.6 355.4 L1210.4 355.7 L1209.2 356.2 L1208 357 L1206.8 357.1 L1205.6 357.3 L1204.4 357.8 L1203.2 358.4 L1202 358.8 L1200.8 358.8 L1199.6 358.9 L1198.4 359.1 L1197.2 359.1 L1196 359.6 L1194.8 360.5 L1193.6 361.1 L1192.4 361.4 L1191.2 361.2 L1190 361.4 L1188.8 361.6 L1187.6 361.8 L1186.4 362.5 L1185.2 362.4 L1184 362.3 L1182.8 362.5 L1181.6 363.1 L1180.4 364.1 L1179.2 364.6 L1178 364.5 L1176.8 364.9 L1175.6 365.3 L1174.4 365.9 L1173.2 366.3 L1172 366.6 L1170.8 366.9 L1169.6 366.8 L1168.4 367.5 L1167.2 367.9 L1166 368.3 L1164.8 369.3 L1163.6 368.7 L1162.4 368.7 L1161.2 369.6 L1160 369.8 L1158.8 370.2 L1157.6 370.8 L1156.4 371.4 L1155.2 371.6 L1154 372.3 L1152.8 373.1 L1151.6 373.2 L1150.4 373 L1149.2 373.7 L1148 374.9 L1146.8 375.5 L1145.6 376.3 L1144.4 376.2 L1143.2 376 L1142 376.8 L1140.8 377.5 L1139.6 378.4 L1138.4 379 L1137.2 379.8 L1136 379.7 L1134.8 380.4 L1133.6 381.3 L1132.4 381.5 L1131.2 381.8 L1130 382.3 L1128.8 383.2 L1127.6 383.7 L1126.4 383.9 L1125.2 384 L1124 384 L1122.8 384.5 L1121.6 385.5 L1120.4 385.6 L1119.2 386.1 L1118 386.8 L1116.8 387 L1115.6 388.2 L1114.4 389 L1113.2 388.8 L1112 389.3 L1110.8 389.7 L1109.6 390.2 L1108.4 390.3 L1107.2 390.6 L1106 392.1 L1104.8 393.2 L1103.6 393.1 L1102.4 393.5 L1101.2 393.9 L1100 394.4 L1098.8 395.1 L1097.6 395.6 L1096.4 395.9 L1095.2 396.2 L1094 397.5 L1092.8 398.6 L1091.6 398.8 L1090.4 399.2 L1089.2 399.9 L1088 400.7 L1086.8 401.4 L1085.6 402 L1084.4 403 L1083.2 404.6 L1082 405.4 L1080.8 405.8 L1079.6 407 L1078.4 408.5 L1077.2 409.2 L1076 410.3 L1074.8 411.6 L1073.6 412.5 L1072.4 414 L1071.2 415.7 L1070 417.4 L1068.8 418.4 L1067.6 419.7 L1066.4 421.7 L1065.2 423.3 L1064 425.1 L1062.8 428 L1061.6 430.9 L1060.4 433.2 L1059.2 437.1 L1058 441.2 L1056.8 444 L1055.6 447.3 L1054.4 451.4 L1053.2 455.4 L1052 459 L1050.8 462.6 L1049.6 466.5 L1048.4 470.8 L1047.2 475 L1046 479.5 L1044.8 483.8 L1043.6 487.5 L1042.4 491.4 L1041.2 495.8 L1040 500.1 L1038.8 504.2 L1037.6 508.4 L1036.4 512.4 L1035.2 516.3 L1034 520 L1033.8 520.4 L1033.6 520.9 L1033.4 521.9 L1033.2 522.5 L1033 522.9 L1032.8 523.6 L1032.6 524.2 L1032.4 524.8 L1032.2 525.4 L1032 526 L1031.8 526.5 L1031.6 527.1 L1031.4 527.9 L1031.2 528.5 L1031 528.9 L1030.8 529.5 L1030.6 530.2 L1030.4 530.8 L1030.2 531.3 L1030 532 L1029.8 532.6 L1029.6 533.2 L1029.4 533.8 L1029.2 534.3 L1029 534.9 L1028.8 535.6 L1028.6 536.1 L1028.4 536.7 L1028.2 537.3 L1028 537.9 L1027.8 538.5 L1027.6 539 L1027.4 539.6 L1027.2 540.1 L1027 540.7 L1026.8 541.3 L1026.6 541.8 L1026.4 542.4 L1026.2 542.9 L1026 543.5 L1025.8 544 L1025.6 544.6 L1025.4 545.1 L1025.2 545.7 L1025 546.2 L1024.8 546.7 L1024.6 547.3 L1024.4 547.8 L1024.2 548.3 L1024 548.9 L1023.8 549.4 L1023.6 549.9 L1023.4 550.4 L1023.2 550.9 L1023 551.5 L1022.8 552 L1022.6 552.5 L1022.4 553 L1022.2 553.5 L1022 554Z" fill="#F8A0A0" fill-opacity="0.5" stroke="none"/>
<path d="M1022 554 L1022.2 552.7 L1022.4 551.3 L1022.6 549.9 L1022.8 548.6 L1023 547.2 L1023.2 545.8 L1023.4 544.4 L1023.6 543 L1023.8 541.6 L1024 540.2 L1024.2 538.8 L1024.4 537.3 L1024.6 535.9 L1024.8 534.4 L1025 533 L1025.2 531.5 L1025.4 530 L1025.6 528.4 L1025.8 526.8 L1026 525.2 L1026.2 523.5 L1026.4 521.9 L1026.6 520.2 L1026.8 518.5 L1027 516.8 L1027.2 515.1 L1027.4 513.4 L1027.6 511.7 L1027.8 510.1 L1028 508.5 L1028.2 506.8 L1028.4 505.2 L1028.6 503.7 L1028.8 502.2 L1029 500.8 L1029.2 499.3 L1029.4 497.9 L1029.6 496.7 L1029.8 495.4 L1030 494.2 L1030.2 493.1 L1030.4 492.1 L1030.6 491 L1030.8 489.9 L1031 489 L1031.2 487.9 L1031.4 486.9 L1031.6 486.1 L1031.8 485.2 L1032 484.3 L1032.2 483.6 L1032.4 482.7 L1032.6 481.7 L1032.8 480.7 L1033 479.8 L1033.2 479.2 L1033.4 478.3 L1033.6 477.3 L1033.8 476.6 L1034 476 L1035.2 471.7 L1036.4 467.4 L1037.6 463.6 L1038.8 460.1 L1040 457.1 L1041.2 454.3 L1042.4 451.4 L1043.6 448.8 L1044.8 446 L1046 443.9 L1047.2 441.4 L1048.4 439 L1049.6 436.8 L1050.8 434.1 L1052 431.7 L1053.2 429.9 L1054.4 427.9 L1055.6 425.6 L1056.8 423.2 L1058 421.5 L1059.2 419.8 L1060.4 417.6 L1061.6 415.7 L1062.8 413.4 L1064 411.4 L1065.2 410.5 L1066.4 409 L1067.6 407.3 L1068.8 405.9 L1070 404.6 L1071.2 403.1 L1072.4 401.8 L1073.6 400.9 L1074.8 399.9 L1076 398.7 L1077.2 398.1 L1078.4 397.2 L1079.6 396.1 L1080.8 395 L1082 394 L1083.2 393.7 L1084.4 393 L1085.6 392.1 L1086.8 391.3 L1088 390.6 L1089.2 390.2 L1090.4 389.6 L1091.6 388.5 L1092.8 388.4 L1094 388.5 L1095.2 387.6 L1096.4 387.1 L1097.6 386.2 L1098.8 385.6 L1100 385.3 L1101.2 384.5 L1102.4 383.8 L1103.6 382.9 L1104.8 382.5 L1106 382.2 L1107.2 381.5 L1108.4 380.8 L1109.6 380.1 L1110.8 379.8 L1112 379.3 L1113.2 378.6 L1114.4 377.8 L1115.6 377.1 L1116.8 376.4 L1118 375.9 L1119.2 375.4 L1120.4 375.1 L1121.6 374.6 L1122.8 374 L1124 373.2 L1125.2 372.8 L1126.4 372.6 L1127.6 371.9 L1128.8 371.1 L1130 371.3 L1131.2 371.2 L1132.4 370.2 L1133.6 369.9 L1134.8 370 L1136 369.5 L1137.2 368.4 L1138.4 367.7 L1139.6 367.5 L1140.8 366.9 L1142 366.3 L1143.2 366.1 L1144.4 365.8 L1145.6 365.1 L1146.8 365 L1148 364.6 L1149.2 364.1 L1150.4 363.4 L1151.6 362.8 L1152.8 362.6 L1154 361.6 L1155.2 361.5 L1156.4 361.4 L1157.6 360.8 L1158.8 360.4 L1160 359.8 L1161.2 359.3 L1162.4 358.8 L1163.6 358.7 L1164.8 358.9 L1166 358.5 L1167.2 357.6 L1168.4 357.5 L1169.6 357.3 L1170.8 356.5 L1172 355.9 L1173.2 356 L1174.4 356.4 L1175.6 356.1 L1176.8 355.5 L1178 355.3 L1179.2 355 L1180.4 354.6 L1181.6 354.6 L1182.8 354.4 L1184 354.3 L1185.2 354.1 L1186.4 353.9 L1187.6 353.9 L1188.8 353.5 L1190 353.2 L1191.2 352.9 L1192.4 352.9 L1193.6 352.7 L1194.8 352.3 L1196 352.4 L1197.2 351.9 L1198.4 351.6 L1199.6 350.9 L1200.8 350.4 L1202 350.7 L1203.2 350.5 L1204.4 350.3 L1205.6 350 L1206.8 349.6 L1208 349.6 L1209.2 349.4 L1210.4 348.7 L1211.6 348.6 L1212.8 348.6 L1214 348 L1215.2 347.8 L1216.4 347.4 L1217.6 346.9 L1218.8 346.9 L1220 346.7 L1221.2 346.5 L1222.4 346 L1223.6 346 L1224.8 346 L1226 345.5 L1227.2 345 L1228.4 344.3 L1229.6 344.1 L1230.8 344.1 L1232 343.6 L1233.2 343.2 L1234.4 342.9 L1235.6 342.6 L1236.8 342.1 L1238 342.2 L1239.2 342.1 L1240.4 341.1 L1241.6 340.4 L1242.8 340.3 L1244 340.1 L1245.2 339.8 L1246.4 339.3 L1247.6 338.3 L1248.8 338 L1250 337.9 L1251.2 337.7 L1252.4 337.5 L1253.6 337.2 L1254.8 336.7 L1256 336.1 L1257.2 335.9 L1258.4 335.5 L1259.6 335 L1260.8 334.7 L1262 334.7 L1263.2 334.7 L1264.4 334.4 L1265.6 333.6 L1266.8 333.3 L1268 333.2 L1269.2 332.8 L1270.4 332.9 L1271.6 332.4 L1272.8 331.8 L1274 331.6 L1275.2 332 L1276.4 332 L1277.6 331.4 L1278.8 330.9 L1280 330.9 L1281.2 330.6 L1282.4 330.2 L1283.6 330.1 L1284.8 329.8 L1286 329.4 L1287.2 328.9 L1288.4 328.5 L1289.6 328.5 L1290.8 328.4 L1292 327.5 L1293.2 327.2 L1294.4 327.4 L1295.6 327 L1296.8 326.8 L1298 326.9 L1299.2 326.5 L1300.4 325.9 L1301.6 325.6 L1302.8 325.3 L1304 325 L1305.2 324.8 L1306.4 324 L1307.6 323.4 L1308.8 323.5 L1310 323.5 L1311.2 322.8 L1312.4 322.3 L1313.6 322.4 L1314.8 321.9 L1316 321.3 L1317.2 321.3 L1318.4 321.3 L1319.6 320.7 L1320.8 320.1 L1322 320 L1323.2 320.1 L1324.4 319.7 L1325.6 318.8 L1326.8 318.7 L1328 318.9 L1329.2 318.2 L1330.4 317.7 L1331.6 317.8 L1332.8 317.8 L1334 317.3 L1335.2 317.1 L1336.4 316.8 L1337.6 316.7 L1338.8 316.6 L1340 316 L1341.2 315.3 L1342.4 315.2 L1343.6 315.2 L1344.8 314.9 L1346 313.9 L1347.2 313.7 L1348.4 313.6 L1349.6 313.2 L1350.8 313.1 L1352 312.6 L1353.2 312 L1354.4 312.4 L1355.6 312.4 L1356.8 311.5 L1358 311.4 L1359.2 311.6 L1360.4 311 L1361.6 310.4 L1362.8 310.4 L1364 310.1 L1365.2 309.9 L1366.4 309.6 L1367.6 309.3 L1368.8 309.2 L1370 309.2 L1371.2 309.1 L1372.4 308.7 L1373.6 308.4 L1374.8 307.9 L1376 308.2 L1377.2 308.4 L1378.4 307.9 L1379.6 307.8 L1380.8 307.8 L1382 307.5 L1383.2 307.2 L1384.4 306.7 L1385.6 306.7 L1386.8 306.6 L1388 306.3 L1389.2 306.4 L1390.4 306.3 L1391.6 306.4 L1392.8 306 L1394 305.3 L1395.2 305.1 L1396.4 305.4 L1397.6 304.9 L1398.8 304.7 L1400 304.8 L1401.2 304.3 L1402.4 304.2 L1403.6 304.2 L1404.8 304 L1406 304 L1407.2 303.8 L1408.4 303.4 L1409.6 303.7 L1410.8 303.4 L1412 302.8 L1413.2 302.7 L1414.4 302.7 L1415.6 302.9 L1416.8 302.3 L1418 302.1 L1419.2 301.9 L1420.4 301.9 L1421.6 301.9 L1422.8 301.6 L1424 301.6 L1425.2 301.3 L1426.4 301 L1427.6 300.6 L1428.8 300.5 L1430 300.3 L1431.2 300.3 L1432.4 300.1 L1433.6 299.7 L1434.8 299.4 L1436 299.3 L1437.2 299.2 L1438.4 299 L1439.6 299.2 L1440.8 298.6 L1442 298.5 L1443.2 298.7 L1444.4 298.4 L1445.6 297.8 L1446.8 298.1 L1448 298.1 L1449.2 297.5 L1450.4 297.5 L1451.6 297 L1452.8 296.4 L1454 295.9 L1455.2 295.7 L1456.4 295.9 L1457.6 295.4 L1458.8 295.1 L1460 294.9 L1461.2 294.7 L1462.4 294.9 L1463.6 294.7 L1464.8 294.3 L1466 294.2 L1467.2 293.8 L1468.4 293.5 L1469.6 293.4 L1470.8 293.3 L1472 293 L1473.2 292.6 L1474.4 293 L1475.6 292.7 L1476.8 292.2 L1478 292.6 L1479.2 292.4 L1480.4 292.1 L1481.6 292.3 L1482.8 292.1 L1484 291.7 L1485.2 292 L1486.4 292.1 L1487.6 291.7 L1488.8 291.5 L1490 291.5 L1491.2 291.2 L1492.4 290.7 L1493.6 290.6 L1494.8 290.6 L1496 290.5 L1497.2 290.3 L1498.4 290.3 L1499.6 290.1 L1500.8 290.1 L1502 289.8 L1503.2 289.6 L1504.4 289.7 L1505.6 289.7 L1506.8 289 L1508 288.8 L1509.2 288.6 L1510.4 288.4 L1511.6 288.5 L1512.8 288.1 L1514 287.7 L1515.2 287.5 L1516.4 287.6 L1517.6 287.2 L1518.8 286.8 L1520 286.8 L1521.2 286.9 L1522.4 286.6 L1523.6 286.1 L1524.8 285.7 L1526 285.7 L1527.2 285.7 L1528.4 285.6 L1529.6 285.2 L1530.8 284.7 L1532 284.4 L1533.2 284.3 L1534.4 284 L1535.6 283.9 L1536.8 283.7 L1538 283.5 L1539.2 283.3 L1540.4 283.5 L1541.6 283.5 L1542.8 283 L1544 282.3 L1545.2 281.8 L1546.4 281.9 L1547.6 281.9 L1548.8 281.6 L1550 281 L1551.2 280.6 L1552.4 280.7 L1553.6 280.7 L1554.8 280.2 L1556 280 L1557.2 280.1 L1558.4 280 L1559.6 279.9 L1560.8 280.2 L1562 279.9 L1563.2 279.5 L1564.4 279.1 L1565.6 279.1 L1566.8 278.7 L1568 278.1 L1569.2 278.2 L1570.4 277.8 L1571.6 277.7 L1572.8 277.7 L1574 277.3 L1575.2 277.1 L1576.4 276.8 L1577.6 276.7 L1578.8 276.2 L1580 275.6 L1581.2 275.8 L1582.4 276.2 L1583.6 276.3 L1584.8 275.9 L1586 275.5 L1587.2 275.3 L1588.4 275.5 L1589.6 275.3 L1590.8 275.2 L1592 274.6 L1593.2 273.7 L1594.4 273.7 L1595.6 273.4 L1596.8 273.3 L1598 273.3 L1599.2 273.1 L1600.4 272.7 L1601.6 272.6 L1602.8 272.5 L1604 272 L1605.2 271.5 L1606.4 271.6 L1607.6 271.5 L1608.8 270.8 L1610 270.7 L1611.2 270.5 L1612.4 270.2 L1613.6 269.9 L1614.8 269.8 L1616 269.7 L1617.2 269.2 L1618.4 268.6 L1619.6 268.7 L1620.8 268.5 L1622 267.6 L1623.2 267.2 L1624.4 267.2 L1625.6 267.3 L1626.8 266.7 L1628 266.4 L1629.2 266.3 L1630.4 266.5 L1631.6 266.5 L1632.8 266.2 L1634 265.8 L1635.2 265.6 L1636.4 265.8 L1637.6 265.6 L1638.8 265.4 L1640 265.2 L1641.2 264.9 L1642.4 264.7 L1643.6 264.4 L1644.8 264.2 L1646 264.1 L1647.2 263.8 L1648.4 263.3 L1649.6 262.8 L1650.8 262.8 L1652 262.7 L1653.2 262.6 L1654.4 262.6 L1655.6 262.5 L1656.8 262.4 L1658 261.8 L1659.2 261.8 L1660.4 261.8 L1661.6 261.3 L1662.8 261.4 L1664 261.4 L1665.2 261.5 L1666.4 261.9 L1667.6 261.8 L1668.8 261.4 L1670 261.3 L1671.2 261.2 L1672.4 261 L1673.6 260.8 L1674.8 261 L1676 261.1 L1677.2 260.9 L1678.4 260.5 L1679.6 260.6 L1680.8 260.6 L1682 260.1 M1682 261V282" stroke="#F14040" stroke-width="5.2"/>
<path d="M1022 554 L1022.2 526.2 L1022.4 503 L1022.6 488.8 L1022.8 478.1 L1023 469 L1023.2 461.4 L1023.4 454.9 L1023.6 449.1 L1023.8 443.7 L1024 438.5 L1024.2 433.7 L1024.4 429.3 L1024.6 425.5 L1024.8 422.4 L1025 420 L1025.2 418.1 L1025.4 416.3 L1025.6 414.6 L1025.8 413 L1026 411.5 L1026.2 410 L1026.4 408.6 L1026.6 407.4 L1026.8 406.1 L1027 405 L1027.2 403.8 L1027.4 402.8 L1027.6 401.8 L1027.8 400.9 L1028 400 L1028.2 399.1 L1028.4 398.3 L1028.6 397.5 L1028.8 396.8 L1029 396 L1029.2 395.3 L1029.4 394.6 L1029.6 393.9 L1029.8 393.2 L1030 392.6 L1030.2 391.9 L1030.4 391.2 L1030.6 390.4 L1030.8 389.7 L1031 389.2 L1031.2 388.6 L1031.4 388 L1031.6 387.4 L1031.8 386.9 L1032 386.3 L1032.2 385.7 L1032.4 385.1 L1032.6 384.5 L1032.8 384.1 L1033 383.7 L1033.2 383.3 L1033.4 382.8 L1033.6 382.4 L1033.8 381.9 L1034 381.4 L1035.2 379.7 L1036.4 378.4 L1037.6 377.1 L1038.8 376 L1040 374.6 L1041.2 373.6 L1042.4 373.3 L1043.6 372.8 L1044.8 372.2 L1046 371.2 L1047.2 370.3 L1048.4 369.7 L1049.6 369 L1050.8 368.5 L1052 368.6 L1053.2 367.9 L1054.4 367.1 L1055.6 366.8 L1056.8 366.3 L1058 366 L1059.2 365.6 L1060.4 364.9 L1061.6 364.5 L1062.8 364.1 L1064 363.7 L1065.2 363.7 L1066.4 362.9 L1067.6 363.3 L1068.8 363.8 L1070 363.2 L1071.2 362.7 L1072.4 362.6 L1073.6 362.7 L1074.8 362.5 L1076 362 L1077.2 361.9 L1078.4 361.7 L1079.6 361.4 L1080.8 361.5 L1082 361.2 L1083.2 361.1 L1084.4 361.3 L1085.6 361.5 L1086.8 361.2 L1088 360.6 L1089.2 360.8 L1090.4 360.6 L1091.6 360 L1092.8 360.2 L1094 360.1 L1095.2 360.5 L1096.4 360.8 L1097.6 360.5 L1098.8 360.2 L1100 360.1 L1101.2 360.1 L1102.4 359.8 L1103.6 359.8 L1104.8 359.7 L1106 359.6 L1107.2 359.3 L1108.4 358.7 L1109.6 358.5 L1110.8 357.8 L1112 357.8 L1113.2 358.2 L1114.4 358.1 L1115.6 357.2 L1116.8 357.1 L1118 357.4 L1119.2 356.3 L1120.4 356.1 L1121.6 356.4 L1122.8 356 L1124 356.2 L1125.2 355.7 L1126.4 355 L1127.6 354.8 L1128.8 354.5 L1130 354.3 L1131.2 354.6 L1132.4 354.2 L1133.6 353.8 L1134.8 354.1 L1136 354 L1137.2 353.3 L1138.4 353 L1139.6 353 L1140.8 353.2 L1142 353.2 L1143.2 353.2 L1144.4 353 L1145.6 352.4 L1146.8 352.5 L1148 352.8 L1149.2 353.3 L1150.4 352.5 L1151.6 352.2 L1152.8 352.4 L1154 351.8 L1155.2 351.4 L1156.4 351.7 L1157.6 352 L1158.8 351.7 L1160 351.5 L1161.2 351.5 L1162.4 351.3 L1163.6 350.6 L1164.8 350.5 L1166 350.8 L1167.2 350.1 L1168.4 350.2 L1169.6 350.8 L1170.8 350.3 L1172 350.2 L1173.2 349.8 L1174.4 348.9 L1175.6 348.8 L1176.8 348.7 L1178 349.3 L1179.2 349.1 L1180.4 348.5 L1181.6 348.6 L1182.8 348.7 L1184 348.5 L1185.2 347.9 L1186.4 347.8 L1187.6 347.9 L1188.8 347.7 L1190 347.7 L1191.2 347.6 L1192.4 347 L1193.6 347 L1194.8 347.4 L1196 347.1 L1197.2 346.7 L1198.4 346.8 L1199.6 346.4 L1200.8 346 L1202 345.9 L1203.2 345.8 L1204.4 345.4 L1205.6 345.1 L1206.8 344.6 L1208 343.9 L1209.2 343.6 L1210.4 343.5 L1211.6 343.5 L1212.8 343.2 L1214 343.1 L1215.2 342.9 L1216.4 342.5 L1217.6 342.7 L1218.8 343 L1220 342.6 L1221.2 342.1 L1222.4 342.2 L1223.6 341.6 L1224.8 341 L1226 340.8 L1227.2 340.3 L1228.4 340.4 L1229.6 340 L1230.8 339.9 L1232 340.1 L1233.2 339.7 L1234.4 339.6 L1235.6 339.4 L1236.8 338.7 L1238 338.7 L1239.2 338.7 L1240.4 338.6 L1241.6 338.5 L1242.8 338.2 L1244 338 L1245.2 337.8 L1246.4 337.6 L1247.6 337.7 L1248.8 337.9 L1250 338.6 L1251.2 338.3 L1252.4 337 L1253.6 337.3 L1254.8 337.3 L1256 336.8 L1257.2 336.9 L1258.4 336.9 L1259.6 336.8 L1260.8 336.7 L1262 336.6 L1263.2 336.8 L1264.4 337 L1265.6 336.7 L1266.8 336.5 L1268 336.1 L1269.2 336.1 L1270.4 336.2 L1271.6 336.5 L1272.8 336.3 L1274 336.3 L1275.2 336.1 L1276.4 335.3 L1277.6 335.2 L1278.8 335.6 L1280 335.9 L1281.2 335.5 L1282.4 335.5 L1283.6 335.6 L1284.8 335.3 L1286 335.4 L1287.2 335.8 L1288.4 335.8 L1289.6 335.4 L1290.8 334.9 L1292 334.9 L1293.2 335.2 L1294.4 335.5 L1295.6 335.2 L1296.8 334.5 L1298 334.4 L1299.2 334.3 L1300.4 334.5 L1301.6 334.4 L1302.8 334.5 L1304 334.5 L1305.2 334 L1306.4 333.7 L1307.6 333.4 L1308.8 333.1 L1310 333.7 L1311.2 334.3 L1312.4 333.6 L1313.6 333.1 L1314.8 333.8 L1316 333.7 L1317.2 333.2 L1318.4 333.3 L1319.6 333.1 L1320.8 332.8 L1322 332.6 L1323.2 332.4 L1324.4 331.9 L1325.6 331.6 L1326.8 331.9 L1328 331.5 L1329.2 331.4 L1330.4 331.4 L1331.6 330.8 L1332.8 330.5 L1334 331 L1335.2 331.6 L1336.4 331.5 L1337.6 331.1 L1338.8 331.2 L1340 331.8 L1341.2 331.6 L1342.4 331 L1343.6 331 L1344.8 331.2 L1346 330.9 L1347.2 330.9 L1348.4 331 L1349.6 330.8 L1350.8 330.4 L1352 330.2 L1353.2 330.2 L1354.4 330.4 L1355.6 330.1 L1356.8 329.7 L1358 329.7 L1359.2 329.6 L1360.4 329.5 L1361.6 328.5 L1362.8 328.8 L1364 329.3 L1365.2 328.6 L1366.4 328.4 L1367.6 328.4 L1368.8 328.4 L1370 328.5 L1371.2 328.7 L1372.4 328.6 L1373.6 328.5 L1374.8 328.3 L1376 328.3 L1377.2 328.2 L1378.4 328 L1379.6 328.3 L1380.8 328 L1382 328 L1383.2 328.1 L1384.4 327.5 L1385.6 327.7 L1386.8 328.1 L1388 327.2 L1389.2 326.1 L1390.4 326.1 L1391.6 326.7 L1392.8 326.9 L1394 326.7 L1395.2 326.3 L1396.4 326.2 L1397.6 326.3 L1398.8 325.9 L1400 325.7 L1401.2 325.9 L1402.4 325.6 L1403.6 325.1 L1404.8 325 L1406 325.4 L1407.2 325.7 L1408.4 325.4 L1409.6 325.2 L1410.8 324.9 L1412 325 L1413.2 324.8 L1414.4 324.6 L1415.6 324.7 L1416.8 324.4 L1418 324.4 L1419.2 324.5 L1420.4 324.6 L1421.6 324.2 L1422.8 324.2 L1424 323.9 L1425.2 323.2 L1426.4 322.8 L1427.6 323 L1428.8 323.9 L1430 323.2 L1431.2 322.8 L1432.4 322.8 L1433.6 322.6 L1434.8 322.7 L1436 323.1 L1437.2 322.9 L1438.4 322.5 L1439.6 322.7 L1440.8 322.9 L1442 322.5 L1443.2 322.3 L1444.4 322.7 L1445.6 321.9 L1446.8 321.8 L1448 322.7 L1449.2 322.1 L1450.4 321.9 L1451.6 322.1 L1452.8 321.7 L1454 321.6 L1455.2 321.3 L1456.4 320.8 L1457.6 321.5 L1458.8 321.5 L1460 320.7 L1461.2 321.3 L1462.4 321.3 L1463.6 320.9 L1464.8 320.2 L1466 319.8 L1467.2 319.9 L1468.4 319.4 L1469.6 319.6 L1470.8 320 L1472 319.6 L1473.2 318.9 L1474.4 319 L1475.6 319.1 L1476.8 318.7 L1478 318.7 L1479.2 319 L1480.4 318.5 L1481.6 317.8 L1482.8 317.8 L1484 318 L1485.2 318.2 L1486.4 317.6 L1487.6 317.6 L1488.8 317.6 L1490 317 L1491.2 316.8 L1492.4 316.5 L1493.6 316.8 L1494.8 316.5 L1496 316.3 L1497.2 316.2 L1498.4 315.9 L1499.6 315.6 L1500.8 315.6 L1502 315.2 L1503.2 314.9 L1504.4 315.6 L1505.6 315.7 L1506.8 314.9 L1508 314.2 L1509.2 314.4 L1510.4 314.9 L1511.6 314.8 L1512.8 314.3 L1514 314.1 L1515.2 313.9 L1516.4 313.4 L1517.6 313.2 L1518.8 313.5 L1520 313.6 L1521.2 313 L1522.4 313 L1523.6 313.5 L1524.8 313.4 L1526 312.8 L1527.2 311.9 L1528.4 312.1 L1529.6 313 L1530.8 312.8 L1532 312.4 L1533.2 312.2 L1534.4 312.6 L1535.6 312.1 L1536.8 311 L1538 311.2 L1539.2 311.2 L1540.4 310.2 L1541.6 310 L1542.8 310.3 L1544 309.8 L1545.2 309.8 L1546.4 310 L1547.6 309.2 L1548.8 309 L1550 309.9 L1551.2 310 L1552.4 309.1 L1553.6 308.2 L1554.8 308.4 L1556 308.7 L1557.2 308.2 L1558.4 307.8 L1559.6 308.1 L1560.8 308.1 L1562 307.9 L1563.2 307.6 L1564.4 307.2 L1565.6 306.9 L1566.8 306.3 L1568 306.1 L1569.2 305.4 L1570.4 305.3 L1571.6 305.2 L1572.8 304.9 L1574 305.1 L1575.2 305 L1576.4 304.9 L1577.6 304.5 L1578.8 304.4 L1580 304.6 L1581.2 304.4 L1582.4 304 L1583.6 303.4 L1584.8 302.9 L1586 303.5 L1587.2 303.5 L1588.4 302.8 L1589.6 303 L1590.8 302.8 L1592 302.6 L1593.2 302.7 L1594.4 302 L1595.6 301.2 L1596.8 301.4 L1598 301.2 L1599.2 300.6 L1600.4 301.2 L1601.6 301 L1602.8 300.8 L1604 301 L1605.2 300.7 L1606.4 300.3 L1607.6 300.1 L1608.8 300.3 L1610 300 L1611.2 299.9 L1612.4 300.1 L1613.6 299.8 L1614.8 299.6 L1616 299.3 L1617.2 299.2 L1618.4 299 L1619.6 298.7 L1620.8 298.5 L1622 297.9 L1623.2 297.4 L1624.4 297.5 L1625.6 298 L1626.8 297.5 L1628 296.6 L1629.2 296.5 L1630.4 296.7 L1631.6 296.8 L1632.8 296.5 L1634 295.9 L1635.2 295.7 L1636.4 296.1 L1637.6 295.7 L1638.8 295.7 L1640 295.4 L1641.2 295.2 L1642.4 295.6 L1643.6 295 L1644.8 294.4 L1646 294.5 L1647.2 295.5 L1648.4 295.2 L1649.6 294.3 L1650.8 294.3 L1652 294.1 L1653.2 293.3 L1654.4 292.9 L1655.6 293.4 L1656.8 293 L1658 292.1 L1659.2 292.7 L1660.4 292.9 L1661.6 292.6 L1662.8 292.2 L1664 291.5 L1665.2 291.4 L1666.4 291 L1667.6 290.7 L1668.8 290.6 L1670 290.7 L1671.2 290.6 L1672.4 290 L1673.6 289.9 L1674.8 289.9 L1676 289.9 L1677.2 289.5 L1678.4 289 L1679.6 288.5 L1680.8 288.2 L1682 288.2 L1682 314.3 L1680.8 314.8 L1679.6 315.3 L1678.4 315.1 L1677.2 314.4 L1676 314.7 L1674.8 314.8 L1673.6 314.4 L1672.4 314.3 L1671.2 314.3 L1670 314.3 L1668.8 314.4 L1667.6 314.1 L1666.4 313.9 L1665.2 313.6 L1664 313.7 L1662.8 313.8 L1661.6 313.8 L1660.4 314 L1659.2 313.3 L1658 313.1 L1656.8 313.9 L1655.6 313.8 L1654.4 313.7 L1653.2 313.8 L1652 314 L1650.8 314.4 L1649.6 314.9 L1648.4 314.8 L1647.2 314.7 L1646 314.6 L1644.8 314.8 L1643.6 314.9 L1642.4 314.8 L1641.2 315.1 L1640 315.2 L1638.8 315 L1637.6 314.6 L1636.4 315.3 L1635.2 315.2 L1634 314.5 L1632.8 314.7 L1631.6 314.7 L1630.4 314.8 L1629.2 315.1 L1628 314.9 L1626.8 314.8 L1625.6 315.4 L1624.4 316.4 L1623.2 315.9 L1622 315.5 L1620.8 315.7 L1619.6 315.5 L1618.4 315.9 L1617.2 316.1 L1616 316.5 L1614.8 317.1 L1613.6 317.2 L1612.4 316.8 L1611.2 316.7 L1610 317 L1608.8 317 L1607.6 316.9 L1606.4 316.6 L1605.2 316.8 L1604 317.2 L1602.8 317.3 L1601.6 316.8 L1600.4 317.1 L1599.2 317.2 L1598 317.1 L1596.8 317.4 L1595.6 317.5 L1594.4 318.4 L1593.2 319.1 L1592 318.5 L1590.8 318.6 L1589.6 319.1 L1588.4 319.2 L1587.2 319.3 L1586 320 L1584.8 320.8 L1583.6 320.8 L1582.4 320.2 L1581.2 320 L1580 320.6 L1578.8 321 L1577.6 320.8 L1576.4 320.5 L1575.2 320.6 L1574 321 L1572.8 321.7 L1571.6 321.6 L1570.4 321.8 L1569.2 322.3 L1568 322.3 L1566.8 322.8 L1565.6 322.9 L1564.4 322.5 L1563.2 322.4 L1562 322.7 L1560.8 323 L1559.6 323.3 L1558.4 324.1 L1557.2 324.4 L1556 324.4 L1554.8 324.2 L1553.6 324.2 L1552.4 324.9 L1551.2 324.6 L1550 324.4 L1548.8 324.7 L1547.6 324.8 L1546.4 324.9 L1545.2 324.9 L1544 324.8 L1542.8 324.8 L1541.6 325 L1540.4 325.2 L1539.2 325.7 L1538 326.4 L1536.8 326.3 L1535.6 325.6 L1534.4 326 L1533.2 326.6 L1532 326.9 L1530.8 327.8 L1529.6 327.7 L1528.4 327.5 L1527.2 327 L1526 328.1 L1524.8 328.8 L1523.6 328.3 L1522.4 328.2 L1521.2 328.2 L1520 328.2 L1518.8 328.3 L1517.6 328.8 L1516.4 329.1 L1515.2 328.8 L1514 328.8 L1512.8 328.9 L1511.6 328.6 L1510.4 329.3 L1509.2 329.3 L1508 329.4 L1506.8 329.8 L1505.6 330.5 L1504.4 330.8 L1503.2 331.2 L1502 331.7 L1500.8 331.6 L1499.6 332.3 L1498.4 332.8 L1497.2 332.7 L1496 332.2 L1494.8 332.5 L1493.6 333.1 L1492.4 333.2 L1491.2 333.6 L1490 333.8 L1488.8 333.9 L1487.6 334 L1486.4 334.9 L1485.2 335.4 L1484 335.2 L1482.8 335.1 L1481.6 335 L1480.4 335.1 L1479.2 335.7 L1478 336 L1476.8 336 L1475.6 336.3 L1474.4 336.3 L1473.2 336.4 L1472 336.5 L1470.8 337.3 L1469.6 337.4 L1468.4 337 L1467.2 337.6 L1466 338.2 L1464.8 338.2 L1463.6 338.4 L1462.4 338.6 L1461.2 338.6 L1460 339.1 L1458.8 339 L1457.6 338.9 L1456.4 339.1 L1455.2 339.2 L1454 339.2 L1452.8 339.4 L1451.6 339.8 L1450.4 340.4 L1449.2 340.6 L1448 340.4 L1446.8 340.6 L1445.6 340.5 L1444.4 340 L1443.2 340.1 L1442 340.6 L1440.8 340.7 L1439.6 341.1 L1438.4 341.5 L1437.2 341.2 L1436 341.2 L1434.8 341.2 L1433.6 341.1 L1432.4 341.8 L1431.2 342.2 L1430 342.1 L1428.8 341.6 L1427.6 341.7 L1426.4 342.6 L1425.2 342.8 L1424 343 L1422.8 343 L1421.6 343.1 L1420.4 343.4 L1419.2 343.4 L1418 343.1 L1416.8 343.2 L1415.6 343.8 L1414.4 343.5 L1413.2 343.5 L1412 343.9 L1410.8 344.2 L1409.6 344.3 L1408.4 344.1 L1407.2 344.3 L1406 344.5 L1404.8 344.4 L1403.6 344.9 L1402.4 344.9 L1401.2 344.9 L1400 345.6 L1398.8 345.7 L1397.6 345.3 L1396.4 345.8 L1395.2 345.9 L1394 345.9 L1392.8 346 L1391.6 346.3 L1390.4 346.9 L1389.2 347.1 L1388 347.1 L1386.8 347.2 L1385.6 347.7 L1384.4 348 L1383.2 348.1 L1382 348 L1380.8 348.4 L1379.6 348.9 L1378.4 349.1 L1377.2 349 L1376 349.1 L1374.8 349.7 L1373.6 349.8 L1372.4 349.6 L1371.2 349.9 L1370 350.2 L1368.8 350.5 L1367.6 350.3 L1366.4 350.2 L1365.2 350.3 L1364 350.7 L1362.8 351.6 L1361.6 351.8 L1360.4 351.6 L1359.2 351.8 L1358 352 L1356.8 351.3 L1355.6 352.1 L1354.4 352.9 L1353.2 353 L1352 353.4 L1350.8 353.9 L1349.6 354.1 L1348.4 354 L1347.2 354.1 L1346 354.6 L1344.8 355.2 L1343.6 355.6 L1342.4 355.9 L1341.2 356.3 L1340 356.9 L1338.8 356.6 L1337.6 356.7 L1336.4 357.5 L1335.2 357.4 L1334 357.7 L1332.8 358.1 L1331.6 357.9 L1330.4 358.4 L1329.2 358.8 L1328 358.4 L1326.8 358.5 L1325.6 358.8 L1324.4 358.8 L1323.2 359.5 L1322 359.8 L1320.8 360.2 L1319.6 360.9 L1318.4 360.4 L1317.2 360.4 L1316 361.2 L1314.8 362.2 L1313.6 362.4 L1312.4 361.6 L1311.2 361.4 L1310 361.8 L1308.8 362.2 L1307.6 362.3 L1306.4 362.5 L1305.2 363.3 L1304 363.3 L1302.8 363 L1301.6 363.8 L1300.4 364.3 L1299.2 364 L1298 364.2 L1296.8 364.3 L1295.6 364.5 L1294.4 365.3 L1293.2 365 L1292 364.5 L1290.8 364.7 L1289.6 365.1 L1288.4 365.5 L1287.2 366.1 L1286 367 L1284.8 366.9 L1283.6 366.5 L1282.4 366.4 L1281.2 366.5 L1280 366.8 L1278.8 366.9 L1277.6 366.7 L1276.4 367 L1275.2 367.4 L1274 367.7 L1272.8 367.6 L1271.6 367.6 L1270.4 367.8 L1269.2 368.4 L1268 368.6 L1266.8 368.6 L1265.6 368.7 L1264.4 368.6 L1263.2 368.7 L1262 368.8 L1260.8 368.9 L1259.6 369.6 L1258.4 370.4 L1257.2 370.3 L1256 370.4 L1254.8 370.8 L1253.6 371.2 L1252.4 371.5 L1251.2 371.8 L1250 371.9 L1248.8 372 L1247.6 372.4 L1246.4 372.8 L1245.2 373.1 L1244 373.4 L1242.8 373.2 L1241.6 373.7 L1240.4 374.4 L1239.2 374 L1238 374.1 L1236.8 374.4 L1235.6 374.6 L1234.4 375.3 L1233.2 375.5 L1232 375.7 L1230.8 376.4 L1229.6 376.2 L1228.4 376.2 L1227.2 376.4 L1226 376.6 L1224.8 377 L1223.6 377 L1222.4 377.1 L1221.2 377.4 L1220 377.8 L1218.8 378.4 L1217.6 378.7 L1216.4 378.9 L1215.2 379.2 L1214 379.2 L1212.8 379.5 L1211.6 379.7 L1210.4 379.6 L1209.2 379.9 L1208 381 L1206.8 381.4 L1205.6 381.3 L1204.4 381.6 L1203.2 382 L1202 382.3 L1200.8 382.3 L1199.6 383 L1198.4 383.6 L1197.2 383.4 L1196 383.3 L1194.8 383.5 L1193.6 384.1 L1192.4 384.8 L1191.2 384.9 L1190 385.4 L1188.8 385.7 L1187.6 385.5 L1186.4 386.2 L1185.2 386.4 L1184 386.2 L1182.8 386.9 L1181.6 387.5 L1180.4 387.8 L1179.2 387.9 L1178 388.1 L1176.8 388.7 L1175.6 389 L1174.4 388.5 L1173.2 388.5 L1172 389.2 L1170.8 389.2 L1169.6 389.3 L1168.4 389.8 L1167.2 390.1 L1166 390.3 L1164.8 390.7 L1163.6 390.6 L1162.4 390.5 L1161.2 390.9 L1160 391.6 L1158.8 391.9 L1157.6 392.3 L1156.4 392.3 L1155.2 392.6 L1154 393 L1152.8 393 L1151.6 393.7 L1150.4 394 L1149.2 394.1 L1148 394.7 L1146.8 395.5 L1145.6 395.4 L1144.4 395.6 L1143.2 396 L1142 396.2 L1140.8 397.2 L1139.6 397.6 L1138.4 397.3 L1137.2 398.2 L1136 398.3 L1134.8 398.2 L1133.6 398.5 L1132.4 398.7 L1131.2 399.4 L1130 399.8 L1128.8 400.3 L1127.6 400.9 L1126.4 400.5 L1125.2 400.5 L1124 400.8 L1122.8 400.9 L1121.6 401.1 L1120.4 401.9 L1119.2 402.7 L1118 402.8 L1116.8 402.5 L1115.6 403.1 L1114.4 403.7 L1113.2 403.7 L1112 403.9 L1110.8 404.3 L1109.6 404.8 L1108.4 404.6 L1107.2 404.7 L1106 405 L1104.8 405.4 L1103.6 405.8 L1102.4 406 L1101.2 406.3 L1100 406.4 L1098.8 406.7 L1097.6 406.9 L1096.4 407.4 L1095.2 407.7 L1094 407.8 L1092.8 408.3 L1091.6 408.6 L1090.4 408.6 L1089.2 408.6 L1088 408.5 L1086.8 408.8 L1085.6 409 L1084.4 408.9 L1083.2 409.3 L1082 409.6 L1080.8 409.7 L1079.6 410.5 L1078.4 410.8 L1077.2 411.1 L1076 411.9 L1074.8 412.2 L1073.6 411.7 L1072.4 411.7 L1071.2 411.9 L1070 412.3 L1068.8 412.9 L1067.6 413.1 L1066.4 413.3 L1065.2 413.4 L1064 413 L1062.8 413.2 L1061.6 413.3 L1060.4 413.7 L1059.2 414.9 L1058 415.5 L1056.8 416 L1055.6 416.4 L1054.4 417.2 L1053.2 418.2 L1052 418.3 L1050.8 419.2 L1049.6 420.4 L1048.4 421.3 L1047.2 423.1 L1046 424.7 L1044.8 426.1 L1043.6 427.6 L1042.4 429.3 L1041.2 431.6 L1040 433.7 L1038.8 436.1 L1037.6 438.9 L1036.4 441.7 L1035.2 444.7 L1034 448.1 L1033.8 448.8 L1033.6 449.4 L1033.4 450 L1033.2 450.7 L1033 451.6 L1032.8 452.5 L1032.6 453.2 L1032.4 453.9 L1032.2 454.8 L1032 455.6 L1031.8 456.5 L1031.6 457.4 L1031.4 458.3 L1031.2 459.3 L1031 460.3 L1030.8 461.1 L1030.6 462.1 L1030.4 463.1 L1030.2 464.1 L1030 465 L1029.8 466 L1029.6 467 L1029.4 467.8 L1029.2 468.6 L1029 469.3 L1028.8 470.2 L1028.6 471.1 L1028.4 471.9 L1028.2 472.7 L1028 473.5 L1027.8 474.4 L1027.6 475.3 L1027.4 476.3 L1027.2 477.3 L1027 478.4 L1026.8 479.6 L1026.6 480.9 L1026.4 482.2 L1026.2 483.7 L1026 485.3 L1025.8 486.9 L1025.6 488.8 L1025.4 490.7 L1025.2 492.8 L1025 495 L1024.8 498.7 L1024.6 504.6 L1024.4 511.8 L1024.2 519.3 L1024 526.2 L1023.8 531.5 L1023.6 535.2 L1023.4 538.6 L1023.2 541.9 L1023 545 L1022.8 547.7 L1022.6 550.1 L1022.4 551.9 L1022.2 553.3 L1022 554Z" fill="#8CB7EF" fill-opacity="0.5" stroke="none"/>
<path d="M1022 554 L1022.2 542.6 L1022.4 532 L1022.6 523.1 L1022.8 516.5 L1023 510.5 L1023.2 505.1 L1023.4 500.1 L1023.6 495.6 L1023.8 491.5 L1024 488 L1024.2 485 L1024.4 482.6 L1024.6 480.5 L1024.8 478.7 L1025 477.1 L1025.2 475.6 L1025.4 474.3 L1025.6 473.1 L1025.8 471.9 L1026 470.7 L1026.2 469.6 L1026.4 468.4 L1026.6 467.3 L1026.8 466.3 L1027 465.3 L1027.2 464.3 L1027.4 463.3 L1027.6 462.4 L1027.8 461.5 L1028 460.5 L1028.2 459.6 L1028.4 458.7 L1028.6 457.8 L1028.8 456.9 L1029 455.8 L1029.2 454.7 L1029.4 453.6 L1029.6 452.5 L1029.8 451.6 L1030 450.4 L1030.2 449.2 L1030.4 448.1 L1030.6 446.9 L1030.8 445.7 L1031 444.7 L1031.2 443.7 L1031.4 442.6 L1031.6 441.6 L1031.8 440.7 L1032 439.8 L1032.2 439.1 L1032.4 438.4 L1032.6 437.6 L1032.8 436.7 L1033 436 L1033.2 435.2 L1033.4 434.5 L1033.6 433.9 L1033.8 433.2 L1034 432.5 L1035.2 428.6 L1036.4 425.2 L1037.6 422.2 L1038.8 418.9 L1040 416.4 L1041.2 414.1 L1042.4 411.5 L1043.6 409.6 L1044.8 407.7 L1046 406.4 L1047.2 404.9 L1048.4 403.3 L1049.6 402.3 L1050.8 401.2 L1052 400.3 L1053.2 399 L1054.4 397.5 L1055.6 396.6 L1056.8 396.1 L1058 395.3 L1059.2 394.3 L1060.4 393.6 L1061.6 392.8 L1062.8 392.1 L1064 391.7 L1065.2 391.1 L1066.4 390.3 L1067.6 389.8 L1068.8 389.4 L1070 388.8 L1071.2 388.8 L1072.4 388.5 L1073.6 387.9 L1074.8 387.4 L1076 387.3 L1077.2 387.1 L1078.4 386.6 L1079.6 386.4 L1080.8 386.3 L1082 385.9 L1083.2 385.4 L1084.4 385.6 L1085.6 385.4 L1086.8 385.2 L1088 385 L1089.2 384.5 L1090.4 384.1 L1091.6 384.1 L1092.8 383.8 L1094 383.2 L1095.2 383 L1096.4 382.8 L1097.6 382.4 L1098.8 382.2 L1100 381.9 L1101.2 381.7 L1102.4 381.8 L1103.6 381.5 L1104.8 381.1 L1106 381 L1107.2 381.3 L1108.4 380.7 L1109.6 379.9 L1110.8 379.7 L1112 379.6 L1113.2 379.1 L1114.4 379 L1115.6 378.5 L1116.8 378.2 L1118 377.9 L1119.2 377.2 L1120.4 377 L1121.6 377.1 L1122.8 376.9 L1124 376.5 L1125.2 376.3 L1126.4 376.1 L1127.6 376.1 L1128.8 375.9 L1130 375.6 L1131.2 375.2 L1132.4 374.6 L1133.6 374.6 L1134.8 374.8 L1136 374.6 L1137.2 374.3 L1138.4 374 L1139.6 373.8 L1140.8 373.3 L1142 372.9 L1143.2 373 L1144.4 372.8 L1145.6 372.3 L1146.8 371.7 L1148 371.6 L1149.2 371.9 L1150.4 371.9 L1151.6 371.8 L1152.8 371.2 L1154 371 L1155.2 370.9 L1156.4 370.6 L1157.6 370 L1158.8 369.6 L1160 369.6 L1161.2 369.6 L1162.4 369.5 L1163.6 369.4 L1164.8 369 L1166 369.1 L1167.2 368.9 L1168.4 368.6 L1169.6 368.2 L1170.8 367.6 L1172 367.4 L1173.2 367 L1174.4 367.2 L1175.6 367.4 L1176.8 367 L1178 367 L1179.2 366.8 L1180.4 366.6 L1181.6 365.8 L1182.8 365.5 L1184 365.8 L1185.2 365.2 L1186.4 365.2 L1187.6 365.1 L1188.8 364.6 L1190 364 L1191.2 364.2 L1192.4 364 L1193.6 363.6 L1194.8 364.2 L1196 364.2 L1197.2 363.6 L1198.4 363.3 L1199.6 363.1 L1200.8 363.1 L1202 363 L1203.2 362.7 L1204.4 362.3 L1205.6 362.7 L1206.8 362.5 L1208 361.9 L1209.2 362.4 L1210.4 362.4 L1211.6 361.6 L1212.8 361.3 L1214 361.5 L1215.2 361.3 L1216.4 361 L1217.6 360.4 L1218.8 360.1 L1220 360.3 L1221.2 360.3 L1222.4 360.3 L1223.6 360.2 L1224.8 359.1 L1226 358.5 L1227.2 358.8 L1228.4 358.9 L1229.6 358.9 L1230.8 358.9 L1232 358.4 L1233.2 357.7 L1234.4 358 L1235.6 358 L1236.8 357.2 L1238 357 L1239.2 357.1 L1240.4 356.9 L1241.6 356.5 L1242.8 356.7 L1244 356.4 L1245.2 356.2 L1246.4 356.2 L1247.6 356 L1248.8 356.2 L1250 355.8 L1251.2 355.8 L1252.4 355.8 L1253.6 355.1 L1254.8 355.1 L1256 355.2 L1257.2 355.1 L1258.4 354.7 L1259.6 354.4 L1260.8 354.6 L1262 354.7 L1263.2 354.3 L1264.4 354.1 L1265.6 354.1 L1266.8 353.6 L1268 353.1 L1269.2 352.7 L1270.4 353 L1271.6 352.5 L1272.8 352.2 L1274 352.6 L1275.2 352.3 L1276.4 352.4 L1277.6 352.8 L1278.8 352.2 L1280 351.8 L1281.2 351.9 L1282.4 351.7 L1283.6 351.5 L1284.8 351.4 L1286 351.7 L1287.2 351.6 L1288.4 351.2 L1289.6 351 L1290.8 350.7 L1292 350.6 L1293.2 350.5 L1294.4 350.1 L1295.6 350.1 L1296.8 350 L1298 349.7 L1299.2 349.8 L1300.4 349.8 L1301.6 349.4 L1302.8 349.2 L1304 349.3 L1305.2 349.5 L1306.4 349.4 L1307.6 349.1 L1308.8 348.9 L1310 348.9 L1311.2 348.3 L1312.4 348.2 L1313.6 348.7 L1314.8 348.3 L1316 347.8 L1317.2 347.8 L1318.4 347.6 L1319.6 347.4 L1320.8 347.3 L1322 346.7 L1323.2 346.5 L1324.4 346.3 L1325.6 346 L1326.8 346 L1328 345.8 L1329.2 345.5 L1330.4 345.3 L1331.6 345.3 L1332.8 345.1 L1334 344.9 L1335.2 344.9 L1336.4 344.6 L1337.6 344.4 L1338.8 344.1 L1340 344 L1341.2 343.9 L1342.4 343.6 L1343.6 343.2 L1344.8 342.6 L1346 342.3 L1347.2 342.3 L1348.4 342.2 L1349.6 342 L1350.8 342 L1352 341.7 L1353.2 341 L1354.4 340.9 L1355.6 340.9 L1356.8 340.8 L1358 340.8 L1359.2 341.1 L1360.4 340.6 L1361.6 339.7 L1362.8 339.9 L1364 339.5 L1365.2 339.1 L1366.4 339.4 L1367.6 339.4 L1368.8 339 L1370 339 L1371.2 338.6 L1372.4 338.3 L1373.6 338.4 L1374.8 338.3 L1376 338 L1377.2 337.8 L1378.4 337.9 L1379.6 337.9 L1380.8 337.6 L1382 337.5 L1383.2 337.1 L1384.4 336.9 L1385.6 337.2 L1386.8 336.8 L1388 336.5 L1389.2 336.5 L1390.4 336.6 L1391.6 336.7 L1392.8 336.5 L1394 336.2 L1395.2 336 L1396.4 335.9 L1397.6 335.8 L1398.8 335.8 L1400 335.4 L1401.2 335.4 L1402.4 335.4 L1403.6 335.2 L1404.8 335.1 L1406 335 L1407.2 335.1 L1408.4 335 L1409.6 334.8 L1410.8 334.7 L1412 334.9 L1413.2 335 L1414.4 335.1 L1415.6 335 L1416.8 334.4 L1418 334.2 L1419.2 334.2 L1420.4 334 L1421.6 333.8 L1422.8 333.8 L1424 333.7 L1425.2 333.8 L1426.4 334.1 L1427.6 333.9 L1428.8 333.4 L1430 333.2 L1431.2 333.1 L1432.4 333 L1433.6 333 L1434.8 332.9 L1436 333 L1437.2 333 L1438.4 332.7 L1439.6 332.6 L1440.8 332.6 L1442 332.5 L1443.2 332.2 L1444.4 332.2 L1445.6 332.2 L1446.8 332.2 L1448 331.8 L1449.2 331.7 L1450.4 331.9 L1451.6 331.6 L1452.8 331.2 L1454 331.1 L1455.2 331.6 L1456.4 331.6 L1457.6 330.9 L1458.8 330.6 L1460 330.2 L1461.2 330 L1462.4 330.5 L1463.6 330.5 L1464.8 330 L1466 329.8 L1467.2 329.8 L1468.4 329.6 L1469.6 329.4 L1470.8 329.6 L1472 329.1 L1473.2 328.7 L1474.4 328.4 L1475.6 328 L1476.8 328.4 L1478 328.7 L1479.2 328.6 L1480.4 328 L1481.6 327.5 L1482.8 327.5 L1484 327.6 L1485.2 327.5 L1486.4 327.2 L1487.6 327.1 L1488.8 326.8 L1490 326.7 L1491.2 326.6 L1492.4 326.5 L1493.6 326.4 L1494.8 326.1 L1496 325.7 L1497.2 325.2 L1498.4 324.9 L1499.6 325 L1500.8 324.7 L1502 324.6 L1503.2 324.7 L1504.4 324.1 L1505.6 324 L1506.8 323.8 L1508 323.6 L1509.2 323.6 L1510.4 323.7 L1511.6 323.7 L1512.8 323.6 L1514 323.2 L1515.2 323.1 L1516.4 323.1 L1517.6 322.8 L1518.8 322.7 L1520 322.6 L1521.2 322.2 L1522.4 322.2 L1523.6 322 L1524.8 321.8 L1526 321.8 L1527.2 321.5 L1528.4 321.2 L1529.6 321.2 L1530.8 321.1 L1532 321 L1533.2 320.6 L1534.4 320.2 L1535.6 320 L1536.8 320 L1538 319.6 L1539.2 319.2 L1540.4 319.2 L1541.6 319.2 L1542.8 319 L1544 319.1 L1545.2 319 L1546.4 318.6 L1547.6 318.4 L1548.8 318.4 L1550 318.1 L1551.2 317.7 L1552.4 317.7 L1553.6 318 L1554.8 317.2 L1556 316.5 L1557.2 316.8 L1558.4 316.6 L1559.6 316.4 L1560.8 316.4 L1562 315.9 L1563.2 315.5 L1564.4 315.5 L1565.6 315.1 L1566.8 315.1 L1568 315.1 L1569.2 314.8 L1570.4 314.4 L1571.6 314.4 L1572.8 314.2 L1574 313.9 L1575.2 313.9 L1576.4 313.8 L1577.6 313.7 L1578.8 314 L1580 314 L1581.2 313.4 L1582.4 312.9 L1583.6 312.6 L1584.8 312.6 L1586 312.3 L1587.2 311.7 L1588.4 311.6 L1589.6 311.9 L1590.8 311.8 L1592 311.9 L1593.2 311.1 L1594.4 310.4 L1595.6 310.6 L1596.8 310.7 L1598 310.6 L1599.2 310.2 L1600.4 309.7 L1601.6 309.9 L1602.8 310 L1604 309.4 L1605.2 309.4 L1606.4 309 L1607.6 309 L1608.8 309.3 L1610 309 L1611.2 308.6 L1612.4 308.6 L1613.6 308.5 L1614.8 308.3 L1616 307.8 L1617.2 307.4 L1618.4 307.3 L1619.6 306.7 L1620.8 306.5 L1622 306.9 L1623.2 306.9 L1624.4 306.8 L1625.6 307 L1626.8 307 L1628 306.9 L1629.2 306.7 L1630.4 306.5 L1631.6 306.3 L1632.8 306.3 L1634 306.1 L1635.2 305.9 L1636.4 306.1 L1637.6 306.3 L1638.8 306 L1640 305.4 L1641.2 305.4 L1642.4 305.4 L1643.6 305.1 L1644.8 304.9 L1646 305.1 L1647.2 305.2 L1648.4 304.8 L1649.6 304.2 L1650.8 304.1 L1652 304.2 L1653.2 304.2 L1654.4 304.2 L1655.6 303.6 L1656.8 303.5 L1658 303.6 L1659.2 303.2 L1660.4 302.9 L1661.6 303.1 L1662.8 302.8 L1664 302.7 L1665.2 302.9 L1666.4 303 L1667.6 302.7 L1668.8 302.2 L1670 302.3 L1671.2 302.2 L1672.4 301.9 L1673.6 302.3 L1674.8 301.8 L1676 301.1 L1677.2 301.2 L1678.4 301.1 L1679.6 301.5 L1680.8 301.4 L1682 301 M1682 301V362" stroke="#1A6FDF" stroke-width="5.2"/>
</g>
<text transform="translate(983.98 561.70) scale(1.0100 1)" font-size="35.60">0</text>
<text transform="translate(964.03 444.09) scale(1.0100 1)" font-size="35.60">20</text>
<text transform="translate(964.03 326.48) scale(1.0100 1)" font-size="35.60">40</text>
<text transform="translate(964.03 208.87) scale(1.0100 1)" font-size="35.60">60</text>
<text transform="translate(964.03 91.26) scale(1.0100 1)" font-size="35.60">80</text>
<text transform="translate(1011.62 596.20) scale(1.0100 1)" font-size="35.60">0</text>
<text transform="translate(1143.71 596.20) scale(1.0100 1)" font-size="35.60">2</text>
<text transform="translate(1275.44 596.20) scale(1.0100 1)" font-size="35.60">4</text>
<text transform="translate(1407.62 596.20) scale(1.0100 1)" font-size="35.60">6</text>
<text transform="translate(1539.62 596.20) scale(1.0100 1)" font-size="35.60">8</text>
<text transform="translate(1661.19 596.20) scale(1.0100 1)" font-size="35.60">10</text>
<text transform="translate(839.19 43.75) scale(0.9437 1)" font-size="57.50">(B)</text>
<text transform="translate(1153.85 645.40) scale(0.9303 1)" font-size="48.50">Sliding distance</text>
<text transform="translate(1522.60 645.40) scale(1.0322 1)" font-size="48.50">(mm)</text>
<text transform="translate(937.00 541.33) rotate(-90) scale(0.9126 1)" font-size="48.50">Sliding resistance</text>
<text transform="translate(937.00 136.60) rotate(-90) scale(1.0709 1)" font-size="48.50">(N)</text>
<line x1="1402.4" y1="411.5" x2="1473.3" y2="411.5" stroke="#515151" stroke-width="5.6" stroke-linecap="round"/>
<text transform="translate(1481.34 421.70) scale(1.0396 1)" font-size="30.20">0.1mm/min</text>
<line x1="1402.4" y1="451.8" x2="1473.3" y2="451.8" stroke="#F14040" stroke-width="5.6" stroke-linecap="round"/>
<text transform="translate(1481.34 461.95) scale(1.0396 1)" font-size="30.20">0.5mm/min</text>
<line x1="1402.4" y1="492" x2="1473.3" y2="492" stroke="#1A6FDF" stroke-width="5.6" stroke-linecap="round"/>
<text transform="translate(1481.95 502.20) scale(1.0458 1)" font-size="30.20">1mm/min</text>
</g>
<g id="panelC">
<clipPath id="clipC"><rect x="626" y="723.8" width="659.4" height="529.8"/></clipPath>
<rect x="626" y="723.8" width="659.1" height="529.8" fill="none" stroke="#000" stroke-width="5.2"/>
<path d="M615.2 1253.5H626M615.2 1172H626M615.2 1090.5H626M615.2 1009H626M615.2 927.5H626M615.2 846H626M615.2 764.5H626M620.4 1212.8H626M620.4 1131.2H626M620.4 1049.8H626M620.4 968.2H626M620.4 886.8H626M620.4 805.2H626M620.4 723.8H626M626 1253.5V1264.3M691.9 1253.5V1259.1M757.8 1253.5V1264.3M823.7 1253.5V1259.1M889.6 1253.5V1264.3M955.5 1253.5V1259.1M1021.5 1253.5V1264.3M1087.4 1253.5V1259.1M1153.3 1253.5V1264.3M1219.2 1253.5V1259.1M1285.1 1253.5V1264.3" stroke="#000" stroke-width="5.2" fill="none"/>
<g clip-path="url(#clipC)" fill="none" stroke-linejoin="round">
<path d="M626 1253.5 L626.2 1244.1 L626.4 1234.9 L626.6 1226.6 L626.8 1219.7 L627 1215 L627.2 1211.7 L627.4 1208.6 L627.6 1205.9 L627.8 1203.4 L628 1201.1 L628.2 1199 L628.4 1197.2 L628.6 1195.5 L628.8 1194 L629 1192.7 L629.2 1191.5 L629.4 1190.5 L629.6 1189.5 L629.8 1188.7 L630 1187.8 L630.2 1187.1 L630.4 1186.5 L630.6 1185.9 L630.8 1185.3 L631 1184.7 L631.2 1184.2 L631.4 1183.7 L631.6 1183.2 L631.8 1182.8 L632 1182.5 L632.2 1182.1 L632.4 1181.6 L632.6 1181.2 L632.8 1180.9 L633 1180.6 L633.2 1180.3 L633.4 1180 L633.6 1179.7 L633.8 1179.5 L634 1179.2 L634.2 1178.9 L634.4 1178.6 L634.6 1178.3 L634.8 1178.1 L635 1177.9 L635.2 1177.6 L635.4 1177.4 L635.6 1177.1 L635.8 1176.9 L636 1176.9 L636.2 1176.6 L636.4 1176.4 L636.6 1176.1 L636.8 1175.8 L637 1175.8 L637.2 1175.5 L637.4 1175.2 L637.6 1174.9 L637.8 1174.7 L638 1174.5 L639.2 1172.7 L640.4 1170.9 L641.6 1169.3 L642.8 1167.3 L644 1165.3 L645.2 1163.2 L646.4 1161.3 L647.6 1160.1 L648.8 1158 L650 1155.1 L651.2 1153.1 L652.4 1151.5 L653.6 1149.8 L654.8 1147.7 L656 1145.6 L657.2 1144.1 L658.4 1142.7 L659.6 1141.2 L660.8 1139.2 L662 1137.4 L663.2 1135.6 L664.4 1133.7 L665.6 1131.4 L666.8 1129.5 L668 1128 L669.2 1126.5 L670.4 1125 L671.6 1122.9 L672.8 1121.2 L674 1119.8 L675.2 1118.2 L676.4 1116.3 L677.6 1114.3 L678.8 1112.9 L680 1111.3 L681.2 1109.6 L682.4 1107.9 L683.6 1106 L684.8 1104.6 L686 1102.9 L687.2 1101.6 L688.4 1100 L689.6 1098.5 L690.8 1096.8 L692 1095.4 L693.2 1094.4 L694.4 1093.2 L695.6 1092.2 L696.8 1090.3 L698 1088.5 L699.2 1086.9 L700.4 1085.3 L701.6 1084.1 L702.8 1082.7 L704 1081.4 L705.2 1080 L706.4 1078.5 L707.6 1076.7 L708.8 1074.9 L710 1073.5 L711.2 1071.9 L712.4 1070.1 L713.6 1068.8 L714.8 1068.3 L716 1067.1 L717.2 1065.7 L718.4 1064.3 L719.6 1063.2 L720.8 1062.4 L722 1061.5 L723.2 1060.8 L724.4 1059.5 L725.6 1058.4 L726.8 1057.4 L728 1056.2 L729.2 1055.1 L730.4 1054.7 L731.6 1053.4 L732.8 1051.6 L734 1050.4 L735.2 1049.7 L736.4 1049.1 L737.6 1047.3 L738.8 1046.2 L740 1045.3 L741.2 1044.1 L742.4 1043.4 L743.6 1042.7 L744.8 1041.6 L746 1040.3 L747.2 1039.4 L748.4 1038.5 L749.6 1037.9 L750.8 1036.7 L752 1035.7 L753.2 1035.1 L754.4 1034.1 L755.6 1033 L756.8 1032 L758 1031.3 L759.2 1030.4 L760.4 1029.6 L761.6 1029 L762.8 1028.1 L764 1027.6 L765.2 1027.1 L766.4 1026.1 L767.6 1025.4 L768.8 1024.9 L770 1023.8 L771.2 1023.1 L772.4 1022.8 L773.6 1021.8 L774.8 1020.4 L776 1019.9 L777.2 1019.8 L778.4 1018.6 L779.6 1017.6 L780.8 1017.1 L782 1015.9 L783.2 1015.2 L784.4 1015.1 L785.6 1014.6 L786.8 1014.1 L788 1013.1 L789.2 1012.2 L790.4 1012.4 L791.6 1011.1 L792.8 1009.9 L794 1010.1 L795.2 1009.5 L796.4 1008.2 L797.6 1008 L798.8 1008 L800 1007.2 L801.2 1006.6 L802.4 1006.4 L803.6 1006.2 L804.8 1005.4 L806 1004.3 L807.2 1003.5 L808.4 1002.7 L809.6 1002 L810.8 1002.1 L812 1001.8 L813.2 1001.2 L814.4 1000.6 L815.6 999.6 L816.8 998.7 L818 998.2 L819.2 997.8 L820.4 997.2 L821.6 997.4 L822.8 997.2 L824 995.9 L825.2 994.9 L826.4 994.4 L827.6 993.9 L828.8 993.3 L830 992.4 L831.2 992.4 L832.4 992.5 L833.6 991.8 L834.8 991.1 L836 990.6 L837.2 989.9 L838.4 988.6 L839.6 988.2 L840.8 988.2 L842 987.3 L843.2 986.3 L844.4 986.2 L845.6 985.9 L846.8 984.9 L848 984.5 L849.2 984.6 L850.4 984 L851.6 983.4 L852.8 982.7 L854 982.3 L855.2 982.4 L856.4 981.2 L857.6 980.9 L858.8 980.9 L860 980 L861.2 979.8 L862.4 979.8 L863.6 979.4 L864.8 978.5 L866 977.8 L867.2 977.4 L868.4 977.2 L869.6 976.7 L870.8 976.2 L872 976.3 L873.2 975.9 L874.4 975.6 L875.6 975.5 L876.8 974.6 L878 973.6 L879.2 973.4 L880.4 973.7 L881.6 973.6 L882.8 973.2 L884 972.7 L885.2 971.8 L886.4 971 L887.6 971.6 L888.8 971.5 L890 969.9 L891.2 969.4 L892.4 969.3 L893.6 968.3 L894.8 967.5 L896 967.6 L897.2 967.5 L898.4 967.3 L899.6 966.5 L900.8 965.5 L902 964.9 L903.2 964.7 L904.4 964.6 L905.6 963.7 L906.8 963 L908 962.6 L909.2 962.1 L910.4 961.6 L911.6 961.7 L912.8 961.7 L914 961.2 L915.2 959.9 L916.4 959.2 L917.6 959.8 L918.8 959.4 L920 958.3 L921.2 957.9 L922.4 957.6 L923.6 957 L924.8 956.8 L926 956.7 L927.2 956.2 L928.4 955.7 L929.6 955.2 L930.8 954.8 L932 954.8 L933.2 954.5 L934.4 954.1 L935.6 953.4 L936.8 953.4 L938 953.1 L939.2 952.8 L940.4 952.7 L941.6 952.5 L942.8 952.3 L944 951.8 L945.2 950.5 L946.4 949.9 L947.6 950.1 L948.8 950 L950 950 L951.2 950.2 L952.4 949.9 L953.6 949 L954.8 948.7 L956 948.4 L957.2 947.9 L958.4 947.7 L959.6 946.6 L960.8 946.3 L962 946.8 L963.2 946 L964.4 945.4 L965.6 945.2 L966.8 944.6 L968 943.9 L969.2 943.7 L970.4 943 L971.6 942.1 L972.8 942 L974 942 L975.2 941.9 L976.4 941.3 L977.6 940.4 L978.8 940.8 L980 940.8 L981.2 940.4 L982.4 940.6 L983.6 941.2 L984.8 941.4 L986 940.7 L987.2 940.8 L988.4 941.4 L989.6 941 L990.8 940.3 L992 941 L993.2 941.3 L994.4 940.7 L995.6 940.6 L996.8 940.8 L998 940.4 L999.2 940 L1000.4 940.7 L1001.6 940.7 L1002.8 940.5 L1004 940.3 L1005.2 939.9 L1006.4 939.8 L1007.6 939.5 L1008.8 939.2 L1010 939.2 L1011.2 938.9 L1012.4 939 L1013.6 938.6 L1014.8 938.7 L1016 938.5 L1017.2 938.1 L1018.4 938 L1019.6 938 L1020.8 938.2 L1022 938 L1023.2 938 L1024.4 937.9 L1025.6 937.5 L1026.8 937 L1028 936.6 L1029.2 934.9 L1030.4 932.5 L1031.6 930.5 L1032.8 929.4 L1034 928.7 L1035.2 928.6 L1036.4 928 L1037.6 927.8 L1038.8 927.8 L1040 927.4 L1041.2 927.4 L1042.4 926.9 L1043.6 926.7 L1044.8 926.8 L1046 926.4 L1047.2 925.9 L1048.4 925.8 L1049.6 926.3 L1050.8 926.6 L1052 926 L1053.2 925.4 L1054.4 924.4 L1055.6 924.2 L1056.8 924 L1058 923.6 L1059.2 924.2 L1060.4 923.8 L1061.6 923.1 L1062.8 922.2 L1064 922.1 L1065.2 922.4 L1066.4 921.7 L1067.6 921.3 L1068.8 920.6 L1070 919.8 L1071.2 919.9 L1072.4 919.9 L1073.6 919.2 L1074.8 918.2 L1076 917.6 L1077.2 917.7 L1078.4 917 L1079.6 916.4 L1080.8 916.3 L1082 915.8 L1083.2 915 L1084.4 914.2 L1085.6 913.5 L1086.8 913.5 L1088 913.3 L1089.2 913.1 L1090.4 912.4 L1091.6 911.8 L1092.8 911.6 L1094 910.8 L1095.2 910.2 L1096.4 909.7 L1097.6 909.7 L1098.8 909.3 L1100 909.6 L1101.2 909.4 L1102.4 908.5 L1103.6 908.1 L1104.8 908.2 L1106 907.5 L1107.2 906.3 L1108.4 906.4 L1109.6 906.3 L1110.8 906 L1112 905 L1113.2 904.9 L1114.4 904.8 L1115.6 903.8 L1116.8 903.1 L1118 902.8 L1119.2 902.5 L1120.4 901.7 L1121.6 901.4 L1122.8 901.3 L1124 901.1 L1125.2 901 L1126.4 900.2 L1127.6 900 L1128.8 900.2 L1130 899.4 L1131.2 898.6 L1132.4 898.3 L1133.6 898.4 L1134.8 898.5 L1136 897.9 L1137.2 897 L1138.4 897 L1139.6 896.7 L1140.8 896.2 L1142 895.8 L1143.2 895.1 L1144.4 895.2 L1145.6 895.1 L1146.8 894.2 L1148 893.8 L1149.2 893.9 L1150.4 893.3 L1151.6 892.5 L1152.8 891.9 L1154 891.5 L1155.2 891.3 L1156.4 891.4 L1157.6 891 L1158.8 889.9 L1160 889.7 L1161.2 889.8 L1162.4 889.1 L1163.6 888.7 L1164.8 888.6 L1166 888 L1167.2 887.7 L1168.4 887.9 L1169.6 887.2 L1170.8 886.4 L1172 886.2 L1173.2 885.9 L1174.4 885.4 L1175.6 884.7 L1176.8 884.5 L1178 884.3 L1179.2 883.3 L1180.4 882.3 L1181.6 881.9 L1182.8 882 L1184 881.9 L1185.2 881.4 L1186.4 880.7 L1187.6 879.9 L1188.8 879.5 L1190 879.5 L1191.2 879.2 L1192.4 878.7 L1193.6 878.6 L1194.8 878 L1196 878 L1197.2 877.6 L1198.4 877.2 L1199.6 877.6 L1200.8 877.2 L1202 876.7 L1203.2 876.4 L1204.4 875.9 L1205.6 875.6 L1206.8 875.3 L1208 874.9 L1209.2 874.8 L1210.4 874.1 L1211.6 874.2 L1212.8 874.3 L1214 874.1 L1215.2 873.7 L1216.4 873 L1217.6 872.5 L1218.8 872.1 L1220 872.2 L1221.2 872.2 L1222.4 872.3 L1223.6 871.2 L1224.8 871.1 L1226 871.2 L1227.2 871 L1228.4 870.6 L1229.6 870.1 L1230.8 869.9 L1232 869.1 L1233.2 869.1 L1234.4 868.9 L1235.6 868.5 L1236.8 868.3 L1238 868.3 L1239.2 868.1 L1240.4 867.8 L1241.6 867 L1242.8 866.7 L1244 866.6 L1245.2 866 L1246.4 865.8 L1247.6 865.1 L1248.8 865.1 L1250 865 L1251.2 864.3 L1252.4 864.8 L1253.6 864.2 L1254.8 863.3 L1256 863.7 L1257.2 863.9 L1258.4 863.8 L1259.6 863.6 L1260.8 863 L1262 863.1 L1263.2 863 L1264.4 862.4 L1265.6 862.6 L1266.8 862.3 L1268 861.8 L1269.2 861.5 L1270.4 862 L1271.6 862.5 L1272.8 862.3 L1274 861.7 L1275.2 861 L1276.4 860.7 L1277.6 860.6 L1278.8 860.8 L1280 860.6 L1281.2 860.2 L1282.4 859.1 L1283.6 858.9 L1284.8 859.2 L1285 859 L1285 919.8 L1284.8 919.6 L1283.6 919.8 L1282.4 920.4 L1281.2 921 L1280 920.9 L1278.8 920.5 L1277.6 921 L1276.4 921.5 L1275.2 921.6 L1274 921.9 L1272.8 922 L1271.6 922.3 L1270.4 922.5 L1269.2 923.2 L1268 922.6 L1266.8 923 L1265.6 923.8 L1264.4 923.6 L1263.2 924.4 L1262 924.7 L1260.8 924.8 L1259.6 925 L1258.4 925.5 L1257.2 925.9 L1256 925.7 L1254.8 926.3 L1253.6 927.2 L1252.4 927.5 L1251.2 927.8 L1250 927.9 L1248.8 928 L1247.6 927.7 L1246.4 927.4 L1245.2 927.9 L1244 928.7 L1242.8 929.5 L1241.6 929.4 L1240.4 929.1 L1239.2 929.7 L1238 930.4 L1236.8 931 L1235.6 931.6 L1234.4 931.8 L1233.2 932.3 L1232 932.8 L1230.8 933.3 L1229.6 933.7 L1228.4 933.4 L1227.2 933.7 L1226 934.3 L1224.8 934.1 L1223.6 935 L1222.4 936.3 L1221.2 936.3 L1220 936.5 L1218.8 937.2 L1217.6 937.5 L1216.4 938.2 L1215.2 938.9 L1214 939.2 L1212.8 939.8 L1211.6 940.3 L1210.4 940.9 L1209.2 941.7 L1208 942.1 L1206.8 942.5 L1205.6 943.2 L1204.4 943.9 L1203.2 944.3 L1202 945 L1200.8 945.6 L1199.6 945.9 L1198.4 945.8 L1197.2 945.6 L1196 946.5 L1194.8 947.3 L1193.6 947.7 L1192.4 947.9 L1191.2 948.6 L1190 949.3 L1188.8 949.7 L1187.6 949.9 L1186.4 950 L1185.2 949.7 L1184 949.6 L1182.8 949.9 L1181.6 950.6 L1180.4 950.6 L1179.2 950.9 L1178 951.2 L1176.8 951.2 L1175.6 950.9 L1174.4 950.7 L1173.2 951.8 L1172 952.4 L1170.8 952.9 L1169.6 952.7 L1168.4 953 L1167.2 953.8 L1166 954.1 L1164.8 954.2 L1163.6 954.1 L1162.4 954.1 L1161.2 954.4 L1160 954.7 L1158.8 955 L1157.6 955.1 L1156.4 955.4 L1155.2 956.3 L1154 956.6 L1152.8 956.9 L1151.6 957.5 L1150.4 957.9 L1149.2 957.7 L1148 957.3 L1146.8 958.3 L1145.6 958.9 L1144.4 959.2 L1143.2 959.1 L1142 959.6 L1140.8 960.2 L1139.6 960.2 L1138.4 960.3 L1137.2 960.5 L1136 961.4 L1134.8 961.8 L1133.6 962 L1132.4 962.6 L1131.2 962.6 L1130 962.9 L1128.8 963.4 L1127.6 964 L1126.4 964.9 L1125.2 965.2 L1124 965.5 L1122.8 966.5 L1121.6 966.8 L1120.4 966.8 L1119.2 967.2 L1118 967.4 L1116.8 967.8 L1115.6 968.2 L1114.4 969 L1113.2 969.3 L1112 969.3 L1110.8 970.2 L1109.6 970.9 L1108.4 970.6 L1107.2 971.1 L1106 971.6 L1104.8 971.4 L1103.6 971.7 L1102.4 972.1 L1101.2 972.3 L1100 972.9 L1098.8 973 L1097.6 972.8 L1096.4 973.3 L1095.2 973.2 L1094 973.2 L1092.8 973.5 L1091.6 973.9 L1090.4 974.2 L1089.2 974.5 L1088 974.6 L1086.8 975.1 L1085.6 975.7 L1084.4 975.8 L1083.2 975.5 L1082 975.6 L1080.8 976 L1079.6 976.6 L1078.4 976.5 L1077.2 976.4 L1076 976.9 L1074.8 977.4 L1073.6 977.4 L1072.4 977.8 L1071.2 978.4 L1070 978.1 L1068.8 978.3 L1067.6 978.3 L1066.4 978.5 L1065.2 978.9 L1064 979.2 L1062.8 979.7 L1061.6 980.4 L1060.4 980.8 L1059.2 980.8 L1058 981.5 L1056.8 982.8 L1055.6 983.3 L1054.4 983.7 L1053.2 983.7 L1052 983.1 L1050.8 983.6 L1049.6 984.7 L1048.4 985.4 L1047.2 985.8 L1046 986.8 L1044.8 987.3 L1043.6 987.7 L1042.4 987.8 L1041.2 988.5 L1040 989.1 L1038.8 990 L1037.6 990.8 L1036.4 991 L1035.2 992 L1034 992.7 L1032.8 992.9 L1031.6 991.7 L1030.4 990.1 L1029.2 990.4 L1028 990.6 L1026.8 990.9 L1025.6 991.1 L1024.4 990.9 L1023.2 991.9 L1022 992.6 L1020.8 992.6 L1019.6 993.1 L1018.4 994.2 L1017.2 994.8 L1016 995.1 L1014.8 995.4 L1013.6 995.9 L1012.4 996.4 L1011.2 997.3 L1010 998 L1008.8 998.3 L1007.6 999.1 L1006.4 999.6 L1005.2 1000.2 L1004 1001 L1002.8 1001.4 L1001.6 1002.4 L1000.4 1003 L999.2 1003.7 L998 1004.3 L996.8 1004.7 L995.6 1005.2 L994.4 1005.8 L993.2 1006.8 L992 1007.4 L990.8 1007.8 L989.6 1007.8 L988.4 1008.3 L987.2 1009.3 L986 1010.4 L984.8 1011.4 L983.6 1011.6 L982.4 1011.6 L981.2 1012.2 L980 1013.2 L978.8 1014.2 L977.6 1015.2 L976.4 1015.4 L975.2 1015.4 L974 1015.8 L972.8 1016.8 L971.6 1017.2 L970.4 1017.7 L969.2 1018.4 L968 1018.4 L966.8 1018.8 L965.6 1019.8 L964.4 1020.4 L963.2 1020.4 L962 1020.6 L960.8 1020.7 L959.6 1021.6 L958.4 1022.1 L957.2 1021.9 L956 1022.1 L954.8 1022 L953.6 1022.4 L952.4 1022.5 L951.2 1023 L950 1023.8 L948.8 1024.2 L947.6 1023.9 L946.4 1023.6 L945.2 1024.1 L944 1025 L942.8 1025.6 L941.6 1025.6 L940.4 1025.9 L939.2 1026.5 L938 1027.2 L936.8 1027.7 L935.6 1027.5 L934.4 1027.8 L933.2 1027.9 L932 1028.2 L930.8 1028.7 L929.6 1029.2 L928.4 1029.9 L927.2 1030.3 L926 1030.7 L924.8 1031.1 L923.6 1031.4 L922.4 1031.4 L921.2 1031.8 L920 1032.6 L918.8 1032.9 L917.6 1032.7 L916.4 1033.3 L915.2 1034.1 L914 1034.6 L912.8 1034.9 L911.6 1035.6 L910.4 1036.2 L909.2 1036.4 L908 1037.2 L906.8 1037.2 L905.6 1036.8 L904.4 1037.3 L903.2 1038.3 L902 1039 L900.8 1039.2 L899.6 1039 L898.4 1039.3 L897.2 1039.7 L896 1040 L894.8 1040.3 L893.6 1040.9 L892.4 1041.9 L891.2 1041.7 L890 1041.8 L888.8 1042.2 L887.6 1042.5 L886.4 1042.6 L885.2 1043 L884 1043.8 L882.8 1044.3 L881.6 1044.5 L880.4 1045 L879.2 1045.8 L878 1046.5 L876.8 1046.5 L875.6 1046.5 L874.4 1046.8 L873.2 1047 L872 1048.1 L870.8 1049.1 L869.6 1048.8 L868.4 1048.9 L867.2 1049.8 L866 1050.1 L864.8 1050.1 L863.6 1050.7 L862.4 1051.4 L861.2 1051.2 L860 1051.4 L858.8 1052.4 L857.6 1053 L856.4 1053.3 L855.2 1053.8 L854 1054.4 L852.8 1055.1 L851.6 1055.2 L850.4 1055.1 L849.2 1055.5 L848 1056.5 L846.8 1057.7 L845.6 1057.9 L844.4 1058.2 L843.2 1059.1 L842 1060.3 L840.8 1060.6 L839.6 1060.7 L838.4 1061.2 L837.2 1061.9 L836 1062.8 L834.8 1063 L833.6 1063.3 L832.4 1064.3 L831.2 1065.1 L830 1065.9 L828.8 1066.8 L827.6 1067.4 L826.4 1068.2 L825.2 1069.1 L824 1070 L822.8 1071.1 L821.6 1071.7 L820.4 1072 L819.2 1072.6 L818 1073.9 L816.8 1075 L815.6 1075.6 L814.4 1076 L813.2 1076.3 L812 1076.6 L810.8 1077.2 L809.6 1077.9 L808.4 1078.3 L807.2 1079 L806 1079.3 L804.8 1079.5 L803.6 1080.3 L802.4 1080.4 L801.2 1080.1 L800 1080.4 L798.8 1080.9 L797.6 1081.9 L796.4 1082.5 L795.2 1083 L794 1083.3 L792.8 1083.7 L791.6 1084.5 L790.4 1085 L789.2 1085 L788 1085.3 L786.8 1086.6 L785.6 1087.2 L784.4 1087.4 L783.2 1088.6 L782 1088.9 L780.8 1089.4 L779.6 1090.6 L778.4 1091 L777.2 1091.3 L776 1091.7 L774.8 1091.9 L773.6 1092.1 L772.4 1092.7 L771.2 1093.6 L770 1093.7 L768.8 1094.3 L767.6 1095 L766.4 1095.7 L765.2 1096.1 L764 1096.9 L762.8 1097.7 L761.6 1097.9 L760.4 1098.3 L759.2 1099 L758 1099.8 L756.8 1099.6 L755.6 1100.3 L754.4 1101.2 L753.2 1101.5 L752 1101.8 L750.8 1102.5 L749.6 1104.2 L748.4 1104.8 L747.2 1105.4 L746 1106.8 L744.8 1106.7 L743.6 1107.7 L742.4 1108.9 L741.2 1109.3 L740 1110.1 L738.8 1111 L737.6 1112.1 L736.4 1113.3 L735.2 1114 L734 1114.8 L732.8 1115.8 L731.6 1116.5 L730.4 1117.7 L729.2 1118.4 L728 1119.1 L726.8 1119.8 L725.6 1120.4 L724.4 1121.6 L723.2 1122.6 L722 1123.6 L720.8 1125.2 L719.6 1126.4 L718.4 1127.2 L717.2 1127.4 L716 1128.2 L714.8 1129.1 L713.6 1130.5 L712.4 1131.5 L711.2 1131.9 L710 1132.8 L708.8 1133.4 L707.6 1134.2 L706.4 1135.3 L705.2 1136.1 L704 1137.2 L702.8 1138.9 L701.6 1140.3 L700.4 1141.1 L699.2 1141.9 L698 1142.9 L696.8 1144.7 L695.6 1145.8 L694.4 1147.3 L693.2 1148.3 L692 1149.2 L690.8 1150.3 L689.6 1151 L688.4 1151.9 L687.2 1153.5 L686 1154.5 L684.8 1155.9 L683.6 1157.5 L682.4 1158.5 L681.2 1159.8 L680 1160.8 L678.8 1161.6 L677.6 1162.5 L676.4 1163.1 L675.2 1163.7 L674 1165 L672.8 1166.1 L671.6 1166.9 L670.4 1167.8 L669.2 1168.7 L668 1170 L666.8 1170.9 L665.6 1172.2 L664.4 1173.3 L663.2 1174.4 L662 1175.5 L660.8 1175.8 L659.6 1176.7 L658.4 1177.4 L657.2 1178.3 L656 1179.7 L654.8 1180.7 L653.6 1181.6 L652.4 1182.3 L651.2 1183.7 L650 1185.2 L648.8 1185.6 L647.6 1186.8 L646.4 1188.3 L645.2 1189.9 L644 1192 L642.8 1193.4 L641.6 1194.9 L640.4 1196.2 L639.2 1197.4 L638 1198.8 L637.8 1198.8 L637.6 1198.9 L637.4 1199.2 L637.2 1199.5 L637 1199.7 L636.8 1199.6 L636.6 1199.6 L636.4 1199.9 L636.2 1200.2 L636 1200.2 L635.8 1200.2 L635.6 1200.5 L635.4 1200.7 L635.2 1200.9 L635 1201.2 L634.8 1201.4 L634.6 1201.7 L634.4 1201.8 L634.2 1202 L634 1202.4 L633.8 1202.6 L633.6 1202.8 L633.4 1203.2 L633.2 1203.5 L633 1203.9 L632.8 1204.3 L632.6 1204.7 L632.4 1205.3 L632.2 1205.7 L632 1206.2 L631.8 1206.8 L631.6 1207.3 L631.4 1207.9 L631.2 1208.6 L631 1209.3 L630.8 1210.2 L630.6 1211.3 L630.4 1212.4 L630.2 1213.6 L630 1215 L629.8 1216.5 L629.6 1218.1 L629.4 1219.8 L629.2 1221.5 L629 1223.2 L628.8 1224.9 L628.6 1226.6 L628.4 1228.4 L628.2 1230.2 L628 1232 L627.8 1233.9 L627.6 1235.9 L627.4 1237.9 L627.2 1240 L627 1242.1 L626.8 1244.3 L626.6 1246.5 L626.4 1248.8 L626.2 1251.1 L626 1253.5Z" fill="#B0B0B0" fill-opacity="0.5" stroke="none"/>
<path d="M626 1253.5 L626.2 1248 L626.4 1242.6 L626.6 1237.5 L626.8 1232.7 L627 1228.3 L627.2 1224.5 L627.4 1221.3 L627.6 1218.8 L627.8 1216.5 L628 1214.3 L628.2 1212.3 L628.4 1210.4 L628.6 1208.7 L628.8 1207 L629 1205.6 L629.2 1204.2 L629.4 1203 L629.6 1201.9 L629.8 1200.9 L630 1200 L630.2 1199.4 L630.4 1198.8 L630.6 1198.2 L630.8 1197.7 L631 1197.2 L631.2 1196.7 L631.4 1196.3 L631.6 1195.9 L631.8 1195.5 L632 1195.2 L632.2 1194.8 L632.4 1194.5 L632.6 1194.2 L632.8 1193.9 L633 1193.7 L633.2 1193.4 L633.4 1193.2 L633.6 1193 L633.8 1192.7 L634 1192.5 L634.2 1192.3 L634.4 1192 L634.6 1191.7 L634.8 1191.3 L635 1191 L635.2 1190.7 L635.4 1190.4 L635.6 1190.1 L635.8 1189.9 L636 1189.6 L636.2 1189.2 L636.4 1188.9 L636.6 1188.6 L636.8 1188.4 L637 1188.2 L637.2 1187.6 L637.4 1187.3 L637.6 1187 L637.8 1186.6 L638 1186 L639.2 1183.8 L640.4 1181.9 L641.6 1180.2 L642.8 1178.6 L644 1177.2 L645.2 1175.6 L646.4 1174 L647.6 1173 L648.8 1171.6 L650 1170.3 L651.2 1168.6 L652.4 1167.4 L653.6 1166 L654.8 1164.2 L656 1162.7 L657.2 1160.8 L658.4 1159.4 L659.6 1158.2 L660.8 1157 L662 1155.5 L663.2 1154.1 L664.4 1152.5 L665.6 1150.7 L666.8 1148.7 L668 1147.6 L669.2 1146.2 L670.4 1144.5 L671.6 1143 L672.8 1141.4 L674 1140.2 L675.2 1138.9 L676.4 1137.6 L677.6 1136.7 L678.8 1135.3 L680 1134 L681.2 1133.1 L682.4 1131.9 L683.6 1130.7 L684.8 1129.8 L686 1128.7 L687.2 1127.4 L688.4 1126.6 L689.6 1125 L690.8 1123.4 L692 1122.4 L693.2 1121.5 L694.4 1120.6 L695.6 1119.3 L696.8 1118.2 L698 1117.5 L699.2 1116.1 L700.4 1114.5 L701.6 1113.5 L702.8 1112.5 L704 1111 L705.2 1109.2 L706.4 1108.2 L707.6 1107 L708.8 1106.1 L710 1105 L711.2 1103.5 L712.4 1102.2 L713.6 1101 L714.8 1099.9 L716 1099 L717.2 1097.9 L718.4 1097 L719.6 1096.4 L720.8 1095.2 L722 1093.4 L723.2 1092.5 L724.4 1092.1 L725.6 1090.8 L726.8 1089.4 L728 1088.7 L729.2 1087.7 L730.4 1086.8 L731.6 1085.9 L732.8 1084.6 L734 1083.5 L735.2 1082.7 L736.4 1081.7 L737.6 1081 L738.8 1080.3 L740 1079 L741.2 1078.3 L742.4 1077.4 L743.6 1076.6 L744.8 1076 L746 1075 L747.2 1073.7 L748.4 1072.6 L749.6 1072 L750.8 1071.5 L752 1070.2 L753.2 1069.2 L754.4 1068.4 L755.6 1067.7 L756.8 1067 L758 1065.8 L759.2 1064.7 L760.4 1064.3 L761.6 1063.7 L762.8 1062.2 L764 1061.3 L765.2 1061 L766.4 1060.2 L767.6 1059.3 L768.8 1058.5 L770 1058 L771.2 1057.1 L772.4 1055.9 L773.6 1054.6 L774.8 1053.8 L776 1053.3 L777.2 1052.4 L778.4 1051.7 L779.6 1051.5 L780.8 1050.8 L782 1049.9 L783.2 1049.4 L784.4 1049.1 L785.6 1048.7 L786.8 1047.7 L788 1046.9 L789.2 1047.1 L790.4 1046.7 L791.6 1046 L792.8 1045.6 L794 1044.9 L795.2 1044.3 L796.4 1043.6 L797.6 1043.2 L798.8 1042.8 L800 1042.3 L801.2 1042.1 L802.4 1041.6 L803.6 1041.1 L804.8 1040.5 L806 1039.6 L807.2 1039.2 L808.4 1038.8 L809.6 1038.2 L810.8 1037.5 L812 1036.9 L813.2 1036.1 L814.4 1035.2 L815.6 1034.7 L816.8 1034.6 L818 1034.2 L819.2 1033.6 L820.4 1033.4 L821.6 1032.8 L822.8 1032.2 L824 1031.8 L825.2 1031.5 L826.4 1030.9 L827.6 1030.1 L828.8 1029.9 L830 1029.3 L831.2 1028.7 L832.4 1028.6 L833.6 1028 L834.8 1027 L836 1026.3 L837.2 1025.6 L838.4 1025.3 L839.6 1024.8 L840.8 1024.5 L842 1024.1 L843.2 1023.3 L844.4 1023.1 L845.6 1022.5 L846.8 1021.9 L848 1021.5 L849.2 1021.4 L850.4 1021.1 L851.6 1020.3 L852.8 1020.2 L854 1019.9 L855.2 1019.3 L856.4 1019 L857.6 1018.3 L858.8 1017.7 L860 1017.4 L861.2 1016.8 L862.4 1016 L863.6 1015.4 L864.8 1015.2 L866 1014.9 L867.2 1014.7 L868.4 1014.2 L869.6 1013.6 L870.8 1013.2 L872 1012.6 L873.2 1012.1 L874.4 1011.9 L875.6 1011.9 L876.8 1011.7 L878 1010.8 L879.2 1010 L880.4 1009.6 L881.6 1009.2 L882.8 1009.3 L884 1009.1 L885.2 1008.3 L886.4 1007.5 L887.6 1006.9 L888.8 1006.5 L890 1005.8 L891.2 1005.2 L892.4 1005.2 L893.6 1005.1 L894.8 1004.5 L896 1004 L897.2 1003.8 L898.4 1003.4 L899.6 1002.8 L900.8 1002.3 L902 1002.2 L903.2 1002.2 L904.4 1001.4 L905.6 1000.6 L906.8 1000.3 L908 999.7 L909.2 999.2 L910.4 998.9 L911.6 998.4 L912.8 997.7 L914 997.3 L915.2 997 L916.4 996.5 L917.6 996.4 L918.8 995.8 L920 995.3 L921.2 994.9 L922.4 994.5 L923.6 993.9 L924.8 993.5 L926 993.2 L927.2 992.6 L928.4 992 L929.6 991.8 L930.8 991.3 L932 990.5 L933.2 990.3 L934.4 990.2 L935.6 989.9 L936.8 989.4 L938 988.7 L939.2 988.5 L940.4 988.4 L941.6 987.7 L942.8 987.1 L944 986.5 L945.2 986 L946.4 985.4 L947.6 985.2 L948.8 985 L950 984.6 L951.2 984.1 L952.4 983.9 L953.6 983.3 L954.8 982.7 L956 982.4 L957.2 981.9 L958.4 981.3 L959.6 981.2 L960.8 981 L962 979.8 L963.2 979.2 L964.4 979.2 L965.6 978.7 L966.8 978.4 L968 977.9 L969.2 977.4 L970.4 976.9 L971.6 976.8 L972.8 976.4 L974 975.9 L975.2 976 L976.4 976 L977.6 975.7 L978.8 975.6 L980 975.3 L981.2 974.8 L982.4 974.8 L983.6 974.4 L984.8 974.1 L986 973.9 L987.2 973.2 L988.4 973.1 L989.6 973.2 L990.8 972.5 L992 972.1 L993.2 972.1 L994.4 971.6 L995.6 971.5 L996.8 971.2 L998 970.2 L999.2 970 L1000.4 969.9 L1001.6 969.6 L1002.8 969.4 L1004 969 L1005.2 968.9 L1006.4 968.7 L1007.6 968.6 L1008.8 968.7 L1010 968.2 L1011.2 967.8 L1012.4 967.6 L1013.6 967.3 L1014.8 967.5 L1016 967.1 L1017.2 966.5 L1018.4 966.5 L1019.6 966.3 L1020.8 965.5 L1022 965.6 L1023.2 965.4 L1024.4 965 L1025.6 964.6 L1026.8 964.1 L1028 963.8 L1029.2 963.5 L1030.4 963.3 L1031.6 962.4 L1032.8 961 L1034 960.6 L1035.2 960.4 L1036.4 959.9 L1037.6 959.5 L1038.8 958.9 L1040 958.9 L1041.2 958.5 L1042.4 957.7 L1043.6 957.5 L1044.8 957.1 L1046 956.6 L1047.2 956.3 L1048.4 955.7 L1049.6 955.5 L1050.8 955.2 L1052 954.8 L1053.2 954.8 L1054.4 954.1 L1055.6 953.6 L1056.8 953.6 L1058 953.3 L1059.2 953.2 L1060.4 952.8 L1061.6 952.3 L1062.8 951.9 L1064 951.3 L1065.2 951.5 L1066.4 950.8 L1067.6 950.4 L1068.8 950.3 L1070 949.7 L1071.2 949.4 L1072.4 949.2 L1073.6 948.9 L1074.8 948.6 L1076 948.1 L1077.2 947.4 L1078.4 947.4 L1079.6 947.9 L1080.8 947.5 L1082 946.7 L1083.2 946.1 L1084.4 945.9 L1085.6 945.8 L1086.8 945.3 L1088 944.9 L1089.2 944.9 L1090.4 944.8 L1091.6 944.4 L1092.8 944 L1094 943.6 L1095.2 943.2 L1096.4 943.1 L1097.6 942.7 L1098.8 942.3 L1100 942.2 L1101.2 942 L1102.4 941.1 L1103.6 940.3 L1104.8 940.3 L1106 940.4 L1107.2 940 L1108.4 939.4 L1109.6 939.1 L1110.8 939.1 L1112 938.8 L1113.2 938.2 L1114.4 937.8 L1115.6 937.6 L1116.8 937.5 L1118 937.2 L1119.2 936.5 L1120.4 935.8 L1121.6 936 L1122.8 935.7 L1124 935.1 L1125.2 935.2 L1126.4 934.7 L1127.6 934.4 L1128.8 934.5 L1130 934 L1131.2 932.9 L1132.4 933.1 L1133.6 933.1 L1134.8 932.6 L1136 932.4 L1137.2 932.3 L1138.4 932 L1139.6 931.6 L1140.8 931.5 L1142 930.9 L1143.2 930.6 L1144.4 930.2 L1145.6 929.7 L1146.8 929.9 L1148 929.1 L1149.2 928 L1150.4 927.9 L1151.6 927.7 L1152.8 927.5 L1154 927.2 L1155.2 927.2 L1156.4 926.8 L1157.6 926 L1158.8 925.7 L1160 925.4 L1161.2 925 L1162.4 925 L1163.6 924.8 L1164.8 924.4 L1166 923.7 L1167.2 923.3 L1168.4 923.1 L1169.6 922.5 L1170.8 921.8 L1172 921.6 L1173.2 921.2 L1174.4 921 L1175.6 920.8 L1176.8 920.2 L1178 920.2 L1179.2 920 L1180.4 918.7 L1181.6 918.3 L1182.8 918.2 L1184 917.7 L1185.2 917.3 L1186.4 917 L1187.6 916.3 L1188.8 915.4 L1190 915.7 L1191.2 915.8 L1192.4 915.5 L1193.6 915 L1194.8 914.2 L1196 913.9 L1197.2 913.7 L1198.4 912.8 L1199.6 912.6 L1200.8 912.2 L1202 911.9 L1203.2 911.8 L1204.4 911.3 L1205.6 911 L1206.8 910.3 L1208 909.9 L1209.2 909.8 L1210.4 909.3 L1211.6 908.8 L1212.8 908.4 L1214 908 L1215.2 907.7 L1216.4 907.2 L1217.6 906.9 L1218.8 906.5 L1220 905.7 L1221.2 905.4 L1222.4 905.2 L1223.6 904.4 L1224.8 903.9 L1226 903.7 L1227.2 903.5 L1228.4 903.1 L1229.6 902.8 L1230.8 902.4 L1232 901.5 L1233.2 901.2 L1234.4 901.3 L1235.6 901 L1236.8 900.7 L1238 900.2 L1239.2 899.9 L1240.4 899.6 L1241.6 898.8 L1242.8 898.2 L1244 898.2 L1245.2 898 L1246.4 897.2 L1247.6 896.4 L1248.8 896.7 L1250 896.6 L1251.2 895.7 L1252.4 895.5 L1253.6 895.7 L1254.8 895.4 L1256 894.8 L1257.2 894.3 L1258.4 893.8 L1259.6 893.5 L1260.8 893.3 L1262 893.6 L1263.2 893.7 L1264.4 893 L1265.6 892 L1266.8 891.9 L1268 891.8 L1269.2 891.5 L1270.4 891.1 L1271.6 890.9 L1272.8 890.8 L1274 890.7 L1275.2 890.3 L1276.4 890 L1277.6 889.8 L1278.8 889.4 L1280 889.2 L1281.2 889 L1282.4 888.8 L1283.6 888.6 L1284.8 888.4 L1285 888.4 M1285.1 889V900" stroke="#515151" stroke-width="4.4"/>
<path d="M626 1253.5 L626.2 1248.2 L626.4 1243 L626.6 1238 L626.8 1233.2 L627 1228.8 L627.2 1224.8 L627.4 1221.4 L627.6 1218.7 L627.8 1216.1 L628 1213.6 L628.2 1211.2 L628.4 1208.9 L628.6 1206.7 L628.8 1204.7 L629 1202.7 L629.2 1200.8 L629.4 1199 L629.6 1197.4 L629.8 1195.8 L630 1194.3 L630.2 1192.9 L630.4 1191.6 L630.6 1190.4 L630.8 1189.2 L631 1188.2 L631.2 1187.3 L631.4 1186.3 L631.6 1185.5 L631.8 1184.7 L632 1183.9 L632.2 1183.2 L632.4 1182.4 L632.6 1181.7 L632.8 1181 L633 1180.4 L633.2 1179.8 L633.4 1179.1 L633.6 1178.5 L633.8 1178 L634 1177.4 L634.2 1176.9 L634.4 1176.4 L634.6 1175.9 L634.8 1175.4 L635 1174.9 L635.2 1174.5 L635.4 1173.9 L635.6 1173.5 L635.8 1173.1 L636 1172.7 L636.2 1172.1 L636.4 1171.6 L636.6 1171 L636.8 1170.3 L637 1170 L637.2 1169.5 L637.4 1169.2 L637.6 1168.9 L637.8 1168.2 L638 1167.6 L639.2 1163.8 L640.4 1160.3 L641.6 1156.9 L642.8 1154.1 L644 1151.4 L645.2 1148.6 L646.4 1147.1 L647.6 1145.3 L648.8 1142.8 L650 1141.9 L651.2 1141.1 L652.4 1138.8 L653.6 1136.1 L654.8 1134.9 L656 1134.3 L657.2 1133.1 L658.4 1131.7 L659.6 1130.3 L660.8 1129.3 L662 1128 L663.2 1126.4 L664.4 1125.3 L665.6 1124.7 L666.8 1123.7 L668 1123 L669.2 1121.9 L670.4 1120.6 L671.6 1119.3 L672.8 1118.2 L674 1117.8 L675.2 1117 L676.4 1116.1 L677.6 1115.3 L678.8 1114.4 L680 1113.5 L681.2 1112.9 L682.4 1112.4 L683.6 1111.3 L684.8 1110.3 L686 1109.6 L687.2 1109 L688.4 1108.8 L689.6 1108 L690.8 1106.9 L692 1106.1 L693.2 1105.4 L694.4 1104.7 L695.6 1103.5 L696.8 1103.1 L698 1103.3 L699.2 1102.6 L700.4 1101.3 L701.6 1100.7 L702.8 1100.3 L704 1099.3 L705.2 1098.3 L706.4 1097.7 L707.6 1096.3 L708.8 1095.4 L710 1095.5 L711.2 1095 L712.4 1094.2 L713.6 1093.2 L714.8 1092.8 L716 1092.6 L717.2 1092.2 L718.4 1092.1 L719.6 1091.4 L720.8 1090.6 L722 1090.1 L723.2 1090.2 L724.4 1089.6 L725.6 1089 L726.8 1088 L728 1086.5 L729.2 1086.5 L730.4 1086.2 L731.6 1085.8 L732.8 1085.6 L734 1085.1 L735.2 1084.4 L736.4 1083.6 L737.6 1083.5 L738.8 1082.9 L740 1082.4 L741.2 1082.4 L742.4 1081.9 L743.6 1081 L744.8 1080.8 L746 1080.6 L747.2 1079.5 L748.4 1079 L749.6 1078.9 L750.8 1078.6 L752 1078.8 L753.2 1078.6 L754.4 1077.7 L755.6 1076.9 L756.8 1076.7 L758 1076.5 L759.2 1076.3 L760.4 1075.9 L761.6 1075.3 L762.8 1074.6 L764 1074 L765.2 1073.8 L766.4 1073.1 L767.6 1072.7 L768.8 1072.4 L770 1071.8 L771.2 1071.2 L772.4 1071 L773.6 1070.3 L774.8 1070 L776 1070.2 L777.2 1069.7 L778.4 1069.5 L779.6 1069 L780.8 1068.5 L782 1068.3 L783.2 1068 L784.4 1067.4 L785.6 1066.8 L786.8 1066.2 L788 1066.5 L789.2 1066.4 L790.4 1066.2 L791.6 1065.8 L792.8 1065.2 L794 1064.5 L795.2 1064.3 L796.4 1064.1 L797.6 1063.6 L798.8 1063.4 L800 1062.7 L801.2 1062 L802.4 1062.3 L803.6 1062.3 L804.8 1062 L806 1061.9 L807.2 1061.2 L808.4 1061.4 L809.6 1061.3 L810.8 1060.9 L812 1060.5 L813.2 1060 L814.4 1059.7 L815.6 1059.6 L816.8 1059.4 L818 1059 L819.2 1058.9 L820.4 1059.1 L821.6 1058.9 L822.8 1058.1 L824 1058 L825.2 1057.7 L826.4 1057.2 L827.6 1057.4 L828.8 1057.5 L830 1057 L831.2 1056.4 L832.4 1056.7 L833.6 1056.7 L834.8 1055.9 L836 1055.5 L837.2 1055.3 L838.4 1054.5 L839.6 1054.8 L840.8 1055 L842 1054.7 L843.2 1054.6 L844.4 1054.1 L845.6 1054.1 L846.8 1054 L848 1053.4 L849.2 1053.4 L850.4 1053.4 L851.6 1053 L852.8 1052.8 L854 1053.2 L855.2 1053.2 L856.4 1052.6 L857.6 1052.1 L858.8 1052.3 L860 1052.1 L861.2 1051 L862.4 1051.2 L863.6 1051.4 L864.8 1050.6 L866 1050.2 L867.2 1050.1 L868.4 1049.6 L869.6 1049.5 L870.8 1049.6 L872 1050 L873.2 1049.9 L874.4 1049.1 L875.6 1048.7 L876.8 1048.5 L878 1048.6 L879.2 1048.5 L880.4 1047.5 L881.6 1046.6 L882.8 1046.8 L884 1047.4 L885.2 1047 L886.4 1046.5 L887.6 1046.2 L888.8 1045.6 L890 1045.4 L891.2 1045.7 L892.4 1045.3 L893.6 1044.7 L894.8 1044.7 L896 1044.7 L897.2 1044.4 L898.4 1044.2 L899.6 1044.4 L900.8 1044.1 L902 1043.5 L903.2 1043.1 L904.4 1043.1 L905.6 1043 L906.8 1042.4 L908 1042.2 L909.2 1042.3 L910.4 1041.7 L911.6 1042.4 L912.8 1042.9 L914 1041.7 L915.2 1041.3 L916.4 1041.7 L917.6 1041.4 L918.8 1040.8 L920 1041.2 L921.2 1041.3 L922.4 1041.2 L923.6 1041.2 L924.8 1040.8 L926 1040.6 L927.2 1040.6 L928.4 1040.7 L929.6 1040.5 L930.8 1040.1 L932 1040.2 L933.2 1040.2 L934.4 1040 L935.6 1039.6 L936.8 1038.8 L938 1039 L939.2 1039.2 L940.4 1038.6 L941.6 1038.6 L942.8 1039 L944 1038.6 L945.2 1038 L946.4 1038 L947.6 1037.9 L948.8 1037.7 L950 1036.9 L951.2 1036.9 L952.4 1037 L953.6 1037.3 L954.8 1037 L956 1036.5 L957.2 1036.4 L958.4 1036.4 L959.6 1036.8 L960.8 1036.5 L962 1035.9 L963.2 1035.7 L964.4 1035.3 L965.6 1035.3 L966.8 1035.2 L968 1034.7 L969.2 1034.2 L970.4 1034 L971.6 1034.8 L972.8 1034.5 L974 1033.8 L975.2 1033.5 L976.4 1034.2 L977.6 1034 L978.8 1032.9 L980 1032.9 L981.2 1033.3 L982.4 1033.7 L983.6 1033.7 L984.8 1033.8 L986 1034.2 L987.2 1034.5 L988.4 1034.4 L989.6 1033.3 L990.8 1032.7 L992 1033.3 L993.2 1033.8 L994.4 1033.1 L995.6 1033.2 L996.8 1033.8 L998 1033.7 L999.2 1033.2 L1000.4 1032.6 L1001.6 1032.4 L1002.8 1032.2 L1004 1032.2 L1005.2 1031.9 L1006.4 1032.2 L1007.6 1032.5 L1008.8 1031.9 L1010 1031.1 L1011.2 1031.5 L1012.4 1031.3 L1013.6 1030.6 L1014.8 1030.6 L1016 1030.5 L1017.2 1030.8 L1018.4 1031.1 L1019.6 1030.9 L1020.8 1030.1 L1022 1030 L1023.2 1030.3 L1024.4 1029.9 L1025.6 1029.9 L1026.8 1029.4 L1028 1028.6 L1029.2 1028.6 L1030.4 1028.5 L1031.6 1028.8 L1032.8 1028.8 L1034 1028.5 L1035.2 1028.7 L1036.4 1028.7 L1037.6 1028.2 L1038.8 1027.9 L1040 1027.7 L1041.2 1027.5 L1042.4 1027.5 L1043.6 1027.3 L1044.8 1027.4 L1046 1027.3 L1047.2 1026.9 L1048.4 1027 L1049.6 1026.8 L1050.8 1026.3 L1052 1026.4 L1053.2 1026.1 L1054.4 1025.8 L1055.6 1025.3 L1056.8 1025.4 L1058 1025.1 L1059.2 1024.8 L1060.4 1024.7 L1061.6 1024.1 L1062.8 1024.4 L1064 1024.3 L1065.2 1024.6 L1066.4 1024.2 L1067.6 1023.7 L1068.8 1023.9 L1070 1023.8 L1071.2 1023.5 L1072.4 1022.8 L1073.6 1022.9 L1074.8 1023.2 L1076 1022.9 L1077.2 1022.6 L1078.4 1022.6 L1079.6 1022.7 L1080.8 1022.4 L1082 1021.8 L1083.2 1021.7 L1084.4 1021.5 L1085.6 1021.2 L1086.8 1021 L1088 1020.6 L1089.2 1020.9 L1090.4 1020.5 L1091.6 1020.5 L1092.8 1020.2 L1094 1020.1 L1095.2 1019.9 L1096.4 1020 L1097.6 1019.9 L1098.8 1019.1 L1100 1018.5 L1101.2 1018.2 L1102.4 1018.8 L1103.6 1018.5 L1104.8 1017.5 L1106 1017.6 L1107.2 1018.2 L1108.4 1017.6 L1109.6 1016.9 L1110.8 1016.7 L1112 1016.8 L1113.2 1016.9 L1114.4 1017.3 L1115.6 1016.7 L1116.8 1015.8 L1118 1015.3 L1119.2 1014.8 L1120.4 1014.9 L1121.6 1014.7 L1122.8 1014.9 L1124 1015 L1125.2 1014.5 L1126.4 1014.6 L1127.6 1014.1 L1128.8 1013.8 L1130 1014 L1131.2 1013.6 L1132.4 1013.5 L1133.6 1013 L1134.8 1012.9 L1136 1013.3 L1137.2 1012.4 L1138.4 1012 L1139.6 1012.3 L1140.8 1012.1 L1142 1011.9 L1143.2 1011.6 L1144.4 1011.3 L1145.6 1011.4 L1146.8 1011 L1148 1010.3 L1149.2 1010.3 L1150.4 1009.9 L1151.6 1009.6 L1152.8 1010.1 L1154 1009.7 L1155.2 1009.8 L1156.4 1009.4 L1157.6 1008.2 L1158.8 1008.2 L1160 1008.3 L1161.2 1008.6 L1162.4 1008.9 L1163.6 1008 L1164.8 1007.6 L1166 1007.5 L1167.2 1008.1 L1168.4 1008 L1169.6 1007.3 L1170.8 1007 L1172 1006.6 L1173.2 1006.2 L1174.4 1005.7 L1175.6 1005.6 L1176.8 1005.5 L1178 1005.1 L1179.2 1004.9 L1180.4 1004.8 L1181.6 1004 L1182.8 1004.1 L1184 1004.4 L1185.2 1004.4 L1186.4 1004 L1187.6 1003.3 L1188.8 1003 L1190 1003 L1191.2 1003.1 L1192.4 1003.1 L1193.6 1003 L1194.8 1003 L1196 1002.7 L1197.2 1002.2 L1198.4 1002.2 L1199.6 1002.1 L1200.8 1001.6 L1202 1001 L1203.2 1000.9 L1204.4 1000.9 L1205.6 1000.3 L1206.8 999.9 L1208 999.5 L1209.2 999.4 L1210.4 998.9 L1211.6 999.1 L1212.8 998.8 L1214 998.6 L1215.2 998.8 L1216.4 998.7 L1217.6 998.3 L1218.8 997.6 L1220 997.4 L1221.2 997.7 L1222.4 998 L1223.6 997.9 L1224.8 997.4 L1226 997.1 L1227.2 996 L1228.4 995.3 L1229.6 995.3 L1230.8 995.3 L1232 995.4 L1233.2 995.2 L1234.4 995 L1235.6 994.7 L1236.8 994.4 L1238 994 L1239.2 994.1 L1240.4 993.9 L1241.6 993.9 L1242.8 993.6 L1244 993.2 L1245.2 992.9 L1246.4 992.9 L1247.6 992.7 L1248.8 991.7 L1250 991.4 L1251.2 991.5 L1252.4 991.5 L1253.6 991.2 L1254.8 991.2 L1256 991.1 L1257.2 990.6 L1258.4 990.6 L1259.6 990.4 L1260.8 990 L1262 989.3 L1263.2 988.8 L1264.4 988.7 L1265.6 988.5 L1266.8 988.1 L1268 987.9 L1269.2 987.8 L1270.4 987.5 L1271.6 987.7 L1272.8 987.6 L1274 986.9 L1275.2 986.7 L1276.4 986.1 L1277.6 985.7 L1278.8 985.4 L1280 985.2 L1281.2 984.9 L1282.4 984.6 L1283.6 984.4 L1284.8 984.4 L1285 985.1 L1285 1005.2 L1284.8 1005.5 L1283.6 1006.1 L1282.4 1006 L1281.2 1005.5 L1280 1006.4 L1278.8 1006.6 L1277.6 1006.2 L1276.4 1006.5 L1275.2 1006.6 L1274 1006.9 L1272.8 1007.3 L1271.6 1006.8 L1270.4 1006.3 L1269.2 1007 L1268 1007.1 L1266.8 1007.1 L1265.6 1007.1 L1264.4 1007.1 L1263.2 1007.4 L1262 1008.3 L1260.8 1008.3 L1259.6 1008.1 L1258.4 1008.4 L1257.2 1008.2 L1256 1008.6 L1254.8 1008.6 L1253.6 1008.3 L1252.4 1008.8 L1251.2 1009.3 L1250 1009 L1248.8 1009.3 L1247.6 1010.2 L1246.4 1010.2 L1245.2 1010.4 L1244 1011 L1242.8 1011.1 L1241.6 1011.3 L1240.4 1011.7 L1239.2 1011.3 L1238 1011 L1236.8 1011.4 L1235.6 1012.2 L1234.4 1012.2 L1233.2 1012.2 L1232 1012.5 L1230.8 1012.4 L1229.6 1012.8 L1228.4 1013.7 L1227.2 1014.5 L1226 1014.5 L1224.8 1013.9 L1223.6 1013.9 L1222.4 1014.7 L1221.2 1014.9 L1220 1015.7 L1218.8 1015.9 L1217.6 1014.9 L1216.4 1015.3 L1215.2 1016.3 L1214 1016.7 L1212.8 1016.9 L1211.6 1017.1 L1210.4 1017.2 L1209.2 1017.3 L1208 1017.6 L1206.8 1017.6 L1205.6 1017.7 L1204.4 1018.4 L1203.2 1018.3 L1202 1018.3 L1200.8 1019 L1199.6 1019.3 L1198.4 1019.6 L1197.2 1020.3 L1196 1020.3 L1194.8 1020.3 L1193.6 1020.6 L1192.4 1020.8 L1191.2 1021 L1190 1021.4 L1188.8 1022.1 L1187.6 1022.1 L1186.4 1022.6 L1185.2 1022.8 L1184 1022.5 L1182.8 1023.1 L1181.6 1023.3 L1180.4 1023.5 L1179.2 1023.7 L1178 1023.9 L1176.8 1024.3 L1175.6 1024.2 L1174.4 1024.4 L1173.2 1025.3 L1172 1025.7 L1170.8 1025.6 L1169.6 1025.5 L1168.4 1026.2 L1167.2 1026.9 L1166 1026.7 L1164.8 1026.7 L1163.6 1027.1 L1162.4 1027.6 L1161.2 1027.7 L1160 1028.1 L1158.8 1028.4 L1157.6 1028 L1156.4 1027.8 L1155.2 1028.5 L1154 1029.1 L1152.8 1029 L1151.6 1029 L1150.4 1029.2 L1149.2 1029.5 L1148 1029.7 L1146.8 1030.1 L1145.6 1030.1 L1144.4 1030.6 L1143.2 1031 L1142 1031 L1140.8 1030.9 L1139.6 1030.7 L1138.4 1030.9 L1137.2 1030.5 L1136 1031.3 L1134.8 1032.4 L1133.6 1032 L1132.4 1032.3 L1131.2 1032.9 L1130 1032.5 L1128.8 1032.5 L1127.6 1033.1 L1126.4 1033.3 L1125.2 1033.3 L1124 1033.9 L1122.8 1034.1 L1121.6 1034.1 L1120.4 1034.6 L1119.2 1035.4 L1118 1035.1 L1116.8 1035.4 L1115.6 1035.7 L1114.4 1035.7 L1113.2 1036.4 L1112 1037.2 L1110.8 1037.2 L1109.6 1036.7 L1108.4 1037.4 L1107.2 1037.7 L1106 1037.6 L1104.8 1037.7 L1103.6 1038.1 L1102.4 1038.3 L1101.2 1038.4 L1100 1038.6 L1098.8 1039.1 L1097.6 1038.9 L1096.4 1038.7 L1095.2 1039.1 L1094 1040.3 L1092.8 1040.3 L1091.6 1040 L1090.4 1040.4 L1089.2 1041 L1088 1041 L1086.8 1040.3 L1085.6 1040.6 L1084.4 1041.1 L1083.2 1041.7 L1082 1041.9 L1080.8 1042.3 L1079.6 1042.3 L1078.4 1041.8 L1077.2 1042.1 L1076 1042.7 L1074.8 1043.4 L1073.6 1043.4 L1072.4 1043.3 L1071.2 1043.3 L1070 1043.8 L1068.8 1044.1 L1067.6 1043.9 L1066.4 1044 L1065.2 1044.9 L1064 1045.5 L1062.8 1045.1 L1061.6 1045.6 L1060.4 1046.4 L1059.2 1046.5 L1058 1046.5 L1056.8 1046.7 L1055.6 1047.1 L1054.4 1047.6 L1053.2 1047.7 L1052 1047.6 L1050.8 1047.2 L1049.6 1047.4 L1048.4 1048.3 L1047.2 1047.8 L1046 1047.8 L1044.8 1048.7 L1043.6 1048.6 L1042.4 1048.2 L1041.2 1049.1 L1040 1049.4 L1038.8 1049.3 L1037.6 1049.5 L1036.4 1049.7 L1035.2 1050.4 L1034 1050.5 L1032.8 1050.1 L1031.6 1050.1 L1030.4 1050.5 L1029.2 1050.2 L1028 1050.2 L1026.8 1051.2 L1025.6 1051.5 L1024.4 1051.3 L1023.2 1051.3 L1022 1051.3 L1020.8 1051.2 L1019.6 1051.4 L1018.4 1051.6 L1017.2 1051.7 L1016 1051.7 L1014.8 1051.9 L1013.6 1052.1 L1012.4 1052.1 L1011.2 1052.7 L1010 1053.6 L1008.8 1053.9 L1007.6 1053.5 L1006.4 1053.9 L1005.2 1054.2 L1004 1054.3 L1002.8 1054.6 L1001.6 1054.6 L1000.4 1054.3 L999.2 1054.4 L998 1054.9 L996.8 1054.7 L995.6 1054.7 L994.4 1054.9 L993.2 1054.4 L992 1054.3 L990.8 1054.5 L989.6 1055.3 L988.4 1055.5 L987.2 1055 L986 1055.2 L984.8 1056 L983.6 1056.8 L982.4 1056.1 L981.2 1055.8 L980 1056.7 L978.8 1057.1 L977.6 1057 L976.4 1056.6 L975.2 1056.4 L974 1056.6 L972.8 1057 L971.6 1057.2 L970.4 1057.2 L969.2 1057.8 L968 1058.2 L966.8 1058.7 L965.6 1058.8 L964.4 1058.7 L963.2 1059 L962 1058.9 L960.8 1058.8 L959.6 1059.4 L958.4 1059.7 L957.2 1060 L956 1060.1 L954.8 1060.5 L953.6 1060.7 L952.4 1061.2 L951.2 1061.2 L950 1061.6 L948.8 1062.1 L947.6 1062 L946.4 1062.6 L945.2 1062.9 L944 1063.2 L942.8 1063.5 L941.6 1063.5 L940.4 1064 L939.2 1064.8 L938 1064.6 L936.8 1064.7 L935.6 1065.4 L934.4 1066 L933.2 1066.3 L932 1066.5 L930.8 1066.4 L929.6 1066.6 L928.4 1067.3 L927.2 1067.6 L926 1067.6 L924.8 1068 L923.6 1068.6 L922.4 1068.9 L921.2 1068.8 L920 1069.1 L918.8 1069.7 L917.6 1070.1 L916.4 1070.1 L915.2 1070.3 L914 1070.6 L912.8 1070.5 L911.6 1070.7 L910.4 1071.2 L909.2 1071.6 L908 1071.1 L906.8 1071.1 L905.6 1071.6 L904.4 1071.5 L903.2 1071.4 L902 1071.9 L900.8 1072.2 L899.6 1072.4 L898.4 1072.2 L897.2 1071.9 L896 1071.8 L894.8 1071.9 L893.6 1073.3 L892.4 1073.2 L891.2 1073.1 L890 1072.9 L888.8 1072.8 L887.6 1073.5 L886.4 1073.7 L885.2 1073.5 L884 1073.2 L882.8 1073.3 L881.6 1074.2 L880.4 1074.8 L879.2 1075.1 L878 1075.6 L876.8 1075.1 L875.6 1074.5 L874.4 1075.4 L873.2 1076.5 L872 1076.5 L870.8 1076.3 L869.6 1076.9 L868.4 1077.7 L867.2 1077.7 L866 1077.4 L864.8 1078.3 L863.6 1078.4 L862.4 1078.1 L861.2 1078.7 L860 1079.2 L858.8 1079.3 L857.6 1079.2 L856.4 1079.7 L855.2 1080 L854 1079.7 L852.8 1080.6 L851.6 1081.4 L850.4 1081.6 L849.2 1081.7 L848 1082.2 L846.8 1082 L845.6 1081.7 L844.4 1082 L843.2 1082.7 L842 1082.6 L840.8 1082.6 L839.6 1083.3 L838.4 1083.2 L837.2 1083.3 L836 1083.7 L834.8 1084.1 L833.6 1084 L832.4 1084.3 L831.2 1084.5 L830 1083.9 L828.8 1083.8 L827.6 1083.9 L826.4 1084.4 L825.2 1084.6 L824 1084.8 L822.8 1085 L821.6 1084.9 L820.4 1085.4 L819.2 1085.9 L818 1086.2 L816.8 1086.4 L815.6 1086.9 L814.4 1087.3 L813.2 1087.6 L812 1087.7 L810.8 1088 L809.6 1088.4 L808.4 1088.9 L807.2 1088.5 L806 1088.6 L804.8 1089.2 L803.6 1089.9 L802.4 1090.5 L801.2 1090.1 L800 1090.8 L798.8 1091.3 L797.6 1090.7 L796.4 1091 L795.2 1091.8 L794 1091.7 L792.8 1091.9 L791.6 1092.5 L790.4 1092.9 L789.2 1093.3 L788 1093.3 L786.8 1093.8 L785.6 1094.1 L784.4 1094.6 L783.2 1095.3 L782 1095.2 L780.8 1095.2 L779.6 1095.7 L778.4 1095.6 L777.2 1096.2 L776 1097 L774.8 1096.9 L773.6 1097.3 L772.4 1097.8 L771.2 1097.9 L770 1098.4 L768.8 1099.1 L767.6 1099.3 L766.4 1100.2 L765.2 1100.5 L764 1100.7 L762.8 1101.2 L761.6 1100.7 L760.4 1101.5 L759.2 1102.2 L758 1102.1 L756.8 1102.5 L755.6 1103.1 L754.4 1103.3 L753.2 1103.4 L752 1104.3 L750.8 1105.2 L749.6 1105.4 L748.4 1106 L747.2 1106.6 L746 1106.2 L744.8 1106.4 L743.6 1106.9 L742.4 1107.4 L741.2 1108 L740 1108.6 L738.8 1108.9 L737.6 1109.2 L736.4 1110.2 L735.2 1110.7 L734 1110.9 L732.8 1111.8 L731.6 1112.2 L730.4 1111.9 L729.2 1112.6 L728 1113.9 L726.8 1114.2 L725.6 1114.4 L724.4 1115.4 L723.2 1115.7 L722 1115.5 L720.8 1116.1 L719.6 1117.1 L718.4 1117.5 L717.2 1117.3 L716 1117.5 L714.8 1118.3 L713.6 1118.7 L712.4 1119.8 L711.2 1120.2 L710 1119.8 L708.8 1121 L707.6 1122 L706.4 1122.3 L705.2 1122.7 L704 1123.4 L702.8 1124.2 L701.6 1124.5 L700.4 1125.3 L699.2 1126.1 L698 1125.9 L696.8 1125.9 L695.6 1127 L694.4 1127.7 L693.2 1128 L692 1128.7 L690.8 1129.5 L689.6 1129.9 L688.4 1130.2 L687.2 1130.7 L686 1131.7 L684.8 1132.6 L683.6 1132.5 L682.4 1133 L681.2 1133.5 L680 1134.6 L678.8 1135.7 L677.6 1136.1 L676.4 1136.8 L675.2 1137.4 L674 1138.4 L672.8 1139.3 L671.6 1139.2 L670.4 1139.9 L669.2 1140.9 L668 1141.3 L666.8 1141.8 L665.6 1142.9 L664.4 1143.9 L663.2 1144 L662 1144.5 L660.8 1145.7 L659.6 1146.3 L658.4 1146.9 L657.2 1147.8 L656 1148.2 L654.8 1148.8 L653.6 1149.9 L652.4 1151.5 L651.2 1152.1 L650 1153.6 L648.8 1155.3 L647.6 1157.1 L646.4 1158.9 L645.2 1160.7 L644 1163.6 L642.8 1166.7 L641.6 1170.2 L640.4 1173.9 L639.2 1178.1 L638 1182.5 L637.8 1183.2 L637.6 1183.8 L637.4 1184.6 L637.2 1185.3 L637 1185.7 L636.8 1186.3 L636.6 1187 L636.4 1187.7 L636.2 1188.1 L636 1188.7 L635.8 1189.4 L635.6 1190.1 L635.4 1190.6 L635.2 1191.2 L635 1191.8 L634.8 1192.4 L634.6 1193.1 L634.4 1193.9 L634.2 1194.6 L634 1195.4 L633.8 1196.2 L633.6 1197 L633.4 1197.8 L633.2 1198.7 L633 1199.7 L632.8 1200.6 L632.6 1201.7 L632.4 1202.8 L632.2 1204 L632 1205.4 L631.8 1207.1 L631.6 1208.8 L631.4 1210.8 L631.2 1212.8 L631 1214.9 L630.8 1217.1 L630.6 1219.2 L630.4 1221.4 L630.2 1223.6 L630 1225.8 L629.8 1227.8 L629.6 1229.8 L629.4 1231.7 L629.2 1233.4 L629 1235 L628.8 1236.5 L628.6 1237.9 L628.4 1239.3 L628.2 1240.7 L628 1242.1 L627.8 1243.4 L627.6 1244.7 L627.4 1245.9 L627.2 1247.1 L627 1248.3 L626.8 1249.4 L626.6 1250.5 L626.4 1251.5 L626.2 1252.5 L626 1253.5Z" fill="#F8A0A0" fill-opacity="0.5" stroke="none"/>
<path d="M626 1253.5 L626.2 1251 L626.4 1248.6 L626.6 1246.1 L626.8 1243.7 L627 1241.3 L627.2 1239 L627.4 1236.7 L627.6 1234.5 L627.8 1232.3 L628 1230.1 L628.2 1228 L628.4 1225.9 L628.6 1223.8 L628.8 1221.7 L629 1219.6 L629.2 1217.4 L629.4 1215.3 L629.6 1213.2 L629.8 1211.2 L630 1209.1 L630.2 1207.2 L630.4 1205.3 L630.6 1203.5 L630.8 1201.8 L631 1200.2 L631.2 1198.7 L631.4 1197.3 L631.6 1196.1 L631.8 1195.1 L632 1194.1 L632.2 1193.1 L632.4 1192.2 L632.6 1191.4 L632.8 1190.6 L633 1189.7 L633.2 1188.9 L633.4 1188.3 L633.6 1187.6 L633.8 1186.9 L634 1186.2 L634.2 1185.6 L634.4 1184.9 L634.6 1184.4 L634.8 1183.8 L635 1183.3 L635.2 1182.7 L635.4 1182.1 L635.6 1181.7 L635.8 1181.2 L636 1180.7 L636.2 1180.1 L636.4 1179.7 L636.6 1179.1 L636.8 1178.5 L637 1177.8 L637.2 1177.3 L637.4 1176.9 L637.6 1176.3 L637.8 1175.6 L638 1175 L639.2 1171.1 L640.4 1167.5 L641.6 1163.8 L642.8 1160.4 L644 1157.6 L645.2 1155.4 L646.4 1153.7 L647.6 1151.8 L648.8 1149.9 L650 1147.8 L651.2 1146.4 L652.4 1145 L653.6 1143.6 L654.8 1142.6 L656 1141.2 L657.2 1139.8 L658.4 1139.2 L659.6 1138.2 L660.8 1136.6 L662 1136.2 L663.2 1135.5 L664.4 1134.4 L665.6 1133.9 L666.8 1133.5 L668 1132.5 L669.2 1131.3 L670.4 1131 L671.6 1130.3 L672.8 1129.4 L674 1128.9 L675.2 1128.2 L676.4 1127.6 L677.6 1127.2 L678.8 1126.4 L680 1125.6 L681.2 1124.8 L682.4 1124.3 L683.6 1123.7 L684.8 1123.1 L686 1122.5 L687.2 1121.5 L688.4 1120.7 L689.6 1120 L690.8 1119.3 L692 1119 L693.2 1118.2 L694.4 1117.5 L695.6 1117.1 L696.8 1116 L698 1115.5 L699.2 1114.8 L700.4 1114.5 L701.6 1114.4 L702.8 1113.7 L704 1112.9 L705.2 1112.3 L706.4 1110.9 L707.6 1110.1 L708.8 1109.6 L710 1108.9 L711.2 1108.3 L712.4 1107.5 L713.6 1106.7 L714.8 1106.3 L716 1106.1 L717.2 1105.1 L718.4 1104.5 L719.6 1104.1 L720.8 1103.4 L722 1102.7 L723.2 1102.3 L724.4 1102.1 L725.6 1101.5 L726.8 1100.7 L728 1100.2 L729.2 1099.4 L730.4 1098.7 L731.6 1098.3 L732.8 1097.7 L734 1097.4 L735.2 1097.6 L736.4 1097.4 L737.6 1096.6 L738.8 1095.8 L740 1095.3 L741.2 1095.2 L742.4 1094.9 L743.6 1094.6 L744.8 1094.1 L746 1093.6 L747.2 1093.3 L748.4 1092.9 L749.6 1092.6 L750.8 1091.8 L752 1091.6 L753.2 1091.5 L754.4 1090.9 L755.6 1090.3 L756.8 1089.8 L758 1089.5 L759.2 1089.4 L760.4 1089.3 L761.6 1088.8 L762.8 1088 L764 1087.7 L765.2 1087.4 L766.4 1086.7 L767.6 1086.4 L768.8 1086.2 L770 1085.6 L771.2 1085.1 L772.4 1084.9 L773.6 1084.5 L774.8 1084.3 L776 1083.7 L777.2 1083.1 L778.4 1083.1 L779.6 1082.7 L780.8 1082.6 L782 1081.8 L783.2 1081.2 L784.4 1081 L785.6 1080.6 L786.8 1080.3 L788 1080.3 L789.2 1080.2 L790.4 1080.2 L791.6 1079.7 L792.8 1079.2 L794 1079.3 L795.2 1078.9 L796.4 1078.8 L797.6 1078.5 L798.8 1078.3 L800 1078 L801.2 1077.5 L802.4 1077.1 L803.6 1076.8 L804.8 1076.8 L806 1076.5 L807.2 1076.2 L808.4 1076.1 L809.6 1075.8 L810.8 1075.8 L812 1075.4 L813.2 1074.9 L814.4 1074.9 L815.6 1074.9 L816.8 1074.5 L818 1074.4 L819.2 1074 L820.4 1073.6 L821.6 1073.8 L822.8 1073.2 L824 1072.8 L825.2 1072.9 L826.4 1072.7 L827.6 1072.5 L828.8 1072.1 L830 1071.7 L831.2 1071.7 L832.4 1071.6 L833.6 1071.5 L834.8 1071.5 L836 1071.3 L837.2 1071.2 L838.4 1070.9 L839.6 1070.3 L840.8 1070 L842 1069.9 L843.2 1069.4 L844.4 1068.8 L845.6 1068.4 L846.8 1068.5 L848 1068.5 L849.2 1068.1 L850.4 1068 L851.6 1067.9 L852.8 1067.6 L854 1067.2 L855.2 1066.9 L856.4 1067.1 L857.6 1066.9 L858.8 1066.7 L860 1066.9 L861.2 1066.6 L862.4 1066 L863.6 1065.6 L864.8 1065.5 L866 1065.4 L867.2 1065.3 L868.4 1065.2 L869.6 1065 L870.8 1064.8 L872 1064.6 L873.2 1064.2 L874.4 1063.7 L875.6 1063.8 L876.8 1063.2 L878 1063 L879.2 1062.9 L880.4 1062.4 L881.6 1062 L882.8 1061.9 L884 1061.8 L885.2 1061.5 L886.4 1061.6 L887.6 1060.9 L888.8 1060.7 L890 1061.4 L891.2 1061.1 L892.4 1060.3 L893.6 1060.2 L894.8 1060.2 L896 1060.5 L897.2 1059.9 L898.4 1058.6 L899.6 1058.5 L900.8 1058.7 L902 1058.4 L903.2 1058.1 L904.4 1057.4 L905.6 1057.2 L906.8 1057.1 L908 1056.8 L909.2 1056.6 L910.4 1056.1 L911.6 1055.6 L912.8 1055.8 L914 1055.9 L915.2 1055.7 L916.4 1055.8 L917.6 1055.7 L918.8 1055.4 L920 1054.7 L921.2 1054.7 L922.4 1055.2 L923.6 1054.5 L924.8 1053.9 L926 1054 L927.2 1054.1 L928.4 1054.1 L929.6 1053.7 L930.8 1053.2 L932 1053.3 L933.2 1053.1 L934.4 1052.5 L935.6 1052 L936.8 1051.9 L938 1052.4 L939.2 1052.1 L940.4 1051.4 L941.6 1051.4 L942.8 1051.4 L944 1051.2 L945.2 1050.9 L946.4 1050.3 L947.6 1050.4 L948.8 1050.3 L950 1049.9 L951.2 1049.6 L952.4 1049.2 L953.6 1048.9 L954.8 1048.7 L956 1048.7 L957.2 1048.5 L958.4 1048.2 L959.6 1048.3 L960.8 1048.4 L962 1047.9 L963.2 1047.6 L964.4 1047.5 L965.6 1046.6 L966.8 1046.4 L968 1046.3 L969.2 1046.2 L970.4 1046.1 L971.6 1046 L972.8 1046.1 L974 1045.5 L975.2 1044.9 L976.4 1045 L977.6 1044.9 L978.8 1044.5 L980 1044.7 L981.2 1044.5 L982.4 1044.4 L983.6 1044.6 L984.8 1044.3 L986 1044 L987.2 1043.8 L988.4 1042.9 L989.6 1043 L990.8 1043.4 L992 1043.3 L993.2 1043.3 L994.4 1043.2 L995.6 1043 L996.8 1043.2 L998 1043 L999.2 1042.8 L1000.4 1043 L1001.6 1043 L1002.8 1043 L1004 1042.8 L1005.2 1042.5 L1006.4 1042.3 L1007.6 1042.2 L1008.8 1042.3 L1010 1042.5 L1011.2 1042.1 L1012.4 1041.8 L1013.6 1041.6 L1014.8 1041.2 L1016 1041.2 L1017.2 1041.2 L1018.4 1041 L1019.6 1040.8 L1020.8 1040.8 L1022 1041 L1023.2 1040.8 L1024.4 1040.7 L1025.6 1040.6 L1026.8 1040.6 L1028 1040.4 L1029.2 1040.1 L1030.4 1039.9 L1031.6 1039.5 L1032.8 1039.1 L1034 1039.1 L1035.2 1038.9 L1036.4 1038.6 L1037.6 1038.5 L1038.8 1038.4 L1040 1038.3 L1041.2 1038.1 L1042.4 1038.4 L1043.6 1038 L1044.8 1037.5 L1046 1037.2 L1047.2 1037.4 L1048.4 1037.6 L1049.6 1037 L1050.8 1036.8 L1052 1036.6 L1053.2 1036.4 L1054.4 1036.4 L1055.6 1036.1 L1056.8 1035.5 L1058 1035.3 L1059.2 1035.3 L1060.4 1035.4 L1061.6 1035.2 L1062.8 1034.8 L1064 1034.4 L1065.2 1034.4 L1066.4 1034.4 L1067.6 1034.3 L1068.8 1034.1 L1070 1033.8 L1071.2 1033.2 L1072.4 1033.1 L1073.6 1033.5 L1074.8 1033.4 L1076 1032.7 L1077.2 1032.6 L1078.4 1032.8 L1079.6 1032.4 L1080.8 1031.8 L1082 1031.6 L1083.2 1031.8 L1084.4 1031.8 L1085.6 1031.3 L1086.8 1030.7 L1088 1030.7 L1089.2 1030.8 L1090.4 1030.5 L1091.6 1030.1 L1092.8 1029.5 L1094 1029.4 L1095.2 1029.4 L1096.4 1029.2 L1097.6 1028.9 L1098.8 1028.4 L1100 1028.5 L1101.2 1028.6 L1102.4 1028.2 L1103.6 1028.2 L1104.8 1027.8 L1106 1027.4 L1107.2 1027.4 L1108.4 1027.4 L1109.6 1027.2 L1110.8 1027.1 L1112 1026.5 L1113.2 1026 L1114.4 1025.9 L1115.6 1025.8 L1116.8 1026 L1118 1025.6 L1119.2 1025.3 L1120.4 1025 L1121.6 1024.5 L1122.8 1024.6 L1124 1024.5 L1125.2 1024.3 L1126.4 1024.5 L1127.6 1023.8 L1128.8 1023.4 L1130 1023.2 L1131.2 1023 L1132.4 1022.3 L1133.6 1022.2 L1134.8 1022.2 L1136 1022 L1137.2 1021.9 L1138.4 1021.8 L1139.6 1021.6 L1140.8 1021.2 L1142 1021 L1143.2 1020.4 L1144.4 1020.3 L1145.6 1020.4 L1146.8 1020.3 L1148 1020.2 L1149.2 1020.1 L1150.4 1020.1 L1151.6 1020.1 L1152.8 1019.6 L1154 1019.1 L1155.2 1019.2 L1156.4 1019 L1157.6 1018.9 L1158.8 1018.3 L1160 1018.1 L1161.2 1018.3 L1162.4 1017.8 L1163.6 1017.6 L1164.8 1018.1 L1166 1017.9 L1167.2 1017.6 L1168.4 1017.8 L1169.6 1017.3 L1170.8 1016.7 L1172 1016.6 L1173.2 1016.7 L1174.4 1016.6 L1175.6 1016.2 L1176.8 1015.5 L1178 1015.5 L1179.2 1015.1 L1180.4 1014.5 L1181.6 1014.7 L1182.8 1014.5 L1184 1014.1 L1185.2 1013.9 L1186.4 1014 L1187.6 1013.8 L1188.8 1013.4 L1190 1013.2 L1191.2 1013.1 L1192.4 1012.6 L1193.6 1012.1 L1194.8 1012.5 L1196 1012.3 L1197.2 1012 L1198.4 1011.6 L1199.6 1011.1 L1200.8 1010.9 L1202 1010.5 L1203.2 1010.2 L1204.4 1010.3 L1205.6 1010 L1206.8 1009.4 L1208 1008.9 L1209.2 1008.3 L1210.4 1008.3 L1211.6 1008.2 L1212.8 1007.7 L1214 1007.2 L1215.2 1007.3 L1216.4 1007.2 L1217.6 1007 L1218.8 1006.9 L1220 1006.6 L1221.2 1006.3 L1222.4 1005.4 L1223.6 1005.3 L1224.8 1005.3 L1226 1005.2 L1227.2 1005 L1228.4 1004.4 L1229.6 1004 L1230.8 1003.6 L1232 1003.6 L1233.2 1003.5 L1234.4 1003 L1235.6 1002.3 L1236.8 1002.6 L1238 1002.8 L1239.2 1002 L1240.4 1001.8 L1241.6 1002.2 L1242.8 1001.8 L1244 1001.6 L1245.2 1001.2 L1246.4 1000.2 L1247.6 1000.1 L1248.8 1000.3 L1250 1000.2 L1251.2 1000 L1252.4 999.6 L1253.6 999.2 L1254.8 998.6 L1256 998.4 L1257.2 998.8 L1258.4 998.6 L1259.6 997.6 L1260.8 997.7 L1262 998.1 L1263.2 997.5 L1264.4 997.1 L1265.6 997 L1266.8 996.6 L1268 996.5 L1269.2 996.3 L1270.4 995.9 L1271.6 996.2 L1272.8 995.8 L1274 995.7 L1275.2 995.8 L1276.4 995.7 L1277.6 995.6 L1278.8 995.5 L1280 995 L1281.2 994.9 L1282.4 995 L1283.6 994.3 L1284.8 994.2 L1285 994.3 M1285.1 994V1025" stroke="#F14040" stroke-width="5.2"/>
<path d="M626 1253.5 L626.2 1243.1 L626.4 1233.3 L626.6 1225 L626.8 1218.6 L627 1213.2 L627.2 1208.4 L627.4 1204 L627.6 1200.1 L627.8 1196.5 L628 1193.4 L628.2 1190.6 L628.4 1188.1 L628.6 1185.7 L628.8 1183.4 L629 1181.2 L629.2 1179.1 L629.4 1177.1 L629.6 1175.2 L629.8 1173.4 L630 1171.7 L630.2 1170.1 L630.4 1168.5 L630.6 1167 L630.8 1165.6 L631 1164.3 L631.2 1163.1 L631.4 1161.9 L631.6 1160.8 L631.8 1159.8 L632 1158.7 L632.2 1157.8 L632.4 1156.8 L632.6 1156 L632.8 1155 L633 1154.1 L633.2 1153.3 L633.4 1152.3 L633.6 1151.6 L633.8 1150.9 L634 1150.1 L634.2 1149.3 L634.4 1148.7 L634.6 1148 L634.8 1147.3 L635 1146.9 L635.2 1146.2 L635.4 1145.5 L635.6 1145 L635.8 1144.3 L636 1143.7 L636.2 1143.4 L636.4 1142.9 L636.6 1142.4 L636.8 1141.7 L637 1141.2 L637.2 1140.7 L637.4 1140.4 L637.6 1139.9 L637.8 1139.2 L638 1138.8 L639.2 1136.6 L640.4 1134.4 L641.6 1132.6 L642.8 1131.5 L644 1129.9 L645.2 1128.4 L646.4 1127 L647.6 1125.7 L648.8 1124.9 L650 1123.7 L651.2 1122.6 L652.4 1122 L653.6 1121.3 L654.8 1121 L656 1120.5 L657.2 1119.5 L658.4 1118.7 L659.6 1118.5 L660.8 1118.3 L662 1117.5 L663.2 1116.6 L664.4 1115.9 L665.6 1115.5 L666.8 1114.7 L668 1114 L669.2 1114.2 L670.4 1114.4 L671.6 1114.3 L672.8 1113.3 L674 1112.7 L675.2 1112.5 L676.4 1111.7 L677.6 1111.6 L678.8 1111.7 L680 1111.3 L681.2 1110.8 L682.4 1110.5 L683.6 1109.9 L684.8 1109.4 L686 1108.8 L687.2 1108.8 L688.4 1108.8 L689.6 1108.6 L690.8 1108 L692 1107.3 L693.2 1107.2 L694.4 1106.9 L695.6 1106.5 L696.8 1106.7 L698 1106.6 L699.2 1105.3 L700.4 1104.9 L701.6 1105.5 L702.8 1105.5 L704 1105.1 L705.2 1104.9 L706.4 1105.1 L707.6 1104.7 L708.8 1104.5 L710 1104.7 L711.2 1104.5 L712.4 1104.6 L713.6 1103.9 L714.8 1103.1 L716 1103.3 L717.2 1103.3 L718.4 1103.2 L719.6 1102.6 L720.8 1102.2 L722 1102.5 L723.2 1102.6 L724.4 1102.2 L725.6 1102.2 L726.8 1102.3 L728 1102 L729.2 1101.3 L730.4 1100.7 L731.6 1100.3 L732.8 1100.7 L734 1100.7 L735.2 1100.3 L736.4 1099.6 L737.6 1099.3 L738.8 1098.8 L740 1098.6 L741.2 1098.7 L742.4 1098.9 L743.6 1099 L744.8 1098.7 L746 1097.8 L747.2 1097.4 L748.4 1097.5 L749.6 1097.4 L750.8 1097.5 L752 1096.6 L753.2 1096.1 L754.4 1096.8 L755.6 1097.1 L756.8 1096.4 L758 1095.1 L759.2 1095.2 L760.4 1096 L761.6 1095.8 L762.8 1095.7 L764 1095.7 L765.2 1095.6 L766.4 1095.3 L767.6 1095.1 L768.8 1095.1 L770 1094.9 L771.2 1094.3 L772.4 1093.9 L773.6 1094.2 L774.8 1094.2 L776 1093.7 L777.2 1093.4 L778.4 1093.6 L779.6 1092.8 L780.8 1092 L782 1092.2 L783.2 1092.6 L784.4 1092.6 L785.6 1092.4 L786.8 1091.5 L788 1091.5 L789.2 1091.7 L790.4 1091.6 L791.6 1091.4 L792.8 1091.7 L794 1091.5 L795.2 1090.7 L796.4 1090.5 L797.6 1089.8 L798.8 1089.5 L800 1089.4 L801.2 1089.4 L802.4 1089.1 L803.6 1089.1 L804.8 1089.4 L806 1088.7 L807.2 1088.4 L808.4 1088.5 L809.6 1088.4 L810.8 1088 L812 1087.6 L813.2 1087.5 L814.4 1088.2 L815.6 1087.4 L816.8 1086.7 L818 1087.3 L819.2 1086.9 L820.4 1087.3 L821.6 1087.2 L822.8 1086 L824 1085.9 L825.2 1085.8 L826.4 1085.8 L827.6 1085.8 L828.8 1085.8 L830 1085.2 L831.2 1084.8 L832.4 1085.1 L833.6 1084.8 L834.8 1084 L836 1083.8 L837.2 1084 L838.4 1083.9 L839.6 1083.8 L840.8 1084.1 L842 1083.8 L843.2 1082.8 L844.4 1082.7 L845.6 1082.7 L846.8 1082.6 L848 1082.7 L849.2 1082.2 L850.4 1082 L851.6 1082.3 L852.8 1081.7 L854 1081.5 L855.2 1081.4 L856.4 1081.2 L857.6 1081.4 L858.8 1081.3 L860 1081.5 L861.2 1081.4 L862.4 1081 L863.6 1080.9 L864.8 1080.8 L866 1080.5 L867.2 1080.9 L868.4 1080.6 L869.6 1079.9 L870.8 1079.9 L872 1080 L873.2 1079.9 L874.4 1079.3 L875.6 1078.8 L876.8 1078.8 L878 1078.7 L879.2 1078.7 L880.4 1078.6 L881.6 1078.2 L882.8 1077.7 L884 1077.3 L885.2 1077.1 L886.4 1077.3 L887.6 1077.8 L888.8 1077.2 L890 1076.4 L891.2 1076.4 L892.4 1076.5 L893.6 1076.4 L894.8 1076.1 L896 1076.3 L897.2 1076.3 L898.4 1075.8 L899.6 1075.2 L900.8 1075.1 L902 1075.5 L903.2 1075 L904.4 1074.9 L905.6 1075.3 L906.8 1075.1 L908 1074.6 L909.2 1074 L910.4 1073.6 L911.6 1073.8 L912.8 1074 L914 1073.9 L915.2 1073.7 L916.4 1073.7 L917.6 1073.2 L918.8 1073.3 L920 1072.9 L921.2 1072.5 L922.4 1072.8 L923.6 1072.7 L924.8 1072.6 L926 1072.1 L927.2 1071.9 L928.4 1072.1 L929.6 1071.8 L930.8 1071.9 L932 1071.9 L933.2 1071.5 L934.4 1071.3 L935.6 1071.5 L936.8 1071.4 L938 1071.4 L939.2 1071.8 L940.4 1071.4 L941.6 1071.1 L942.8 1071.5 L944 1070.9 L945.2 1069.8 L946.4 1070.5 L947.6 1070.5 L948.8 1070.7 L950 1070.9 L951.2 1069.5 L952.4 1069.4 L953.6 1069.6 L954.8 1069.2 L956 1069.1 L957.2 1068.9 L958.4 1068.5 L959.6 1068.7 L960.8 1068.2 L962 1067.9 L963.2 1068.1 L964.4 1068 L965.6 1068 L966.8 1067.7 L968 1067.1 L969.2 1066.8 L970.4 1066.7 L971.6 1066.8 L972.8 1067.3 L974 1066.9 L975.2 1066 L976.4 1065.6 L977.6 1066.1 L978.8 1066.1 L980 1065.7 L981.2 1065.6 L982.4 1065 L983.6 1064.6 L984.8 1064.8 L986 1064.3 L987.2 1063.8 L988.4 1063.7 L989.6 1064.2 L990.8 1064.2 L992 1063.5 L993.2 1063.1 L994.4 1062.5 L995.6 1062.3 L996.8 1062.5 L998 1062.2 L999.2 1061.8 L1000.4 1062.1 L1001.6 1061.7 L1002.8 1060.8 L1004 1060.6 L1005.2 1060.8 L1006.4 1061.2 L1007.6 1061 L1008.8 1060.3 L1010 1060.5 L1011.2 1060.2 L1012.4 1059.7 L1013.6 1059.7 L1014.8 1059.4 L1016 1059.3 L1017.2 1059.2 L1018.4 1058.2 L1019.6 1058.3 L1020.8 1058.5 L1022 1058.2 L1023.2 1058.2 L1024.4 1058 L1025.6 1058.1 L1026.8 1057.6 L1028 1057 L1029.2 1057 L1030.4 1056.8 L1031.6 1056.9 L1032.8 1056.7 L1034 1055.9 L1035.2 1056.3 L1036.4 1056.2 L1037.6 1055.5 L1038.8 1055.3 L1040 1055.2 L1041.2 1055.6 L1042.4 1055.5 L1043.6 1054.9 L1044.8 1054.4 L1046 1054.6 L1047.2 1054.4 L1048.4 1054.2 L1049.6 1054.3 L1050.8 1054 L1052 1053.6 L1053.2 1053.1 L1054.4 1052.4 L1055.6 1051.8 L1056.8 1052 L1058 1051.7 L1059.2 1051.5 L1060.4 1051.4 L1061.6 1051 L1062.8 1050.8 L1064 1050.9 L1065.2 1050.7 L1066.4 1050.4 L1067.6 1050.6 L1068.8 1050.3 L1070 1050.2 L1071.2 1050.7 L1072.4 1050.7 L1073.6 1050.5 L1074.8 1050.4 L1076 1050.1 L1077.2 1049.7 L1078.4 1049 L1079.6 1048.9 L1080.8 1048.8 L1082 1048.3 L1083.2 1048.4 L1084.4 1048.8 L1085.6 1048.8 L1086.8 1048.5 L1088 1048.3 L1089.2 1048 L1090.4 1047.4 L1091.6 1046.9 L1092.8 1047 L1094 1047.4 L1095.2 1047.2 L1096.4 1046.5 L1097.6 1046.3 L1098.8 1046.1 L1100 1045.8 L1101.2 1045.6 L1102.4 1046.2 L1103.6 1046.4 L1104.8 1045.4 L1106 1045.2 L1107.2 1045.5 L1108.4 1045.5 L1109.6 1045 L1110.8 1044.2 L1112 1044.8 L1113.2 1044.9 L1114.4 1044.1 L1115.6 1044.4 L1116.8 1044.8 L1118 1044.8 L1119.2 1044.2 L1120.4 1043.9 L1121.6 1043.9 L1122.8 1043.7 L1124 1043.6 L1125.2 1043.9 L1126.4 1044.3 L1127.6 1043.4 L1128.8 1042.9 L1130 1043 L1131.2 1042.7 L1132.4 1042.3 L1133.6 1042 L1134.8 1041.8 L1136 1042.1 L1137.2 1041.9 L1138.4 1041.2 L1139.6 1041 L1140.8 1041 L1142 1040.8 L1143.2 1040.3 L1144.4 1040.3 L1145.6 1040.6 L1146.8 1040.7 L1148 1040.4 L1149.2 1040.4 L1150.4 1040.4 L1151.6 1040 L1152.8 1039.5 L1154 1039.5 L1155.2 1039.4 L1156.4 1039 L1157.6 1038.9 L1158.8 1038.9 L1160 1038.8 L1161.2 1038.2 L1162.4 1038 L1163.6 1037.8 L1164.8 1037.1 L1166 1037 L1167.2 1038.2 L1168.4 1038 L1169.6 1037.2 L1170.8 1037.7 L1172 1037.6 L1173.2 1037.2 L1174.4 1037 L1175.6 1036.7 L1176.8 1036.6 L1178 1036.3 L1179.2 1036.3 L1180.4 1036.5 L1181.6 1036.5 L1182.8 1036.6 L1184 1036.4 L1185.2 1036.5 L1186.4 1036.3 L1187.6 1035 L1188.8 1034.3 L1190 1034.5 L1191.2 1034.9 L1192.4 1034.9 L1193.6 1034.6 L1194.8 1034.7 L1196 1034.6 L1197.2 1034 L1198.4 1033.9 L1199.6 1033.9 L1200.8 1033.9 L1202 1033.4 L1203.2 1032.9 L1204.4 1033.2 L1205.6 1033.4 L1206.8 1033.3 L1208 1033.3 L1209.2 1032.9 L1210.4 1032.9 L1211.6 1032.7 L1212.8 1032.4 L1214 1032.5 L1215.2 1032.6 L1216.4 1032 L1217.6 1031.6 L1218.8 1032.1 L1220 1032.1 L1221.2 1031.8 L1222.4 1031.8 L1223.6 1031.2 L1224.8 1030.6 L1226 1031 L1227.2 1031 L1228.4 1030.1 L1229.6 1029.9 L1230.8 1030.1 L1232 1029.6 L1233.2 1029.2 L1234.4 1029.4 L1235.6 1029.6 L1236.8 1029 L1238 1028.4 L1239.2 1028.6 L1240.4 1028.5 L1241.6 1028.4 L1242.8 1028.1 L1244 1028 L1245.2 1027.7 L1246.4 1027.4 L1247.6 1027.6 L1248.8 1027.5 L1250 1027.3 L1251.2 1027.3 L1252.4 1027.2 L1253.6 1026.7 L1254.8 1026.9 L1256 1026.9 L1257.2 1027 L1258.4 1026.6 L1259.6 1025.9 L1260.8 1025.9 L1262 1025.1 L1263.2 1025.1 L1264.4 1024.5 L1265.6 1024.4 L1266.8 1024.9 L1268 1024.6 L1269.2 1024.4 L1270.4 1024.5 L1271.6 1024.5 L1272.8 1024.4 L1274 1024.1 L1275.2 1024.1 L1276.4 1024.2 L1277.6 1023.3 L1278.8 1023.5 L1280 1023.7 L1281.2 1023.1 L1282.4 1023.4 L1283.6 1023.5 L1284.8 1023 L1285 1023.5 L1285 1033.4 L1284.8 1033 L1283.6 1033.2 L1282.4 1033.4 L1281.2 1033.5 L1280 1033 L1278.8 1032.7 L1277.6 1032.9 L1276.4 1033 L1275.2 1033 L1274 1032.8 L1272.8 1032.1 L1271.6 1031.9 L1270.4 1031.8 L1269.2 1032 L1268 1032.6 L1266.8 1032.4 L1265.6 1032.4 L1264.4 1032.5 L1263.2 1032.4 L1262 1032.2 L1260.8 1031.7 L1259.6 1031.8 L1258.4 1031.8 L1257.2 1032.1 L1256 1032.6 L1254.8 1032.5 L1253.6 1033.1 L1252.4 1033.4 L1251.2 1033.1 L1250 1032.9 L1248.8 1032.8 L1247.6 1033.2 L1246.4 1033.3 L1245.2 1033.3 L1244 1033.4 L1242.8 1033.8 L1241.6 1034 L1240.4 1034.2 L1239.2 1033.8 L1238 1033.4 L1236.8 1034.1 L1235.6 1034.2 L1234.4 1034.1 L1233.2 1034.2 L1232 1034.3 L1230.8 1034.5 L1229.6 1034.7 L1228.4 1034.5 L1227.2 1034.6 L1226 1034.9 L1224.8 1035 L1223.6 1035.1 L1222.4 1034.9 L1221.2 1035 L1220 1035.7 L1218.8 1036 L1217.6 1036.1 L1216.4 1036.4 L1215.2 1036.3 L1214 1036.1 L1212.8 1036.7 L1211.6 1037.1 L1210.4 1036.6 L1209.2 1036.7 L1208 1037.4 L1206.8 1037.6 L1205.6 1037.4 L1204.4 1037.4 L1203.2 1037.5 L1202 1037.2 L1200.8 1037.5 L1199.6 1038.2 L1198.4 1038.2 L1197.2 1038.1 L1196 1039.2 L1194.8 1039.6 L1193.6 1039.6 L1192.4 1040.1 L1191.2 1040.7 L1190 1040.6 L1188.8 1040.1 L1187.6 1040.4 L1186.4 1040.5 L1185.2 1040.5 L1184 1040.6 L1182.8 1040.7 L1181.6 1041.1 L1180.4 1041.7 L1179.2 1041.7 L1178 1041.5 L1176.8 1041.1 L1175.6 1041.5 L1174.4 1042.1 L1173.2 1041.8 L1172 1042.2 L1170.8 1042.5 L1169.6 1042.2 L1168.4 1041.9 L1167.2 1042 L1166 1042.6 L1164.8 1043.2 L1163.6 1043.1 L1162.4 1043.3 L1161.2 1043.9 L1160 1044.1 L1158.8 1043.7 L1157.6 1044.2 L1156.4 1044.3 L1155.2 1043.9 L1154 1044.3 L1152.8 1044.7 L1151.6 1044.9 L1150.4 1044.9 L1149.2 1045.3 L1148 1045.5 L1146.8 1045.4 L1145.6 1045.2 L1144.4 1045.3 L1143.2 1045.4 L1142 1044.9 L1140.8 1044.8 L1139.6 1045.1 L1138.4 1045.4 L1137.2 1045.6 L1136 1046.3 L1134.8 1046.4 L1133.6 1046.3 L1132.4 1046.9 L1131.2 1046.2 L1130 1046 L1128.8 1046.7 L1127.6 1047 L1126.4 1046.7 L1125.2 1046.5 L1124 1047.2 L1122.8 1047.4 L1121.6 1047.6 L1120.4 1048.1 L1119.2 1048.1 L1118 1048.4 L1116.8 1048.5 L1115.6 1049.1 L1114.4 1049.3 L1113.2 1049.1 L1112 1049.5 L1110.8 1049.4 L1109.6 1049.4 L1108.4 1049.9 L1107.2 1050.4 L1106 1050.7 L1104.8 1050.7 L1103.6 1050.2 L1102.4 1050.2 L1101.2 1050.2 L1100 1050.8 L1098.8 1051.6 L1097.6 1051.5 L1096.4 1051.2 L1095.2 1051.8 L1094 1052.1 L1092.8 1051.8 L1091.6 1052.6 L1090.4 1052.5 L1089.2 1052.2 L1088 1052.5 L1086.8 1052.8 L1085.6 1052.7 L1084.4 1052.9 L1083.2 1053.5 L1082 1054.1 L1080.8 1053.9 L1079.6 1054 L1078.4 1054.3 L1077.2 1053.9 L1076 1054.1 L1074.8 1054.4 L1073.6 1054.3 L1072.4 1054.4 L1071.2 1055 L1070 1055.5 L1068.8 1056 L1067.6 1055.9 L1066.4 1055.9 L1065.2 1056.2 L1064 1056.3 L1062.8 1056.7 L1061.6 1056.6 L1060.4 1056.2 L1059.2 1056.4 L1058 1057.3 L1056.8 1057.6 L1055.6 1058 L1054.4 1058.3 L1053.2 1058 L1052 1058.6 L1050.8 1058.8 L1049.6 1058.5 L1048.4 1058 L1047.2 1058.3 L1046 1059.4 L1044.8 1059.2 L1043.6 1059.2 L1042.4 1059.2 L1041.2 1059.4 L1040 1060.2 L1038.8 1060.4 L1037.6 1060.2 L1036.4 1060.7 L1035.2 1061.1 L1034 1060.8 L1032.8 1060.8 L1031.6 1062.1 L1030.4 1062.8 L1029.2 1062.4 L1028 1062.3 L1026.8 1062.8 L1025.6 1063 L1024.4 1062.5 L1023.2 1062.8 L1022 1063.6 L1020.8 1064.4 L1019.6 1065.4 L1018.4 1064.9 L1017.2 1064.3 L1016 1064.8 L1014.8 1065.1 L1013.6 1065.4 L1012.4 1065.6 L1011.2 1065.5 L1010 1065.7 L1008.8 1066.6 L1007.6 1067.1 L1006.4 1066.7 L1005.2 1067 L1004 1067.2 L1002.8 1067 L1001.6 1067.2 L1000.4 1068.1 L999.2 1068.2 L998 1068.4 L996.8 1068.8 L995.6 1069.2 L994.4 1069.7 L993.2 1069.7 L992 1070 L990.8 1070.6 L989.6 1071.3 L988.4 1071.2 L987.2 1071.6 L986 1071.9 L984.8 1071.2 L983.6 1071.1 L982.4 1071.5 L981.2 1071.7 L980 1072 L978.8 1071.9 L977.6 1071.5 L976.4 1071.8 L975.2 1072.5 L974 1072.3 L972.8 1072.5 L971.6 1072.7 L970.4 1073.1 L969.2 1073.6 L968 1073.6 L966.8 1073.9 L965.6 1074.3 L964.4 1074.8 L963.2 1074.4 L962 1074.2 L960.8 1074.4 L959.6 1075.3 L958.4 1075.5 L957.2 1075.5 L956 1075.8 L954.8 1075.6 L953.6 1075.9 L952.4 1076.2 L951.2 1076 L950 1076.3 L948.8 1076.3 L947.6 1076.3 L946.4 1076.6 L945.2 1076.2 L944 1075.7 L942.8 1076.7 L941.6 1077.4 L940.4 1077 L939.2 1077.1 L938 1077.4 L936.8 1077.2 L935.6 1077.2 L934.4 1077.4 L933.2 1077.7 L932 1078.2 L930.8 1077.9 L929.6 1078.3 L928.4 1078.8 L927.2 1078.3 L926 1077.6 L924.8 1077.9 L923.6 1078.5 L922.4 1078.6 L921.2 1078.8 L920 1079.1 L918.8 1079.3 L917.6 1079.7 L916.4 1079.9 L915.2 1080.3 L914 1080.6 L912.8 1080.4 L911.6 1080.5 L910.4 1080.8 L909.2 1081.4 L908 1082.2 L906.8 1081.6 L905.6 1081.4 L904.4 1081.8 L903.2 1082 L902 1082.6 L900.8 1082.7 L899.6 1082.8 L898.4 1083.7 L897.2 1083.4 L896 1082.9 L894.8 1083 L893.6 1083.2 L892.4 1083.3 L891.2 1083.7 L890 1084 L888.8 1083.5 L887.6 1083.7 L886.4 1084.6 L885.2 1085.2 L884 1085.3 L882.8 1085.6 L881.6 1085.1 L880.4 1084.8 L879.2 1085.1 L878 1086.1 L876.8 1086.5 L875.6 1086.6 L874.4 1087 L873.2 1087.2 L872 1087.5 L870.8 1087.4 L869.6 1087.5 L868.4 1088 L867.2 1087.8 L866 1087.7 L864.8 1088.1 L863.6 1088.1 L862.4 1088.4 L861.2 1088.7 L860 1089.2 L858.8 1089.1 L857.6 1089.5 L856.4 1089.9 L855.2 1089.6 L854 1090.1 L852.8 1090.2 L851.6 1090.3 L850.4 1090.4 L849.2 1090.4 L848 1090.8 L846.8 1091.2 L845.6 1091.6 L844.4 1091.4 L843.2 1090.9 L842 1091.6 L840.8 1092 L839.6 1091.7 L838.4 1091.6 L837.2 1092.1 L836 1092.5 L834.8 1092.8 L833.6 1093.3 L832.4 1093.1 L831.2 1093.7 L830 1093.8 L828.8 1093.1 L827.6 1093.8 L826.4 1094.8 L825.2 1094.4 L824 1095 L822.8 1095.5 L821.6 1095.8 L820.4 1096.3 L819.2 1096.2 L818 1096.8 L816.8 1096.6 L815.6 1096.6 L814.4 1097.1 L813.2 1097.2 L812 1097.5 L810.8 1098.1 L809.6 1098.2 L808.4 1098.1 L807.2 1097.9 L806 1098.2 L804.8 1098.2 L803.6 1098.5 L802.4 1098.9 L801.2 1099.2 L800 1099.7 L798.8 1099.3 L797.6 1099.4 L796.4 1099.7 L795.2 1099.5 L794 1099.8 L792.8 1100 L791.6 1100.1 L790.4 1100.6 L789.2 1100.9 L788 1100.9 L786.8 1101.1 L785.6 1101.1 L784.4 1101.4 L783.2 1102.2 L782 1101.9 L780.8 1101.8 L779.6 1102 L778.4 1102.1 L777.2 1102.7 L776 1103.5 L774.8 1103.4 L773.6 1102.9 L772.4 1103.2 L771.2 1103.4 L770 1103.7 L768.8 1103.5 L767.6 1103.6 L766.4 1104.8 L765.2 1104.9 L764 1105 L762.8 1105.2 L761.6 1105.1 L760.4 1105.1 L759.2 1105.3 L758 1105.7 L756.8 1106.2 L755.6 1106.5 L754.4 1106.6 L753.2 1106.8 L752 1106.3 L750.8 1106.6 L749.6 1107.2 L748.4 1107.3 L747.2 1107.8 L746 1108.1 L744.8 1108.3 L743.6 1108.6 L742.4 1108.7 L741.2 1108.7 L740 1109.3 L738.8 1109.6 L737.6 1109.9 L736.4 1110.2 L735.2 1110.2 L734 1110.7 L732.8 1110.8 L731.6 1110.6 L730.4 1111.5 L729.2 1111.7 L728 1111.2 L726.8 1111.5 L725.6 1111.9 L724.4 1112.2 L723.2 1112.7 L722 1112.9 L720.8 1112.7 L719.6 1112.4 L718.4 1112.7 L717.2 1113.5 L716 1114 L714.8 1114.1 L713.6 1113.9 L712.4 1114.5 L711.2 1114.6 L710 1115 L708.8 1115.6 L707.6 1115.5 L706.4 1115.5 L705.2 1116.1 L704 1116.3 L702.8 1116.5 L701.6 1116.2 L700.4 1116 L699.2 1116.6 L698 1117 L696.8 1117.4 L695.6 1117.7 L694.4 1118 L693.2 1118.2 L692 1119.3 L690.8 1119.3 L689.6 1119.5 L688.4 1120.8 L687.2 1121 L686 1121 L684.8 1121.3 L683.6 1121.7 L682.4 1122.1 L681.2 1122.3 L680 1122.5 L678.8 1123.4 L677.6 1124 L676.4 1124 L675.2 1124.9 L674 1125.3 L672.8 1125.9 L671.6 1126.5 L670.4 1126.5 L669.2 1127.2 L668 1128 L666.8 1128.3 L665.6 1129.1 L664.4 1129.8 L663.2 1129.8 L662 1130.7 L660.8 1131.1 L659.6 1131.6 L658.4 1132.5 L657.2 1133.7 L656 1134.7 L654.8 1135.7 L653.6 1136.9 L652.4 1137.8 L651.2 1137.6 L650 1138 L648.8 1139.6 L647.6 1140.4 L646.4 1141.4 L645.2 1142.7 L644 1144.6 L642.8 1146.6 L641.6 1148.6 L640.4 1151.2 L639.2 1154.2 L638 1158.2 L637.8 1159 L637.6 1159.6 L637.4 1160.4 L637.2 1161.2 L637 1162 L636.8 1162.7 L636.6 1163.7 L636.4 1164.7 L636.2 1165.5 L636 1166.6 L635.8 1167.8 L635.6 1169 L635.4 1170 L635.2 1171.1 L635 1172.3 L634.8 1173.5 L634.6 1174.8 L634.4 1176 L634.2 1177 L634 1178.1 L633.8 1179.3 L633.6 1180.5 L633.4 1181.8 L633.2 1183 L633 1184.4 L632.8 1185.7 L632.6 1187.1 L632.4 1188.5 L632.2 1190 L632 1191.6 L631.8 1193.2 L631.6 1194.9 L631.4 1196.7 L631.2 1198.7 L631 1200.7 L630.8 1203.2 L630.6 1206.2 L630.4 1209.5 L630.2 1213.2 L630 1216.9 L629.8 1220.6 L629.6 1224.1 L629.4 1227.4 L629.2 1230.2 L629 1232.5 L628.8 1234.5 L628.6 1236.4 L628.4 1238.3 L628.2 1240.2 L628 1242 L627.8 1243.7 L627.6 1245.3 L627.4 1246.8 L627.2 1248.2 L627 1249.5 L626.8 1250.6 L626.6 1251.6 L626.4 1252.4 L626.2 1253 L626 1253.5Z" fill="#8CB7EF" fill-opacity="0.5" stroke="none"/>
<path d="M626 1253.5 L626.2 1249.1 L626.4 1245 L626.6 1241.1 L626.8 1237.5 L627 1234.3 L627.2 1231.5 L627.4 1229.1 L627.6 1226.9 L627.8 1224.9 L628 1222.8 L628.2 1220.6 L628.4 1218.1 L628.6 1215.3 L628.8 1212.4 L629 1209.3 L629.2 1206.2 L629.4 1203.2 L629.6 1200.4 L629.8 1197.7 L630 1195.3 L630.2 1193.2 L630.4 1191.2 L630.6 1189.2 L630.8 1187.3 L631 1185.6 L631.2 1183.9 L631.4 1182.4 L631.6 1181 L631.8 1179.7 L632 1178.5 L632.2 1177.4 L632.4 1176.4 L632.6 1175.4 L632.8 1174.4 L633 1173.6 L633.2 1172.7 L633.4 1171.8 L633.6 1171 L633.8 1170.3 L634 1169.5 L634.2 1168.5 L634.4 1167.8 L634.6 1166.9 L634.8 1165.9 L635 1165.1 L635.2 1164 L635.4 1162.9 L635.6 1161.9 L635.8 1160.8 L636 1159.7 L636.2 1158.5 L636.4 1157.5 L636.6 1156.5 L636.8 1155.5 L637 1154.5 L637.2 1153.6 L637.4 1152.9 L637.6 1152.3 L637.8 1151.7 L638 1150.8 L639.2 1147.3 L640.4 1144.7 L641.6 1142.5 L642.8 1140.4 L644 1138.2 L645.2 1136.7 L646.4 1135.6 L647.6 1134 L648.8 1132.8 L650 1131.8 L651.2 1130.4 L652.4 1129.7 L653.6 1129.1 L654.8 1128.6 L656 1128.1 L657.2 1126.9 L658.4 1125.9 L659.6 1125.2 L660.8 1124.9 L662 1124.2 L663.2 1123.4 L664.4 1122.7 L665.6 1122.4 L666.8 1121.8 L668 1121 L669.2 1120.7 L670.4 1120.2 L671.6 1119.7 L672.8 1119.2 L674 1118.5 L675.2 1118.6 L676.4 1118.5 L677.6 1118.1 L678.8 1117.9 L680 1117.5 L681.2 1117.4 L682.4 1116.9 L683.6 1116.3 L684.8 1115.6 L686 1115.3 L687.2 1114.7 L688.4 1114 L689.6 1113.5 L690.8 1113.2 L692 1113.3 L693.2 1113.4 L694.4 1112.7 L695.6 1111.9 L696.8 1111.5 L698 1111.5 L699.2 1111.7 L700.4 1111.4 L701.6 1111.1 L702.8 1111.2 L704 1110.7 L705.2 1110.4 L706.4 1110.7 L707.6 1110.3 L708.8 1109.9 L710 1109.9 L711.2 1109.7 L712.4 1109.3 L713.6 1109 L714.8 1109 L716 1108.4 L717.2 1107.8 L718.4 1107.5 L719.6 1107.3 L720.8 1107.2 L722 1106.9 L723.2 1106.6 L724.4 1106.3 L725.6 1106.3 L726.8 1106.4 L728 1105.9 L729.2 1105.5 L730.4 1105.2 L731.6 1104.8 L732.8 1104.7 L734 1104.9 L735.2 1104.2 L736.4 1103.6 L737.6 1103.8 L738.8 1104.1 L740 1103.5 L741.2 1102.8 L742.4 1102.5 L743.6 1102.7 L744.8 1102.9 L746 1102.4 L747.2 1102 L748.4 1102 L749.6 1101.9 L750.8 1102 L752 1101.8 L753.2 1101.6 L754.4 1101.6 L755.6 1101.3 L756.8 1100.9 L758 1101 L759.2 1101 L760.4 1100.5 L761.6 1100.3 L762.8 1100.2 L764 1099.7 L765.2 1099.8 L766.4 1099.5 L767.6 1099 L768.8 1098.5 L770 1098.6 L771.2 1098.6 L772.4 1098.4 L773.6 1098.4 L774.8 1098 L776 1097.7 L777.2 1097.4 L778.4 1097.4 L779.6 1097.6 L780.8 1097.5 L782 1097.2 L783.2 1097.4 L784.4 1097.6 L785.6 1097.3 L786.8 1096.9 L788 1096.7 L789.2 1096.6 L790.4 1096.4 L791.6 1096.1 L792.8 1095.9 L794 1095.8 L795.2 1095.2 L796.4 1094.7 L797.6 1095 L798.8 1095.2 L800 1094.6 L801.2 1094 L802.4 1094.2 L803.6 1094.2 L804.8 1093.9 L806 1094 L807.2 1093.9 L808.4 1093.5 L809.6 1093.4 L810.8 1092.8 L812 1092.2 L813.2 1092.8 L814.4 1092.9 L815.6 1092.4 L816.8 1091.9 L818 1091.8 L819.2 1091.5 L820.4 1091 L821.6 1091.1 L822.8 1090.6 L824 1090.4 L825.2 1089.9 L826.4 1089.8 L827.6 1090.2 L828.8 1089.7 L830 1089.1 L831.2 1088.9 L832.4 1088.8 L833.6 1088.6 L834.8 1088.8 L836 1088.5 L837.2 1088.2 L838.4 1087.9 L839.6 1088.3 L840.8 1088.4 L842 1087.4 L843.2 1087.3 L844.4 1088.1 L845.6 1087.8 L846.8 1087.2 L848 1087.2 L849.2 1087.2 L850.4 1087.3 L851.6 1086.9 L852.8 1086 L854 1085.8 L855.2 1085.7 L856.4 1085.3 L857.6 1085.6 L858.8 1085.7 L860 1085.3 L861.2 1085.3 L862.4 1085.2 L863.6 1084.8 L864.8 1084.8 L866 1084.6 L867.2 1084.3 L868.4 1084.2 L869.6 1083.8 L870.8 1083.6 L872 1083.7 L873.2 1083.7 L874.4 1083.4 L875.6 1083.2 L876.8 1082.7 L878 1082.3 L879.2 1082.1 L880.4 1081.3 L881.6 1081.1 L882.8 1081.5 L884 1081.6 L885.2 1081.3 L886.4 1080.9 L887.6 1080.6 L888.8 1080.3 L890 1080.3 L891.2 1080.3 L892.4 1080.3 L893.6 1080.1 L894.8 1079.8 L896 1079.6 L897.2 1079.5 L898.4 1079.2 L899.6 1079 L900.8 1079.2 L902 1078.6 L903.2 1078 L904.4 1078 L905.6 1077.9 L906.8 1077.6 L908 1077.6 L909.2 1077.9 L910.4 1078 L911.6 1077.9 L912.8 1077.7 L914 1077.3 L915.2 1077.1 L916.4 1077.1 L917.6 1077.4 L918.8 1077.5 L920 1076.9 L921.2 1076.1 L922.4 1075.9 L923.6 1076.2 L924.8 1076.2 L926 1075.7 L927.2 1075.6 L928.4 1075.6 L929.6 1075.2 L930.8 1075 L932 1075.1 L933.2 1075.1 L934.4 1074.8 L935.6 1074.5 L936.8 1074.3 L938 1074.4 L939.2 1074.4 L940.4 1074.4 L941.6 1074.2 L942.8 1073.8 L944 1073.7 L945.2 1073.5 L946.4 1073.3 L947.6 1073.2 L948.8 1073.1 L950 1073.1 L951.2 1073.3 L952.4 1072.7 L953.6 1072.3 L954.8 1072.6 L956 1072.5 L957.2 1072.3 L958.4 1072.1 L959.6 1072 L960.8 1072 L962 1071.8 L963.2 1071.1 L964.4 1071 L965.6 1071 L966.8 1070.8 L968 1071.1 L969.2 1070.4 L970.4 1069.7 L971.6 1069.7 L972.8 1070 L974 1069.7 L975.2 1069.2 L976.4 1069 L977.6 1069 L978.8 1068.9 L980 1068.2 L981.2 1068.2 L982.4 1068.3 L983.6 1067.8 L984.8 1067.4 L986 1067.6 L987.2 1067.5 L988.4 1067 L989.6 1067 L990.8 1066.7 L992 1066.2 L993.2 1065.6 L994.4 1065.4 L995.6 1065.9 L996.8 1065.4 L998 1064.5 L999.2 1064.8 L1000.4 1064.5 L1001.6 1064.3 L1002.8 1064.4 L1004 1063.9 L1005.2 1063.2 L1006.4 1063.2 L1007.6 1063.2 L1008.8 1063.1 L1010 1062.7 L1011.2 1062.2 L1012.4 1061.8 L1013.6 1061.3 L1014.8 1061 L1016 1060.9 L1017.2 1061.1 L1018.4 1061.4 L1019.6 1060.9 L1020.8 1060.6 L1022 1060.4 L1023.2 1060.4 L1024.4 1060.2 L1025.6 1059.5 L1026.8 1059.4 L1028 1059.1 L1029.2 1058.7 L1030.4 1058.7 L1031.6 1058.3 L1032.8 1057.9 L1034 1057.9 L1035.2 1058.2 L1036.4 1058 L1037.6 1057.6 L1038.8 1057.2 L1040 1057.3 L1041.2 1057.4 L1042.4 1057.4 L1043.6 1057 L1044.8 1056.4 L1046 1056.2 L1047.2 1056.3 L1048.4 1055.9 L1049.6 1055.4 L1050.8 1055.2 L1052 1055.4 L1053.2 1055.5 L1054.4 1054.9 L1055.6 1054.5 L1056.8 1054.7 L1058 1054.1 L1059.2 1053.5 L1060.4 1053.6 L1061.6 1053.6 L1062.8 1053.2 L1064 1053.1 L1065.2 1052.9 L1066.4 1052.8 L1067.6 1052.8 L1068.8 1052.4 L1070 1052.4 L1071.2 1052.3 L1072.4 1051.9 L1073.6 1051.9 L1074.8 1052 L1076 1051.7 L1077.2 1051.9 L1078.4 1051.3 L1079.6 1051.1 L1080.8 1051.4 L1082 1051.6 L1083.2 1051 L1084.4 1050.6 L1085.6 1051.1 L1086.8 1050.9 L1088 1050.5 L1089.2 1050.2 L1090.4 1049.7 L1091.6 1049.8 L1092.8 1049.8 L1094 1049.1 L1095.2 1049.2 L1096.4 1049.7 L1097.6 1049.5 L1098.8 1049.4 L1100 1048.9 L1101.2 1048.6 L1102.4 1048.5 L1103.6 1048.1 L1104.8 1048.1 L1106 1048 L1107.2 1047.7 L1108.4 1048 L1109.6 1047.9 L1110.8 1047.4 L1112 1047.4 L1113.2 1047.2 L1114.4 1046.8 L1115.6 1047 L1116.8 1047 L1118 1046.5 L1119.2 1046.4 L1120.4 1046.4 L1121.6 1046.3 L1122.8 1046 L1124 1045.5 L1125.2 1045.9 L1126.4 1046 L1127.6 1045.5 L1128.8 1045.2 L1130 1045 L1131.2 1045.3 L1132.4 1045.4 L1133.6 1045 L1134.8 1044.3 L1136 1044.3 L1137.2 1044.6 L1138.4 1044.5 L1139.6 1044.2 L1140.8 1043.8 L1142 1043.7 L1143.2 1043.1 L1144.4 1042.7 L1145.6 1042.9 L1146.8 1042.9 L1148 1042.6 L1149.2 1042.2 L1150.4 1042.4 L1151.6 1042.4 L1152.8 1041.6 L1154 1041.2 L1155.2 1041.4 L1156.4 1041.6 L1157.6 1041.8 L1158.8 1041.6 L1160 1041.3 L1161.2 1041.2 L1162.4 1041.1 L1163.6 1040.9 L1164.8 1040.6 L1166 1040 L1167.2 1039.8 L1168.4 1039.7 L1169.6 1039.5 L1170.8 1039.6 L1172 1039.5 L1173.2 1038.9 L1174.4 1038.8 L1175.6 1038.9 L1176.8 1038.5 L1178 1038.6 L1179.2 1038.8 L1180.4 1038.6 L1181.6 1038.7 L1182.8 1038.3 L1184 1038 L1185.2 1038.2 L1186.4 1037.7 L1187.6 1037.7 L1188.8 1037.4 L1190 1037 L1191.2 1037.2 L1192.4 1037 L1193.6 1036.6 L1194.8 1036.7 L1196 1036.9 L1197.2 1036.4 L1198.4 1036.3 L1199.6 1036.4 L1200.8 1035.8 L1202 1035.8 L1203.2 1035.9 L1204.4 1035.6 L1205.6 1035.5 L1206.8 1035.4 L1208 1035.1 L1209.2 1034.7 L1210.4 1034.9 L1211.6 1035 L1212.8 1035 L1214 1034.7 L1215.2 1034.2 L1216.4 1033.9 L1217.6 1034.1 L1218.8 1034.3 L1220 1033.8 L1221.2 1033.9 L1222.4 1033.7 L1223.6 1033.2 L1224.8 1032.7 L1226 1033 L1227.2 1033 L1228.4 1032.6 L1229.6 1032.3 L1230.8 1032.5 L1232 1032.1 L1233.2 1031.7 L1234.4 1032 L1235.6 1032 L1236.8 1031.6 L1238 1031.2 L1239.2 1031.4 L1240.4 1031.4 L1241.6 1031.1 L1242.8 1030.7 L1244 1030.7 L1245.2 1030.6 L1246.4 1030.5 L1247.6 1030.7 L1248.8 1030.5 L1250 1030.3 L1251.2 1030.2 L1252.4 1030 L1253.6 1029.9 L1254.8 1029.8 L1256 1029.7 L1257.2 1029.8 L1258.4 1029.4 L1259.6 1029.4 L1260.8 1029.3 L1262 1029.2 L1263.2 1029.2 L1264.4 1029 L1265.6 1029.4 L1266.8 1029.2 L1268 1028.6 L1269.2 1028.4 L1270.4 1028.8 L1271.6 1028.9 L1272.8 1028.4 L1274 1028.3 L1275.2 1028.5 L1276.4 1028.1 L1277.6 1028 L1278.8 1028.2 L1280 1028.2 L1281.2 1027.9 L1282.4 1028.1 L1283.6 1028 L1284.8 1027.6 L1285 1028 M1285.1 1028V1080" stroke="#1A6FDF" stroke-width="5.4"/>
</g>
<text transform="translate(588.68 1261.20) scale(1.0100 1)" font-size="35.60">0</text>
<text transform="translate(568.73 1179.70) scale(1.0100 1)" font-size="35.60">20</text>
<text transform="translate(568.73 1098.20) scale(1.0100 1)" font-size="35.60">40</text>
<text transform="translate(568.73 1016.70) scale(1.0100 1)" font-size="35.60">60</text>
<text transform="translate(568.73 935.20) scale(1.0100 1)" font-size="35.60">80</text>
<text transform="translate(548.77 853.70) scale(1.0100 1)" font-size="35.60">100</text>
<text transform="translate(548.77 772.20) scale(1.0100 1)" font-size="35.60">120</text>
<text transform="translate(615.62 1295.20) scale(1.0100 1)" font-size="35.60">0</text>
<text transform="translate(747.53 1295.20) scale(1.0100 1)" font-size="35.60">2</text>
<text transform="translate(879.08 1295.20) scale(1.0100 1)" font-size="35.60">4</text>
<text transform="translate(1011.08 1295.20) scale(1.0100 1)" font-size="35.60">6</text>
<text transform="translate(1142.90 1295.20) scale(1.0100 1)" font-size="35.60">8</text>
<text transform="translate(1264.29 1295.20) scale(1.0100 1)" font-size="35.60">10</text>
<text transform="translate(435.04 741.00) scale(0.9437 1)" font-size="57.50">(C)</text>
<text transform="translate(750.65 1345.50) scale(0.9303 1)" font-size="48.50">Sliding distance</text>
<text transform="translate(1119.40 1345.50) scale(1.0322 1)" font-size="48.50">(mm)</text>
<text transform="translate(521.50 1243.13) rotate(-90) scale(0.9126 1)" font-size="48.50">Sliding resistance</text>
<text transform="translate(521.50 838.40) rotate(-90) scale(1.0709 1)" font-size="48.50">(N)</text>
<line x1="1025.1" y1="1112" x2="1096" y2="1112" stroke="#515151" stroke-width="5.6" stroke-linecap="round"/>
<text transform="translate(1104.04 1122.20) scale(1.0396 1)" font-size="30.20">0.1mm/min</text>
<line x1="1025.1" y1="1152.2" x2="1096" y2="1152.2" stroke="#F14040" stroke-width="5.6" stroke-linecap="round"/>
<text transform="translate(1104.04 1162.45) scale(1.0396 1)" font-size="30.20">0.5mm/min</text>
<line x1="1025.1" y1="1192.5" x2="1096" y2="1192.5" stroke="#1A6FDF" stroke-width="5.6" stroke-linecap="round"/>
<text transform="translate(1104.65 1202.70) scale(1.0458 1)" font-size="30.20">1mm/min</text>
</g>
</svg></body></html>
